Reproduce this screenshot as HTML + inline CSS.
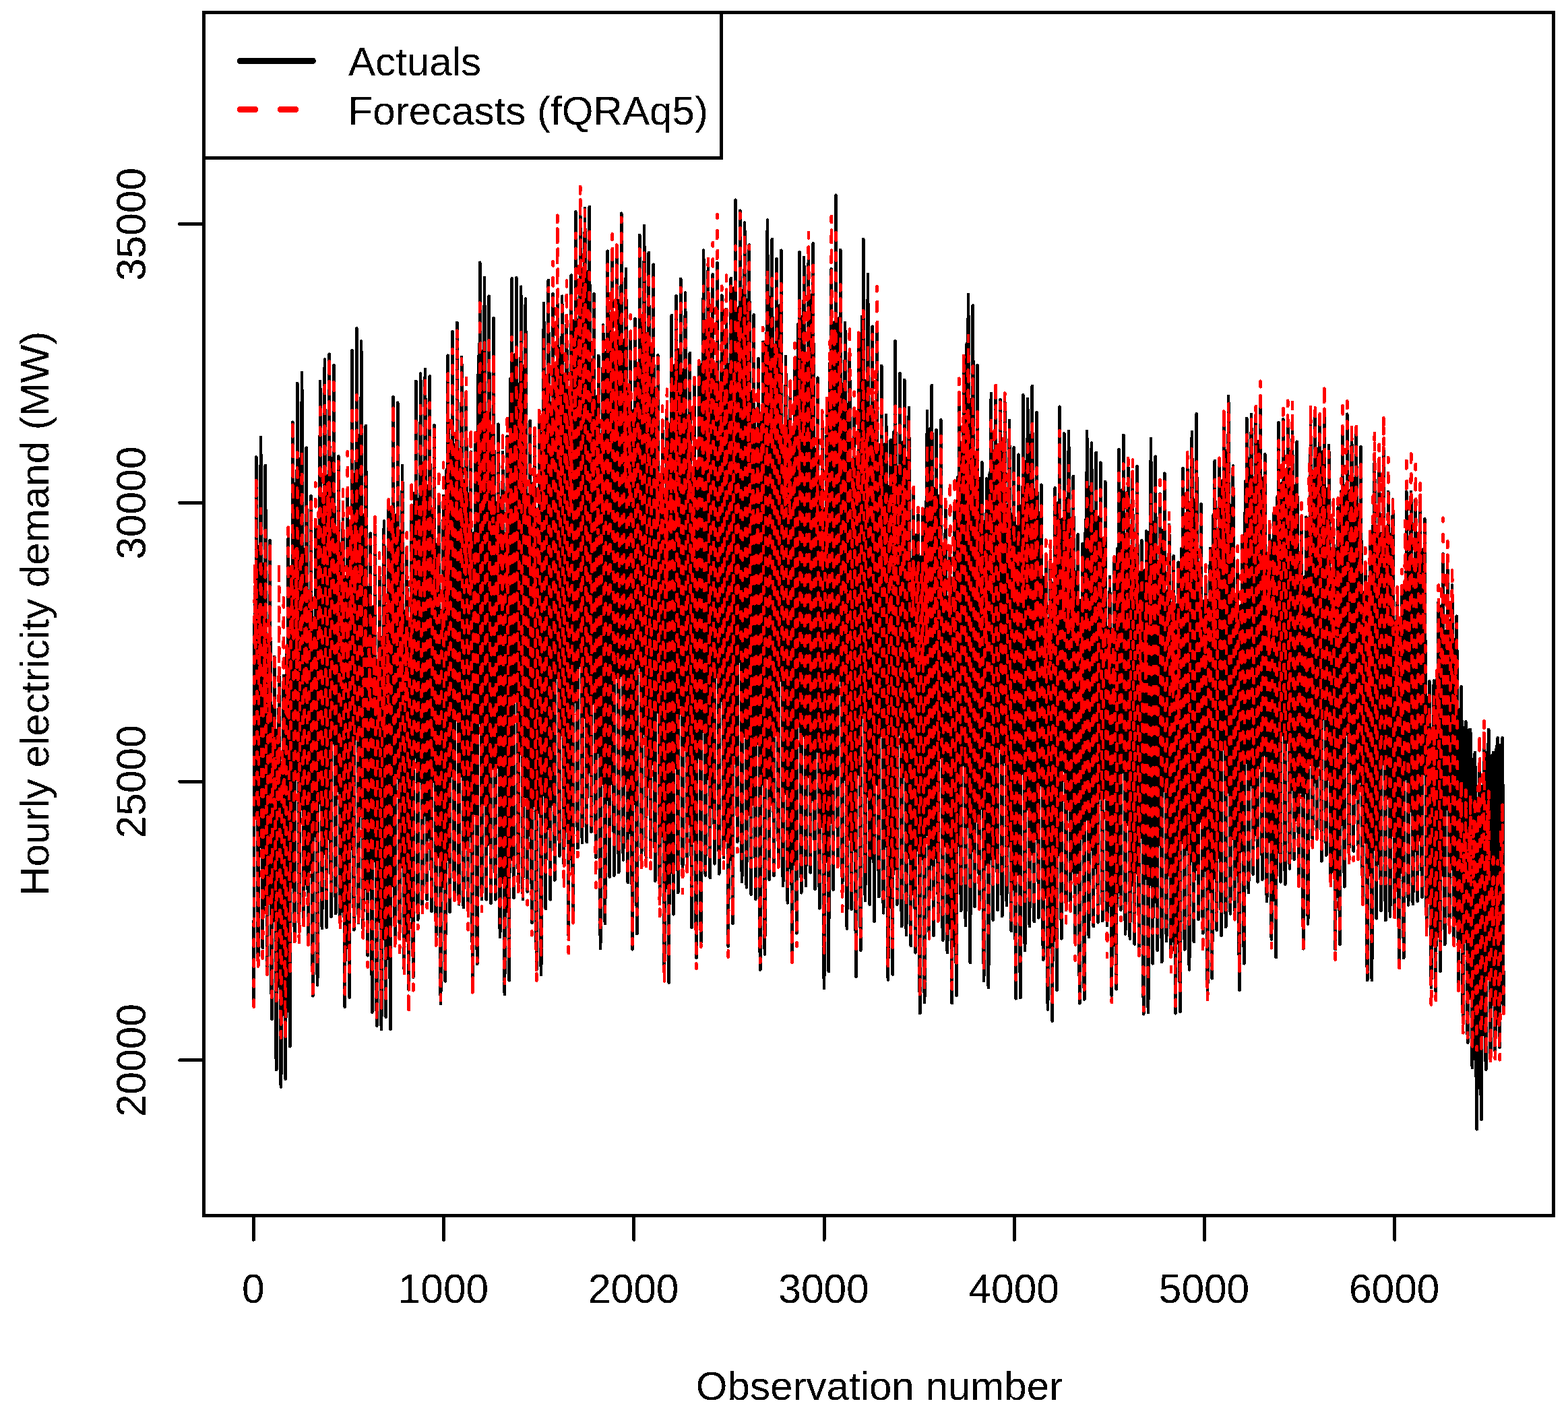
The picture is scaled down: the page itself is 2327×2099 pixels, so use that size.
<!DOCTYPE html>
<html lang="en"><head><meta charset="utf-8"><title>Hourly electricity demand: actuals vs forecasts (fQRAq5)</title>
<style>
html,body{margin:0;padding:0;background:#fff;}
body{width:2327px;height:2099px;overflow:hidden;}
svg{display:block;}
text{font-family:"Liberation Sans",sans-serif;fill:#000;}
.lab{font-size:60.1px;}
.tick{font-size:60.4px;}
</style></head><body>
<svg width="2327" height="2099" viewBox="0 0 2327 2099">
<rect x="0" y="0" width="2327" height="2099" fill="#fff"/>
<g fill="none" stroke-linejoin="round" stroke-linecap="round" shape-rendering="crispEdges">
<path stroke="#000" stroke-width="4.7" d="M376.6 1485.3L376.9 1351.2L377.1 1151.4L377.4 965.4L377.7 966.9L378.0 892.0L378.3 885.2L378.6 904.7L378.8 878.9L379.1 934.6L379.4 953.4L379.7 935.7L380.0 773.6L380.3 678.5L380.5 722.1L380.8 814.6L381.1 924.3L381.4 1035.8L381.7 1141.3L381.9 1232.5L382.2 1322.8L382.5 1386.4L382.8 1418.1L383.1 1427.7L383.4 1395.5L383.6 1291.8L383.9 1100.9L384.2 917.8L384.5 903.4L384.8 819.6L385.0 811.0L385.3 848.2L385.6 908.4L385.9 941.8L386.2 965.1L386.5 960.8L386.7 746.1L387.0 649.0L387.3 695.2L387.6 782.7L387.9 903.3L388.2 1008.7L388.4 1109.2L388.7 1209.7L389.0 1303.9L389.3 1364.3L389.6 1395.9L389.8 1406.9L390.1 1380.2L390.4 1283.1L390.7 1103.1L391.0 930.5L391.3 920.8L391.5 840.5L391.8 836.5L392.1 861.3L392.4 869.6L392.7 920.9L393.0 942.5L393.2 916.0L393.5 782.1L393.8 691.2L394.1 738.2L394.4 827.5L394.6 936.6L394.9 1041.3L395.2 1146.1L395.5 1245.1L395.8 1332.5L396.1 1391.6L396.3 1423.1L396.6 1439.2L396.9 1416.7L397.2 1333.6L397.5 1163.4L397.8 1001.6L398.0 1009.3L398.3 952.3L398.6 960.1L398.9 992.1L399.2 1028.9L399.4 1073.7L399.7 1088.9L400.0 1078.3L400.3 887.5L400.6 802.0L400.9 846.5L401.1 930.2L401.4 1033.9L401.7 1134.4L402.0 1236.0L402.3 1319.9L402.5 1410.8L402.8 1468.6L403.1 1499.4L403.4 1513.0L403.7 1493.0L404.0 1420.9L404.2 1277.5L404.5 1138.0L404.8 1122.1L405.1 1059.9L405.4 1048.3L405.7 1087.8L405.9 1112.0L406.2 1141.1L406.5 1167.2L406.8 1157.5L407.1 1045.6L407.3 975.0L407.6 1013.9L407.9 1085.6L408.2 1172.6L408.5 1258.8L408.8 1342.9L409.0 1424.9L409.3 1500.1L409.6 1549.3L409.9 1575.7L410.2 1588.0L410.5 1567.5L410.7 1488.2L411.0 1332.6L411.3 1187.2L411.6 1143.0L411.9 1101.1L412.1 1083.9L412.4 1112.0L412.7 1192.9L413.0 1217.6L413.3 1236.4L413.6 1221.4L413.8 1070.1L414.1 995.0L414.4 1029.9L414.7 1104.7L415.0 1200.5L415.3 1284.6L415.5 1369.6L415.8 1450.9L416.1 1521.3L416.4 1573.9L416.7 1599.6L416.9 1613.4L417.2 1592.0L417.5 1509.9L417.8 1356.1L418.1 1213.9L418.4 1220.9L418.6 1141.0L418.9 1134.4L419.2 1167.2L419.5 1220.1L419.8 1236.4L420.0 1273.1L420.3 1253.9L420.6 1079.3L420.9 1003.0L421.2 1036.5L421.5 1114.5L421.7 1203.2L422.0 1284.9L422.3 1366.6L422.6 1448.0L422.9 1518.0L423.2 1567.2L423.4 1588.9L423.7 1601.9L424.0 1567.3L424.3 1470.0L424.6 1273.6L424.8 1081.2L425.1 1056.0L425.4 963.3L425.7 968.7L426.0 1000.7L426.3 1080.7L426.5 1113.4L426.8 1136.5L427.1 1132.2L427.4 894.4L427.7 799.3L428.0 846.3L428.2 938.3L428.5 1049.3L428.8 1152.5L429.1 1264.5L429.4 1364.0L429.6 1452.7L429.9 1511.1L430.2 1539.0L430.5 1553.4L430.8 1514.9L431.1 1397.8L431.3 1180.4L431.6 972.6L431.9 960.9L432.2 862.0L432.5 852.0L432.8 883.1L433.0 948.3L433.3 984.2L433.6 990.0L433.9 962.9L434.2 736.2L434.4 626.6L434.7 674.1L435.0 766.3L435.3 881.7L435.6 991.2L435.9 1105.5L436.1 1209.0L436.4 1303.5L436.7 1359.2L437.0 1390.5L437.3 1397.7L437.5 1367.9L437.8 1255.1L438.1 1054.7L438.4 853.4L438.7 808.1L439.0 743.4L439.2 717.4L439.5 770.0L439.8 822.4L440.1 867.6L440.4 887.6L440.7 861.4L440.9 669.9L441.2 568.9L441.5 619.4L441.8 713.7L442.1 837.2L442.3 949.3L442.6 1055.9L442.9 1163.7L443.2 1256.5L443.5 1319.8L443.8 1351.4L444.0 1370.0L444.3 1339.8L444.6 1229.8L444.9 1028.2L445.2 833.9L445.5 774.2L445.7 697.2L446.0 680.5L446.3 717.7L446.6 764.3L446.9 819.8L447.1 844.4L447.4 828.4L447.7 654.4L448.0 552.7L448.3 599.6L448.6 701.3L448.8 823.6L449.1 930.9L449.4 1050.0L449.7 1151.1L450.0 1248.8L450.2 1319.9L450.5 1345.6L450.8 1365.3L451.1 1337.2L451.4 1242.7L451.7 1065.1L451.9 894.8L452.2 901.0L452.5 815.1L452.8 828.5L453.1 852.7L453.4 843.2L453.6 878.8L453.9 893.8L454.2 872.5L454.5 752.9L454.8 664.7L455.0 705.6L455.3 797.2L455.6 901.0L455.9 1002.3L456.2 1111.6L456.5 1200.4L456.7 1290.0L457.0 1347.3L457.3 1376.1L457.6 1393.0L457.9 1372.1L458.2 1283.8L458.4 1103.8L458.7 938.6L459.0 956.9L459.3 898.5L459.6 884.5L459.8 926.9L460.1 899.2L460.4 928.5L460.7 967.1L461.0 943.8L461.3 818.9L461.5 736.2L461.8 778.8L462.1 868.8L462.4 983.9L462.7 1082.1L463.0 1186.3L463.2 1281.6L463.5 1372.3L463.8 1428.0L464.1 1459.2L464.4 1478.4L464.6 1452.6L464.9 1361.5L465.2 1181.6L465.5 1013.6L465.8 1006.4L466.1 936.8L466.3 929.5L466.6 955.3L466.9 987.5L467.2 1027.1L467.5 1050.2L467.7 1040.1L468.0 855.3L468.3 770.8L468.6 808.6L468.9 896.2L469.2 997.5L469.4 1098.6L469.7 1193.3L470.0 1286.3L470.3 1363.8L470.6 1421.7L470.9 1451.3L471.1 1462.3L471.4 1422.3L471.7 1313.4L472.0 1099.8L472.3 891.6L472.5 891.6L472.8 798.3L473.1 796.1L473.4 844.7L473.7 787.0L474.0 840.2L474.2 852.6L474.5 842.1L474.8 671.6L475.1 565.9L475.4 611.7L475.7 714.6L475.9 837.4L476.2 953.3L476.5 1067.9L476.8 1173.8L477.1 1271.5L477.3 1331.6L477.6 1364.1L477.9 1378.0L478.2 1345.6L478.5 1232.5L478.8 1020.0L479.0 824.7L479.3 831.9L479.6 741.2L479.9 732.5L480.2 782.1L480.5 764.1L480.7 804.8L481.0 837.2L481.3 809.9L481.6 635.3L481.9 533.6L482.1 585.3L482.4 684.7L482.7 812.4L483.0 926.5L483.3 1046.9L483.6 1154.8L483.8 1255.9L484.1 1324.4L484.4 1362.7L484.7 1376.9L485.0 1343.4L485.2 1230.3L485.5 1017.4L485.8 818.9L486.1 801.4L486.4 720.1L486.7 705.9L486.9 753.3L487.2 797.2L487.5 826.7L487.8 865.9L488.1 839.6L488.4 629.4L488.6 525.7L488.9 574.9L489.2 676.4L489.5 804.7L489.8 922.0L490.0 1034.0L490.3 1145.7L490.6 1241.3L490.9 1308.1L491.2 1344.7L491.5 1360.7L491.7 1330.0L492.0 1224.7L492.3 1015.9L492.6 822.8L492.9 774.2L493.2 680.9L493.4 680.5L493.7 722.0L494.0 823.3L494.3 870.2L494.6 903.6L494.8 880.5L495.1 644.7L495.4 541.9L495.7 588.1L496.0 686.4L496.3 808.4L496.5 925.3L496.8 1040.8L497.1 1141.1L497.4 1243.9L497.7 1309.3L497.9 1338.8L498.2 1356.1L498.5 1331.1L498.8 1236.8L499.1 1073.2L499.4 907.6L499.6 887.1L499.9 810.4L500.2 819.6L500.5 855.6L500.8 899.5L501.1 949.7L501.3 979.3L501.6 954.9L501.9 764.2L502.2 677.4L502.5 718.7L502.7 805.5L503.0 909.5L503.3 1001.5L503.6 1101.6L503.9 1188.5L504.2 1269.4L504.4 1326.2L504.7 1352.7L505.0 1370.0L505.3 1344.4L505.6 1263.5L505.9 1094.2L506.1 931.1L506.4 885.4L506.7 820.2L507.0 830.5L507.3 852.4L507.5 886.8L507.8 932.6L508.1 955.4L508.4 954.4L508.7 832.9L509.0 750.8L509.2 800.2L509.5 883.4L509.8 993.0L510.1 1097.1L510.4 1197.0L510.7 1294.6L510.9 1380.1L511.2 1444.1L511.5 1477.9L511.8 1494.6L512.1 1464.1L512.3 1364.6L512.6 1177.7L512.9 994.7L513.2 947.5L513.5 866.7L513.8 856.2L514.0 889.3L514.3 923.7L514.6 944.4L514.9 989.2L515.2 961.1L515.4 828.2L515.7 729.3L516.0 776.2L516.3 868.2L516.6 974.5L516.9 1082.9L517.1 1188.9L517.4 1284.6L517.7 1376.5L518.0 1435.3L518.3 1466.4L518.6 1480.7L518.8 1440.1L519.1 1317.5L519.4 1088.6L519.7 871.1L520.0 887.0L520.2 788.1L520.5 778.6L520.8 813.0L521.1 811.0L521.4 847.1L521.7 885.6L521.9 862.0L522.2 640.4L522.5 520.4L522.8 573.0L523.1 674.5L523.4 809.4L523.6 927.2L523.9 1052.3L524.2 1161.9L524.5 1268.6L524.8 1338.5L525.0 1364.9L525.3 1380.3L525.6 1344.7L525.9 1227.6L526.2 1002.6L526.5 792.4L526.7 793.7L527.0 704.1L527.3 705.7L527.6 743.0L527.9 748.5L528.2 796.3L528.4 827.8L528.7 794.6L529.0 600.7L529.3 487.4L529.6 541.3L529.8 647.4L530.1 779.8L530.4 901.8L530.7 1027.3L531.0 1142.2L531.3 1250.6L531.5 1319.9L531.8 1355.4L532.1 1370.0L532.4 1336.5L532.7 1221.8L532.9 1004.1L533.2 799.3L533.5 757.7L533.8 663.2L534.1 645.6L534.4 705.9L534.6 731.9L534.9 775.5L535.2 800.6L535.5 786.2L535.8 616.8L536.1 506.6L536.3 558.6L536.6 663.0L536.9 796.4L537.2 913.6L537.5 1039.8L537.7 1156.9L538.0 1259.8L538.3 1327.5L538.6 1365.1L538.9 1381.5L539.2 1349.9L539.4 1256.6L539.7 1060.4L540.0 875.3L540.3 856.9L540.6 774.0L540.9 764.1L541.1 807.6L541.4 888.2L541.7 914.6L542.0 958.6L542.3 938.5L542.5 729.3L542.8 631.9L543.1 677.9L543.4 774.7L543.7 888.8L544.0 1001.0L544.2 1107.4L544.5 1214.1L544.8 1308.8L545.1 1367.7L545.4 1399.2L545.6 1418.4L545.9 1397.6L546.2 1306.8L546.5 1148.2L546.8 987.3L547.1 933.8L547.3 872.5L547.6 877.1L547.9 915.0L548.2 952.6L548.5 1000.4L548.8 1019.9L549.0 1022.5L549.3 872.1L549.6 791.6L549.9 839.0L550.2 922.1L550.4 1026.0L550.7 1121.4L551.0 1221.7L551.3 1310.0L551.6 1394.6L551.9 1456.8L552.1 1484.5L552.4 1502.7L552.7 1476.2L553.0 1382.7L553.3 1198.9L553.6 1024.0L553.8 985.5L554.1 916.1L554.4 900.3L554.7 939.5L555.0 1014.3L555.2 1064.4L555.5 1101.2L555.8 1064.2L556.1 875.0L556.4 788.9L556.7 834.9L556.9 923.7L557.2 1034.5L557.5 1134.1L557.8 1234.4L558.1 1333.5L558.4 1415.6L558.6 1479.1L558.9 1504.1L559.2 1522.7L559.5 1494.8L559.8 1404.9L560.0 1235.5L560.3 1077.1L560.6 1060.3L560.9 995.3L561.2 979.9L561.5 1026.2L561.7 1044.8L562.0 1085.3L562.3 1120.4L562.6 1102.2L562.9 926.6L563.1 845.4L563.4 888.9L563.7 971.2L564.0 1069.2L564.3 1165.2L564.6 1262.2L564.8 1353.6L565.1 1431.3L565.4 1489.8L565.7 1516.3L566.0 1528.0L566.3 1493.6L566.5 1397.2L566.8 1214.7L567.1 1030.6L567.4 1034.0L567.7 952.9L567.9 952.7L568.2 998.1L568.5 973.4L568.8 988.9L569.1 1018.5L569.4 1014.1L569.6 863.7L569.9 773.6L570.2 815.6L570.5 902.8L570.8 1013.4L571.1 1116.3L571.3 1224.5L571.6 1321.3L571.9 1409.3L572.2 1469.3L572.5 1496.8L572.7 1509.6L573.0 1483.5L573.3 1382.1L573.6 1188.2L573.9 1003.8L574.2 1004.0L574.4 919.9L574.7 907.2L575.0 952.4L575.3 969.9L575.6 1008.1L575.9 1028.4L576.1 1013.2L576.4 848.9L576.7 754.7L577.0 799.0L577.3 897.1L577.5 1009.0L577.8 1118.9L578.1 1227.3L578.4 1327.8L578.7 1420.3L579.0 1482.6L579.2 1510.0L579.5 1528.0L579.8 1491.3L580.1 1373.4L580.4 1152.6L580.6 934.1L580.9 855.5L581.2 781.2L581.5 758.7L581.8 793.7L582.1 922.8L582.3 937.6L582.6 978.2L582.9 944.6L583.2 699.2L583.5 589.0L583.8 634.1L584.0 734.2L584.3 859.1L584.6 967.0L584.9 1085.8L585.2 1188.6L585.4 1291.9L585.7 1349.4L586.0 1377.7L586.3 1393.0L586.6 1359.5L586.9 1255.1L587.1 1062.8L587.4 873.1L587.7 862.3L588.0 769.8L588.3 764.3L588.6 798.9L588.8 814.2L589.1 847.7L589.4 879.0L589.7 865.5L590.0 699.5L590.2 597.7L590.5 645.2L590.8 735.6L591.1 857.7L591.4 966.0L591.7 1080.3L591.9 1180.1L592.2 1275.2L592.5 1336.8L592.8 1366.5L593.1 1381.5L593.4 1353.3L593.6 1260.4L593.9 1083.4L594.2 913.2L594.5 851.9L594.8 787.8L595.0 788.5L595.3 814.3L595.6 871.4L595.9 906.1L596.2 929.4L596.5 909.7L596.7 776.0L597.0 690.7L597.3 735.2L597.6 827.9L597.9 937.0L598.1 1041.0L598.4 1141.8L598.7 1244.5L599.0 1329.2L599.3 1389.5L599.6 1418.8L599.8 1439.2L600.1 1418.1L600.4 1336.1L600.7 1177.4L601.0 1023.5L601.3 977.9L601.5 915.0L601.8 906.9L602.1 924.2L602.4 999.2L602.7 1033.8L602.9 1070.7L603.2 1047.7L603.5 893.7L603.8 815.4L604.1 857.1L604.4 932.2L604.6 1034.3L604.9 1123.0L605.2 1212.1L605.5 1297.2L605.8 1379.5L606.1 1428.5L606.3 1452.5L606.6 1469.2L606.9 1441.3L607.2 1353.6L607.5 1174.6L607.7 1010.1L608.0 1012.6L608.3 926.6L608.6 920.1L608.9 964.5L609.2 951.8L609.4 981.7L609.7 1012.2L610.0 999.6L610.3 852.5L610.6 768.5L610.8 805.8L611.1 887.7L611.4 996.7L611.7 1090.8L612.0 1182.9L612.3 1277.3L612.5 1352.6L612.8 1409.8L613.1 1440.5L613.4 1450.7L613.7 1416.9L614.0 1302.4L614.2 1092.3L614.5 888.5L614.8 827.7L615.1 746.6L615.4 731.6L615.6 779.4L615.9 853.3L616.2 889.7L616.5 921.7L616.8 897.5L617.1 667.0L617.3 565.9L617.6 610.0L617.9 711.1L618.2 832.9L618.5 944.2L618.8 1057.4L619.0 1161.7L619.3 1262.2L619.6 1324.7L619.9 1352.9L620.2 1365.3L620.4 1332.2L620.7 1225.3L621.0 1025.3L621.3 835.6L621.6 823.1L621.9 745.0L622.1 740.6L622.4 793.9L622.7 759.3L623.0 803.9L623.3 824.9L623.6 800.8L623.8 650.0L624.1 554.4L624.4 601.8L624.7 697.2L625.0 818.7L625.2 931.0L625.5 1037.9L625.8 1142.9L626.1 1235.6L626.4 1298.8L626.7 1331.7L626.9 1346.9L627.2 1318.5L627.5 1208.6L627.8 1013.9L628.1 826.2L628.3 783.9L628.6 700.1L628.9 687.0L629.2 726.9L629.5 780.9L629.8 819.1L630.0 844.8L630.3 826.1L630.6 644.5L630.9 548.1L631.2 597.9L631.5 688.8L631.7 807.8L632.0 920.8L632.3 1027.8L632.6 1133.3L632.9 1225.8L633.1 1287.5L633.4 1319.6L633.7 1335.3L634.0 1303.9L634.3 1199.2L634.6 1004.4L634.8 816.9L635.1 820.0L635.4 735.6L635.7 721.2L636.0 778.3L636.3 784.2L636.5 830.4L636.8 868.0L637.1 844.0L637.4 648.3L637.7 558.5L637.9 608.7L638.2 701.5L638.5 822.1L638.8 931.2L639.1 1045.9L639.4 1146.9L639.6 1237.0L639.9 1301.0L640.2 1339.9L640.5 1352.7L640.8 1322.5L641.1 1229.3L641.3 1049.0L641.6 867.9L641.9 857.8L642.2 787.7L642.5 763.9L642.7 815.0L643.0 885.0L643.3 912.9L643.6 943.7L643.9 918.4L644.2 718.3L644.4 631.2L644.7 681.0L645.0 764.6L645.3 881.1L645.6 985.4L645.8 1092.8L646.1 1186.4L646.4 1278.1L646.7 1339.1L647.0 1371.9L647.3 1388.4L647.5 1366.4L647.8 1277.0L648.1 1098.0L648.4 933.4L648.7 883.5L649.0 807.4L649.2 809.6L649.5 859.1L649.8 870.3L650.1 928.0L650.4 942.8L650.6 932.4L650.9 813.8L651.2 733.9L651.5 778.6L651.8 871.0L652.1 981.5L652.3 1089.4L652.6 1194.4L652.9 1285.8L653.2 1377.3L653.5 1441.8L653.8 1471.8L654.0 1490.0L654.3 1457.9L654.6 1362.2L654.9 1173.5L655.2 1003.7L655.4 982.2L655.7 913.9L656.0 906.2L656.3 924.7L656.6 922.7L656.9 955.6L657.1 991.2L657.4 969.8L657.7 817.8L658.0 736.2L658.3 777.1L658.5 867.2L658.8 973.6L659.1 1072.8L659.4 1174.7L659.7 1271.7L660.0 1358.7L660.2 1418.9L660.5 1443.5L660.8 1456.5L661.1 1416.8L661.4 1298.5L661.7 1080.3L661.9 864.1L662.2 794.9L662.5 707.5L662.8 697.0L663.1 732.9L663.3 824.6L663.6 853.6L663.9 900.8L664.2 866.0L664.5 628.7L664.8 527.7L665.0 572.1L665.3 674.2L665.6 803.1L665.9 920.1L666.2 1038.8L666.5 1148.1L666.7 1243.5L667.0 1310.2L667.3 1339.3L667.6 1353.8L667.9 1317.0L668.1 1204.3L668.4 994.4L668.7 790.6L669.0 770.1L669.3 687.1L669.6 666.8L669.8 708.0L670.1 763.7L670.4 813.1L670.7 835.3L671.0 798.9L671.3 582.4L671.5 492.0L671.8 540.7L672.1 644.5L672.4 767.2L672.7 886.7L672.9 1008.7L673.2 1121.0L673.5 1217.2L673.8 1286.6L674.1 1319.2L674.4 1335.3L674.6 1298.3L674.9 1187.6L675.2 976.9L675.5 770.0L675.8 744.9L676.0 660.0L676.3 667.2L676.6 695.6L676.9 720.6L677.2 762.8L677.5 792.2L677.7 766.2L678.0 569.2L678.3 478.8L678.6 529.9L678.9 637.8L679.2 764.8L679.4 882.4L679.7 1006.6L680.0 1115.6L680.3 1221.0L680.6 1288.6L680.8 1328.4L681.1 1342.3L681.4 1311.0L681.7 1206.9L682.0 1001.4L682.3 808.2L682.5 762.2L682.8 687.4L683.1 678.1L683.4 716.8L683.7 716.9L684.0 757.1L684.2 786.5L684.5 774.4L684.8 618.5L685.1 530.0L685.4 579.5L685.6 673.5L685.9 799.6L686.2 911.2L686.5 1025.8L686.8 1133.7L687.1 1232.6L687.3 1295.6L687.6 1328.6L687.9 1346.9L688.2 1315.6L688.5 1213.9L688.8 1025.1L689.0 844.0L689.3 790.1L689.6 713.8L689.9 713.3L690.2 748.6L690.4 790.6L690.7 813.1L691.0 850.3L691.3 836.4L691.6 661.6L691.9 583.1L692.1 632.3L692.4 717.7L692.7 838.2L693.0 939.8L693.3 1051.7L693.5 1151.1L693.8 1238.6L694.1 1304.2L694.4 1328.9L694.7 1346.9L695.0 1321.5L695.2 1227.1L695.5 1049.9L695.8 873.6L696.1 806.6L696.4 740.2L696.7 732.9L696.9 760.6L697.2 861.7L697.5 902.9L697.8 930.8L698.1 907.0L698.3 744.7L698.6 670.8L698.9 723.3L699.2 813.9L699.5 932.8L699.8 1040.2L700.0 1147.7L700.3 1253.2L700.6 1343.0L700.9 1408.9L701.2 1439.0L701.5 1462.3L701.7 1431.2L702.0 1322.3L702.3 1125.1L702.6 936.0L702.9 874.9L703.1 804.0L703.4 791.2L703.7 827.1L704.0 923.4L704.3 959.6L704.6 983.6L704.8 962.3L705.1 744.8L705.4 659.3L705.7 703.0L706.0 800.4L706.3 912.3L706.5 1023.4L706.8 1130.4L707.1 1229.5L707.4 1327.3L707.7 1390.0L707.9 1415.2L708.2 1431.1L708.5 1389.0L708.8 1259.6L709.1 1007.4L709.4 761.2L709.6 648.5L709.9 544.5L710.2 528.7L710.5 586.5L710.8 678.4L711.0 729.9L711.3 763.8L711.6 727.4L711.9 491.5L712.2 389.7L712.5 446.3L712.7 562.3L713.0 700.4L713.3 838.1L713.6 970.8L713.9 1093.8L714.2 1211.0L714.4 1288.0L714.7 1315.8L715.0 1335.3L715.3 1301.1L715.6 1175.8L715.8 949.2L716.1 722.7L716.4 614.4L716.7 537.3L717.0 520.6L717.3 569.8L717.5 657.8L717.8 704.2L718.1 741.7L718.4 720.7L718.7 507.6L719.0 411.9L719.2 464.8L719.5 577.6L719.8 717.0L720.1 846.5L720.4 978.6L720.6 1098.0L720.9 1203.3L721.2 1278.9L721.5 1313.7L721.8 1335.3L722.1 1297.1L722.3 1185.1L722.6 959.8L722.9 745.3L723.2 709.6L723.5 616.7L723.7 627.6L724.0 669.3L724.3 720.7L724.6 743.6L724.9 788.9L725.2 767.8L725.4 531.6L725.7 439.6L726.0 497.1L726.3 602.2L726.6 736.1L726.9 859.2L727.1 991.7L727.4 1110.2L727.7 1217.8L728.0 1288.0L728.3 1321.6L728.5 1341.1L728.8 1309.7L729.1 1197.1L729.4 974.1L729.7 769.4L730.0 720.9L730.2 632.0L730.5 631.9L730.8 678.4L731.1 665.2L731.4 707.7L731.7 741.8L731.9 714.7L732.2 558.4L732.5 471.9L732.8 521.6L733.1 629.5L733.3 753.9L733.6 879.0L733.9 998.0L734.2 1111.7L734.5 1216.0L734.8 1283.7L735.0 1322.1L735.3 1335.3L735.6 1311.8L735.9 1213.0L736.2 1030.6L736.5 856.9L736.7 819.6L737.0 757.5L737.3 745.8L737.6 775.7L737.9 844.0L738.1 881.1L738.4 914.2L738.7 892.4L739.0 697.2L739.3 629.7L739.6 675.5L739.8 766.3L740.1 877.8L740.4 988.3L740.7 1090.3L741.0 1186.9L741.2 1281.0L741.5 1344.6L741.8 1375.9L742.1 1390.7L742.4 1362.2L742.7 1264.1L742.9 1076.2L743.2 895.7L743.5 819.6L743.8 750.7L744.1 738.9L744.4 780.5L744.6 813.6L744.9 854.3L745.2 903.1L745.5 877.3L745.8 739.5L746.0 670.8L746.3 720.0L746.6 819.5L746.9 936.1L747.2 1047.2L747.5 1157.3L747.7 1259.3L748.0 1358.7L748.3 1419.4L748.6 1459.5L748.9 1476.1L749.2 1441.7L749.4 1337.1L749.7 1131.4L750.0 931.0L750.3 898.0L750.6 804.4L750.8 799.3L751.1 842.7L751.4 820.1L751.7 869.0L752.0 908.6L752.3 868.1L752.5 729.5L752.8 647.7L753.1 693.6L753.4 794.6L753.7 913.3L754.0 1028.2L754.2 1138.0L754.5 1249.2L754.8 1341.3L755.1 1407.8L755.4 1438.2L755.6 1455.3L755.9 1412.3L756.2 1282.2L756.5 1030.5L756.8 790.9L757.1 679.1L757.3 564.7L757.6 561.8L757.9 608.7L758.2 663.6L758.5 694.4L758.7 746.1L759.0 706.6L759.3 508.4L759.6 413.5L759.9 464.3L760.2 578.1L760.4 715.5L760.7 852.5L761.0 981.7L761.3 1103.6L761.6 1211.5L761.9 1288.4L762.1 1315.8L762.4 1333.0L762.7 1291.9L763.0 1173.8L763.3 946.5L763.5 732.0L763.8 622.0L764.1 532.8L764.4 526.0L764.7 562.2L765.0 662.1L765.2 707.4L765.5 748.9L765.8 710.8L766.1 501.0L766.4 412.4L766.7 469.7L766.9 576.3L767.2 709.0L767.5 834.1L767.8 959.0L768.1 1082.1L768.3 1184.7L768.6 1260.0L768.9 1294.6L769.2 1312.3L769.5 1279.8L769.8 1161.5L770.0 940.5L770.3 725.4L770.6 668.5L770.9 593.5L771.2 570.2L771.5 625.3L771.7 661.6L772.0 719.9L772.3 748.2L772.6 712.4L772.9 508.0L773.1 425.7L773.4 480.9L773.7 587.2L774.0 724.5L774.3 855.6L774.6 983.4L774.8 1099.7L775.1 1203.0L775.4 1282.7L775.7 1316.0L776.0 1335.3L776.2 1296.6L776.5 1187.2L776.8 960.4L777.1 745.6L777.4 632.8L777.7 555.5L777.9 542.5L778.2 575.7L778.5 697.7L778.8 736.8L779.1 772.8L779.4 741.0L779.6 523.8L779.9 443.5L780.2 499.4L780.5 601.6L780.8 737.6L781.0 858.0L781.3 984.3L781.6 1095.4L781.9 1200.7L782.2 1272.4L782.5 1305.1L782.7 1323.8L783.0 1299.5L783.3 1202.4L783.6 1027.5L783.9 854.6L784.2 813.7L784.4 734.3L784.7 743.0L785.0 776.3L785.3 776.1L785.6 803.2L785.8 845.2L786.1 811.9L786.4 691.3L786.7 624.7L787.0 668.8L787.3 758.1L787.5 870.4L787.8 974.7L788.1 1077.8L788.4 1173.4L788.7 1263.6L788.9 1325.3L789.2 1353.1L789.5 1370.0L789.8 1338.4L790.1 1243.4L790.4 1056.9L790.6 875.9L790.9 814.3L791.2 723.0L791.5 717.3L791.8 763.3L792.1 780.5L792.3 829.0L792.6 866.6L792.9 843.2L793.2 714.4L793.5 647.7L793.7 692.7L794.0 787.3L794.3 909.1L794.6 1020.3L794.9 1125.5L795.2 1233.1L795.4 1324.2L795.7 1388.3L796.0 1422.0L796.3 1439.2L796.6 1410.2L796.9 1298.7L797.1 1092.9L797.4 898.2L797.7 858.6L798.0 765.9L798.3 756.8L798.5 799.6L798.8 843.4L799.1 890.8L799.4 913.4L799.7 902.9L800.0 701.9L800.2 624.7L800.5 676.7L800.8 769.3L801.1 894.4L801.4 1014.2L801.7 1128.6L801.9 1229.6L802.2 1330.6L802.5 1395.8L802.8 1432.0L803.1 1446.7L803.3 1407.0L803.6 1281.9L803.9 1036.1L804.2 810.9L804.5 760.4L804.8 667.4L805.0 643.1L805.3 699.2L805.6 700.1L805.9 741.0L806.2 774.9L806.4 753.6L806.7 535.7L807.0 450.0L807.3 500.5L807.6 608.6L807.9 744.4L808.1 879.2L808.4 1001.7L808.7 1124.8L809.0 1231.6L809.3 1298.7L809.6 1337.9L809.8 1349.2L810.1 1307.9L810.4 1188.8L810.7 959.3L811.0 732.3L811.2 694.9L811.5 585.5L811.8 593.2L812.1 620.1L812.4 578.8L812.7 616.8L812.9 655.1L813.2 631.7L813.5 498.7L813.8 415.9L814.1 470.0L814.4 582.5L814.6 717.0L814.9 845.9L815.2 978.9L815.5 1095.5L815.8 1211.0L816.0 1280.4L816.3 1317.2L816.6 1335.3L816.9 1295.7L817.2 1184.0L817.5 962.5L817.7 751.8L818.0 699.2L818.3 616.4L818.6 597.6L818.9 634.1L819.2 694.0L819.4 743.6L819.7 780.2L820.0 756.1L820.3 519.5L820.6 436.2L820.8 488.4L821.1 593.0L821.4 723.8L821.7 845.9L822.0 969.8L822.3 1082.5L822.5 1189.4L822.8 1255.6L823.1 1289.8L823.4 1306.5L823.7 1271.8L823.9 1162.0L824.2 953.5L824.5 749.9L824.8 630.5L825.1 546.6L825.4 543.9L825.6 570.7L825.9 631.1L826.2 681.8L826.5 697.9L826.8 676.4L827.1 528.3L827.3 450.0L827.6 502.1L827.9 599.0L828.2 722.3L828.5 835.9L828.7 951.8L829.0 1060.6L829.3 1157.1L829.6 1225.9L829.9 1251.6L830.2 1270.7L830.4 1236.2L830.7 1125.3L831.0 918.7L831.3 719.9L831.6 621.7L831.9 540.3L832.1 516.6L832.4 556.1L832.7 596.3L833.0 659.7L833.3 685.6L833.5 648.6L833.8 516.1L834.1 439.7L834.4 494.3L834.7 592.7L835.0 716.2L835.2 840.1L835.5 956.0L835.8 1061.6L836.1 1167.5L836.4 1233.1L836.6 1267.8L836.9 1284.6L837.2 1253.4L837.5 1145.2L837.8 931.0L838.1 729.3L838.3 645.0L838.6 565.1L838.9 578.4L839.2 618.4L839.5 676.5L839.8 724.7L840.0 754.6L840.3 736.4L840.6 545.0L840.9 473.1L841.2 527.0L841.4 642.7L841.7 775.8L842.0 903.3L842.3 1022.7L842.6 1146.0L842.9 1251.8L843.1 1327.4L843.4 1368.1L843.7 1388.4L844.0 1349.2L844.3 1225.2L844.6 979.7L844.8 745.3L845.1 696.9L845.4 598.8L845.7 581.2L846.0 634.7L846.2 645.2L846.5 686.2L846.8 731.1L847.1 695.8L847.4 496.4L847.7 408.5L847.9 465.5L848.2 583.5L848.5 726.5L848.8 860.9L849.1 997.2L849.4 1116.0L849.6 1231.9L849.9 1307.1L850.2 1343.8L850.5 1365.3L850.8 1318.4L851.0 1191.7L851.3 940.5L851.6 691.4L851.9 578.1L852.2 476.2L852.5 477.9L852.7 525.9L853.0 552.2L853.3 595.9L853.6 643.7L853.9 604.7L854.1 403.9L854.4 314.4L854.7 365.3L855.0 481.2L855.3 625.1L855.6 759.9L855.8 896.0L856.1 1017.7L856.4 1131.9L856.7 1206.4L857.0 1246.9L857.3 1259.2L857.5 1221.1L857.8 1098.4L858.1 865.3L858.4 637.8L858.7 564.8L858.9 482.0L859.2 475.2L859.5 508.5L859.8 523.3L860.1 587.1L860.4 604.7L860.6 593.1L860.9 408.2L861.2 320.8L861.5 373.7L861.8 490.9L862.1 625.1L862.3 754.6L862.6 887.0L862.9 1008.5L863.2 1122.1L863.5 1195.3L863.7 1235.1L864.0 1251.1L864.3 1211.0L864.6 1092.9L864.9 852.4L865.2 633.1L865.4 527.2L865.7 418.8L866.0 410.9L866.3 457.1L866.6 566.8L866.9 609.7L867.1 642.1L867.4 619.1L867.7 391.2L868.0 308.8L868.3 364.1L868.5 477.8L868.8 622.4L869.1 752.5L869.4 883.9L869.7 1008.2L870.0 1117.4L870.2 1193.0L870.5 1229.1L870.8 1250.0L871.1 1215.3L871.4 1090.7L871.6 852.6L871.9 627.4L872.2 513.1L872.5 421.2L872.8 402.7L873.1 458.1L873.3 493.0L873.6 534.9L873.9 562.4L874.2 535.8L874.5 390.5L874.8 307.0L875.0 361.6L875.3 473.7L875.6 609.5L875.9 740.6L876.2 871.1L876.4 995.1L876.7 1109.0L877.0 1181.8L877.3 1214.1L877.6 1235.0L877.9 1200.8L878.1 1095.2L878.4 895.8L878.7 697.3L879.0 625.9L879.3 534.0L879.6 543.8L879.8 573.4L880.1 602.8L880.4 648.4L880.7 690.9L881.0 668.6L881.2 511.3L881.5 436.2L881.8 488.5L882.1 583.7L882.4 709.4L882.7 828.7L882.9 948.8L883.2 1055.0L883.5 1150.9L883.8 1219.5L884.1 1258.7L884.4 1273.0L884.6 1248.6L884.9 1146.5L885.2 945.0L885.5 753.2L885.8 670.7L886.0 588.6L886.3 605.9L886.6 630.7L886.9 647.3L887.2 702.3L887.5 749.3L887.7 712.1L888.0 594.5L888.3 528.0L888.6 585.9L888.9 686.2L889.1 816.0L889.4 936.6L889.7 1055.0L890.0 1174.9L890.3 1277.4L890.6 1343.4L890.8 1382.7L891.1 1408.0L891.4 1373.5L891.7 1248.4L892.0 1021.5L892.3 803.6L892.5 746.4L892.8 663.8L893.1 644.6L893.4 697.0L893.7 713.2L893.9 754.3L894.2 799.4L894.5 763.8L894.8 565.1L895.1 482.4L895.4 535.2L895.6 640.9L895.9 775.6L896.2 897.7L896.5 1023.8L896.8 1144.3L897.1 1246.2L897.3 1317.6L897.6 1351.9L897.9 1371.1L898.2 1328.8L898.5 1203.4L898.7 961.5L899.0 730.2L899.3 631.8L899.6 546.5L899.9 523.3L900.2 571.8L900.4 661.1L900.7 712.4L901.0 743.9L901.3 719.8L901.6 458.0L901.8 372.7L902.1 425.9L902.4 539.2L902.7 676.5L903.0 807.9L903.3 941.6L903.5 1064.8L903.8 1173.5L904.1 1246.7L904.4 1284.2L904.7 1301.9L905.0 1269.0L905.2 1146.2L905.5 918.4L905.8 695.1L906.1 579.7L906.4 486.1L906.6 468.6L906.9 514.2L907.2 589.2L907.5 639.9L907.8 656.5L908.1 632.6L908.3 462.3L908.6 380.8L908.9 434.4L909.2 548.8L909.5 682.1L909.8 811.1L910.0 941.3L910.3 1064.4L910.6 1169.5L910.9 1245.7L911.2 1277.7L911.4 1299.6L911.7 1260.3L912.0 1141.5L912.3 913.5L912.6 691.7L912.9 607.0L913.1 515.5L913.4 507.8L913.7 545.1L914.0 538.2L914.3 585.1L914.6 624.7L914.8 598.0L915.1 462.2L915.4 376.2L915.7 430.4L916.0 541.1L916.2 682.1L916.5 811.9L916.8 934.8L917.1 1058.2L917.4 1164.6L917.7 1242.0L917.9 1273.0L918.2 1295.0L918.5 1257.1L918.8 1132.3L919.1 888.6L919.3 653.8L919.6 555.0L919.9 445.9L920.2 448.4L920.5 496.2L920.8 540.7L921.0 574.5L921.3 622.6L921.6 579.9L921.9 406.3L922.2 316.7L922.5 376.5L922.7 488.8L923.0 635.1L923.3 769.6L923.6 901.4L923.9 1024.7L924.1 1145.4L924.4 1218.8L924.7 1255.2L925.0 1276.5L925.3 1245.6L925.6 1127.3L925.8 907.6L926.1 687.3L926.4 606.5L926.7 506.7L927.0 504.5L927.3 566.2L927.5 551.8L927.8 612.3L928.1 646.1L928.4 632.1L928.7 482.1L928.9 398.8L929.2 451.0L929.5 561.2L929.8 703.0L930.1 824.7L930.4 950.5L930.6 1074.4L930.9 1181.1L931.2 1251.8L931.5 1291.1L931.8 1310.0L932.1 1279.6L932.3 1167.4L932.6 957.2L932.9 754.9L933.2 676.7L933.5 598.4L933.7 581.7L934.0 626.3L934.3 668.6L934.6 739.7L934.9 758.0L935.2 742.2L935.4 571.7L935.7 496.2L936.0 554.5L936.3 662.3L936.6 795.8L936.8 924.9L937.1 1048.1L937.4 1168.7L937.7 1271.2L938.0 1350.4L938.3 1384.4L938.5 1409.2L938.8 1368.8L939.1 1250.0L939.4 1021.6L939.7 792.7L940.0 706.2L940.2 631.8L940.5 609.0L940.8 652.7L941.1 706.3L941.4 748.2L941.6 769.7L941.9 751.2L942.2 554.6L942.5 473.1L942.8 529.7L943.1 637.7L943.3 777.1L943.6 899.4L943.9 1034.5L944.2 1147.9L944.5 1262.6L944.8 1332.2L945.0 1371.7L945.3 1386.1L945.6 1342.3L945.9 1215.0L946.2 963.8L946.4 726.3L946.7 655.1L947.0 562.3L947.3 545.1L947.6 600.0L947.9 653.7L948.1 691.2L948.4 717.5L948.7 683.5L949.0 444.9L949.3 349.0L949.5 403.4L949.8 512.2L950.1 657.8L950.4 784.3L950.7 917.5L951.0 1042.4L951.2 1148.0L951.5 1221.0L951.8 1254.7L952.1 1273.0L952.4 1234.1L952.7 1111.8L952.9 875.2L953.2 653.9L953.5 591.6L953.8 504.9L954.1 485.0L954.3 538.6L954.6 560.5L954.9 617.9L955.2 641.6L955.5 621.0L955.8 419.1L956.0 335.1L956.3 391.1L956.6 504.2L956.9 644.9L957.2 774.5L957.5 909.8L957.7 1032.8L958.0 1142.2L958.3 1217.8L958.6 1256.1L958.9 1273.0L959.1 1236.8L959.4 1120.3L959.7 895.0L960.0 680.7L960.3 600.0L960.6 510.7L960.8 500.8L961.1 555.1L961.4 565.5L961.7 623.3L962.0 662.2L962.3 631.7L962.5 454.5L962.8 375.0L963.1 432.5L963.4 535.4L963.7 670.3L963.9 797.9L964.2 924.1L964.5 1038.8L964.8 1149.6L965.1 1222.0L965.4 1253.4L965.6 1273.0L965.9 1240.1L966.2 1124.2L966.5 896.6L966.8 683.6L967.0 630.4L967.3 543.2L967.6 527.1L967.9 577.8L968.2 611.9L968.5 643.6L968.7 677.3L969.0 664.8L969.3 471.5L969.6 392.8L969.9 450.0L970.2 556.1L970.4 693.7L970.7 824.2L971.0 946.0L971.3 1067.0L971.6 1174.5L971.8 1251.0L972.1 1290.1L972.4 1307.7L972.7 1274.0L973.0 1174.1L973.3 977.5L973.5 788.7L973.8 675.4L974.1 603.5L974.4 595.8L974.7 618.8L975.0 672.8L975.2 732.9L975.5 746.2L975.8 742.7L976.1 594.8L976.4 527.4L976.6 576.6L976.9 669.2L977.2 789.2L977.5 902.9L977.8 1018.7L978.1 1122.1L978.3 1215.3L978.6 1278.3L978.9 1312.8L979.2 1330.7L979.5 1304.7L979.8 1209.2L980.0 1024.8L980.3 838.0L980.6 794.9L980.9 723.5L981.2 710.4L981.4 759.0L981.7 796.4L982.0 857.9L982.3 880.4L982.6 855.3L982.9 691.7L983.1 627.4L983.4 678.6L983.7 778.8L984.0 897.9L984.3 1006.5L984.5 1124.8L984.8 1222.5L985.1 1325.4L985.4 1386.6L985.7 1428.4L986.0 1446.1L986.2 1415.1L986.5 1304.6L986.8 1086.9L987.1 885.4L987.4 818.5L987.7 748.7L987.9 747.3L988.2 779.1L988.5 768.4L988.8 811.9L989.1 833.9L989.3 814.4L989.6 676.9L989.9 602.0L990.2 655.6L990.5 755.6L990.8 883.5L991.0 1004.7L991.3 1121.7L991.6 1231.8L991.9 1335.9L992.2 1402.8L992.5 1442.6L992.7 1458.8L993.0 1417.9L993.3 1288.4L993.6 1057.4L993.9 829.6L994.1 721.9L994.4 634.7L994.7 629.6L995.0 663.1L995.3 699.0L995.6 737.4L995.8 769.6L996.1 743.3L996.4 558.3L996.7 468.0L997.0 520.4L997.2 623.6L997.5 762.4L997.8 890.5L998.1 1015.3L998.4 1132.7L998.7 1238.3L998.9 1312.6L999.2 1340.8L999.5 1357.3L999.8 1317.1L1000.1 1197.8L1000.4 972.5L1000.6 756.5L1000.9 653.7L1001.2 551.8L1001.5 542.4L1001.8 603.5L1002.0 670.9L1002.3 701.4L1002.6 736.9L1002.9 711.8L1003.2 518.0L1003.5 439.0L1003.7 491.9L1004.0 599.6L1004.3 735.3L1004.6 857.5L1004.9 981.3L1005.2 1095.8L1005.4 1206.4L1005.7 1273.9L1006.0 1308.1L1006.3 1325.0L1006.6 1284.5L1006.8 1171.3L1007.1 948.9L1007.4 729.2L1007.7 609.0L1008.0 518.7L1008.3 527.7L1008.5 552.2L1008.8 636.2L1009.1 666.1L1009.4 710.9L1009.7 692.4L1010.0 493.8L1010.2 414.3L1010.5 465.2L1010.8 573.7L1011.1 706.2L1011.4 830.1L1011.6 952.7L1011.9 1064.8L1012.2 1175.3L1012.5 1243.1L1012.8 1280.4L1013.1 1296.1L1013.3 1265.2L1013.6 1148.6L1013.9 940.7L1014.2 732.2L1014.5 652.7L1014.7 560.5L1015.0 548.8L1015.3 603.0L1015.6 656.8L1015.9 701.3L1016.2 724.6L1016.4 706.1L1016.7 512.9L1017.0 434.4L1017.3 486.4L1017.6 586.5L1017.9 710.7L1018.1 830.7L1018.4 947.8L1018.7 1056.1L1019.0 1158.2L1019.3 1222.5L1019.5 1253.5L1019.8 1273.0L1020.1 1248.1L1020.4 1146.7L1020.7 944.0L1021.0 758.6L1021.2 714.7L1021.5 632.1L1021.8 622.7L1022.1 662.8L1022.4 654.5L1022.7 699.3L1022.9 732.5L1023.2 702.8L1023.5 594.3L1023.8 523.9L1024.1 580.1L1024.3 678.6L1024.6 801.1L1024.9 925.6L1025.2 1039.8L1025.5 1151.2L1025.8 1251.5L1026.0 1316.2L1026.3 1356.1L1026.6 1376.9L1026.9 1348.9L1027.2 1239.8L1027.5 1031.2L1027.7 828.4L1028.0 794.9L1028.3 711.1L1028.6 705.4L1028.9 750.4L1029.1 782.5L1029.4 814.8L1029.7 854.1L1030.0 828.9L1030.3 639.7L1030.6 565.4L1030.8 619.0L1031.1 717.5L1031.4 843.9L1031.7 963.6L1032.0 1082.1L1032.2 1197.0L1032.5 1297.4L1032.8 1370.1L1033.1 1400.5L1033.4 1421.9L1033.7 1383.0L1033.9 1271.5L1034.2 1056.6L1034.5 846.7L1034.8 783.3L1035.1 692.6L1035.4 693.6L1035.6 728.1L1035.9 716.8L1036.2 745.0L1036.5 794.8L1036.8 746.0L1037.0 622.2L1037.3 542.4L1037.6 591.7L1037.9 696.3L1038.2 825.1L1038.5 948.5L1038.7 1064.0L1039.0 1180.4L1039.3 1277.6L1039.6 1350.9L1039.9 1386.1L1040.2 1400.0L1040.4 1355.8L1040.7 1225.6L1041.0 983.4L1041.3 747.1L1041.6 655.8L1041.8 541.2L1042.1 544.4L1042.4 574.9L1042.7 583.8L1043.0 615.0L1043.3 647.1L1043.5 614.8L1043.8 464.6L1044.1 371.6L1044.4 429.4L1044.7 538.0L1045.0 675.9L1045.2 812.1L1045.5 945.4L1045.8 1066.4L1046.1 1172.4L1046.4 1248.2L1046.6 1286.6L1046.9 1299.6L1047.2 1266.5L1047.5 1147.7L1047.8 919.6L1048.1 699.1L1048.3 579.8L1048.6 506.6L1048.9 490.2L1049.2 545.6L1049.5 537.8L1049.7 600.8L1050.0 632.2L1050.3 610.9L1050.6 475.6L1050.9 392.4L1051.2 446.5L1051.4 556.4L1051.7 689.6L1052.0 818.2L1052.3 948.3L1052.6 1063.5L1052.9 1174.2L1053.1 1249.3L1053.4 1285.5L1053.7 1303.0L1054.0 1267.3L1054.3 1150.5L1054.5 931.4L1054.8 717.4L1055.1 603.1L1055.4 494.6L1055.7 484.5L1056.0 531.8L1056.2 624.8L1056.5 668.6L1056.8 692.6L1057.1 666.9L1057.4 488.5L1057.7 407.4L1057.9 457.6L1058.2 567.3L1058.5 693.2L1058.8 821.4L1059.1 939.2L1059.3 1057.7L1059.6 1163.4L1059.9 1234.5L1060.2 1268.7L1060.5 1282.3L1060.8 1250.1L1061.0 1132.5L1061.3 905.4L1061.6 692.1L1061.9 638.3L1062.2 561.3L1062.4 543.4L1062.7 602.6L1063.0 565.4L1063.3 624.4L1063.6 650.2L1063.9 639.1L1064.1 474.3L1064.4 390.0L1064.7 444.7L1065.0 556.2L1065.3 687.1L1065.6 812.2L1065.8 945.2L1066.1 1059.8L1066.4 1165.9L1066.7 1243.3L1067.0 1281.8L1067.2 1297.3L1067.5 1261.3L1067.8 1148.0L1068.1 936.1L1068.4 732.1L1068.7 680.8L1068.9 595.4L1069.2 591.4L1069.5 634.6L1069.8 635.0L1070.1 676.4L1070.4 692.7L1070.6 677.3L1070.9 518.5L1071.2 438.5L1071.5 486.2L1071.8 589.3L1072.0 718.1L1072.3 832.5L1072.6 950.3L1072.9 1056.0L1073.2 1161.8L1073.5 1227.0L1073.7 1255.7L1074.0 1273.0L1074.3 1242.7L1074.6 1135.6L1074.9 917.8L1075.2 704.4L1075.4 635.1L1075.7 549.6L1076.0 548.6L1076.3 597.2L1076.6 681.6L1076.8 740.9L1077.1 790.6L1077.4 768.0L1077.7 534.9L1078.0 459.3L1078.3 516.7L1078.5 633.8L1078.8 767.3L1079.1 896.0L1079.4 1027.6L1079.7 1153.4L1079.9 1265.1L1080.2 1338.7L1080.5 1379.0L1080.8 1404.6L1081.1 1366.7L1081.4 1236.1L1081.6 988.8L1081.9 754.1L1082.2 639.1L1082.5 547.6L1082.8 541.0L1083.1 584.4L1083.3 630.5L1083.6 700.4L1083.9 726.0L1084.2 697.4L1084.5 499.5L1084.7 413.1L1085.0 468.0L1085.3 583.0L1085.6 730.5L1085.9 867.6L1086.2 997.1L1086.4 1122.8L1086.7 1237.5L1087.0 1311.8L1087.3 1349.2L1087.6 1371.1L1087.9 1322.2L1088.1 1187.0L1088.4 934.0L1088.7 686.9L1089.0 548.8L1089.3 458.3L1089.5 426.9L1089.8 472.1L1090.1 505.0L1090.4 543.3L1090.7 579.9L1091.0 544.3L1091.2 388.2L1091.5 296.6L1091.8 355.6L1092.1 463.3L1092.4 610.4L1092.7 747.8L1092.9 886.2L1093.2 1012.5L1093.5 1120.3L1093.8 1196.6L1094.1 1230.7L1094.3 1249.6L1094.6 1209.9L1094.9 1089.7L1095.2 846.5L1095.5 614.3L1095.8 553.5L1096.0 458.4L1096.3 457.9L1096.6 516.9L1096.9 476.3L1097.2 527.4L1097.4 562.7L1097.7 533.6L1098.0 397.5L1098.3 312.7L1098.6 372.7L1098.9 495.8L1099.1 638.5L1099.4 775.5L1099.7 914.3L1100.0 1045.2L1100.3 1163.5L1100.6 1245.1L1100.8 1290.3L1101.1 1309.2L1101.4 1272.8L1101.7 1145.7L1102.0 893.7L1102.2 663.0L1102.5 532.2L1102.8 440.9L1103.1 430.9L1103.4 477.6L1103.7 533.0L1103.9 586.2L1104.2 638.1L1104.5 615.0L1104.8 422.0L1105.1 330.5L1105.4 386.0L1105.6 508.7L1105.9 653.6L1106.2 794.2L1106.5 932.3L1106.8 1057.5L1107.0 1175.3L1107.3 1257.4L1107.6 1293.7L1107.9 1317.3L1108.2 1275.4L1108.5 1157.4L1108.7 918.1L1109.0 681.8L1109.3 559.3L1109.6 461.1L1109.9 444.7L1110.2 508.6L1110.4 538.9L1110.7 593.3L1111.0 635.0L1111.3 607.5L1111.6 450.8L1111.8 363.5L1112.1 424.5L1112.4 533.6L1112.7 680.2L1113.0 816.1L1113.3 951.3L1113.5 1075.3L1113.8 1194.5L1114.1 1269.9L1114.4 1310.8L1114.7 1327.7L1114.9 1292.2L1115.2 1185.2L1115.5 966.0L1115.8 757.4L1116.1 680.0L1116.4 581.5L1116.6 587.1L1116.9 628.5L1117.2 626.2L1117.5 652.2L1117.8 695.3L1118.1 673.7L1118.3 541.3L1118.6 467.4L1118.9 521.6L1119.2 626.7L1119.5 754.5L1119.7 876.9L1120.0 999.6L1120.3 1108.3L1120.6 1212.8L1120.9 1285.2L1121.2 1318.4L1121.4 1334.6L1121.7 1306.5L1122.0 1199.2L1122.3 981.9L1122.6 779.3L1122.9 723.7L1123.1 642.4L1123.4 638.4L1123.7 680.2L1124.0 696.7L1124.3 758.1L1124.5 780.1L1124.8 759.3L1125.1 601.5L1125.4 532.0L1125.7 584.8L1126.0 697.2L1126.2 831.5L1126.5 953.2L1126.8 1082.7L1127.1 1194.8L1127.4 1304.5L1127.6 1380.1L1127.9 1420.1L1128.2 1439.6L1128.5 1401.7L1128.8 1282.8L1129.1 1053.6L1129.3 830.1L1129.6 742.6L1129.9 658.7L1130.2 627.0L1130.5 671.6L1130.8 678.7L1131.0 730.2L1131.3 771.4L1131.6 744.8L1131.9 592.8L1132.2 507.7L1132.4 558.0L1132.7 674.1L1133.0 805.8L1133.3 939.3L1133.6 1061.9L1133.9 1184.3L1134.1 1292.5L1134.4 1359.5L1134.7 1399.2L1135.0 1416.5L1135.3 1368.7L1135.6 1232.1L1135.8 969.4L1136.1 717.4L1136.4 626.0L1136.7 520.8L1137.0 495.0L1137.2 557.8L1137.5 518.1L1137.8 581.9L1138.1 612.0L1138.4 583.8L1138.7 423.0L1138.9 326.6L1139.2 386.2L1139.5 502.7L1139.8 652.8L1140.1 789.3L1140.4 929.0L1140.6 1055.8L1140.9 1174.7L1141.2 1256.8L1141.5 1286.5L1141.8 1305.7L1142.0 1264.9L1142.3 1143.6L1142.6 909.8L1142.9 679.6L1143.2 553.2L1143.5 458.1L1143.7 440.5L1144.0 507.2L1144.3 551.6L1144.6 587.6L1144.9 626.8L1145.1 606.8L1145.4 443.4L1145.7 355.0L1146.0 412.0L1146.3 523.3L1146.6 665.8L1146.8 799.6L1147.1 934.8L1147.4 1056.2L1147.7 1165.8L1148.0 1239.8L1148.3 1282.5L1148.5 1300.0L1148.8 1260.3L1149.1 1148.6L1149.4 920.0L1149.7 697.7L1149.9 618.2L1150.2 546.2L1150.5 519.4L1150.8 564.8L1151.1 552.6L1151.4 592.0L1151.6 625.5L1151.9 608.5L1152.2 467.7L1152.5 384.3L1152.8 440.1L1153.1 542.1L1153.3 677.0L1153.6 806.3L1153.9 934.4L1154.2 1047.0L1154.5 1157.9L1154.7 1225.6L1155.0 1267.4L1155.3 1281.5L1155.6 1244.8L1155.9 1122.9L1156.2 897.9L1156.4 673.2L1156.7 543.8L1157.0 454.1L1157.3 453.0L1157.6 501.3L1157.9 528.2L1158.1 572.0L1158.4 607.8L1158.7 578.9L1159.0 457.5L1159.3 371.6L1159.5 432.5L1159.8 538.2L1160.1 683.2L1160.4 817.8L1160.7 946.1L1161.0 1071.5L1161.2 1177.8L1161.5 1258.2L1161.8 1297.7L1162.1 1315.0L1162.4 1287.6L1162.6 1178.8L1162.9 982.8L1163.2 794.1L1163.5 747.7L1163.8 670.2L1164.1 651.9L1164.3 706.2L1164.6 727.8L1164.9 775.1L1165.2 810.4L1165.5 792.5L1165.8 596.5L1166.0 529.2L1166.3 574.9L1166.6 674.4L1166.9 793.8L1167.2 913.0L1167.4 1022.4L1167.7 1128.7L1168.0 1224.5L1168.3 1293.1L1168.6 1326.7L1168.9 1340.3L1169.1 1312.7L1169.4 1213.4L1169.7 1017.9L1170.0 826.4L1170.3 716.7L1170.6 633.0L1170.8 624.5L1171.1 668.3L1171.4 790.2L1171.7 844.3L1172.0 872.1L1172.2 854.9L1172.5 655.2L1172.8 588.5L1173.1 643.8L1173.4 742.8L1173.7 861.1L1173.9 977.6L1174.2 1090.8L1174.5 1200.7L1174.8 1298.9L1175.1 1370.3L1175.3 1402.5L1175.6 1423.4L1175.9 1388.7L1176.2 1273.4L1176.5 1051.4L1176.8 844.8L1177.0 746.5L1177.3 658.9L1177.6 643.6L1177.9 679.4L1178.2 790.4L1178.5 836.6L1178.7 859.1L1179.0 845.1L1179.3 613.0L1179.6 530.8L1179.9 583.0L1180.1 686.4L1180.4 809.7L1180.7 936.1L1181.0 1053.4L1181.3 1166.9L1181.6 1269.5L1181.8 1335.7L1182.1 1371.4L1182.4 1385.3L1182.7 1339.9L1183.0 1217.7L1183.3 969.9L1183.5 731.6L1183.8 602.1L1184.1 492.0L1184.4 481.1L1184.7 518.7L1184.9 563.3L1185.2 606.7L1185.5 636.3L1185.8 606.8L1186.1 466.9L1186.4 373.9L1186.6 427.3L1186.9 545.2L1187.2 690.4L1187.5 823.5L1187.8 960.8L1188.1 1079.5L1188.3 1197.6L1188.6 1274.0L1188.9 1307.4L1189.2 1325.3L1189.5 1284.6L1189.7 1162.5L1190.0 929.5L1190.3 708.9L1190.6 579.5L1190.9 485.0L1191.2 469.5L1191.4 512.1L1191.7 613.0L1192.0 658.6L1192.3 704.0L1192.6 662.0L1192.8 465.9L1193.1 382.0L1193.4 439.6L1193.7 552.2L1194.0 691.9L1194.3 818.1L1194.5 952.6L1194.8 1071.1L1195.1 1183.2L1195.4 1257.6L1195.7 1292.7L1196.0 1315.0L1196.2 1279.6L1196.5 1153.3L1196.8 928.5L1197.1 702.4L1197.4 651.5L1197.6 540.6L1197.9 531.5L1198.2 594.5L1198.5 568.4L1198.8 612.3L1199.1 663.3L1199.3 620.1L1199.6 464.0L1199.9 380.8L1200.2 437.9L1200.5 542.2L1200.8 685.6L1201.0 814.5L1201.3 943.4L1201.6 1059.6L1201.9 1171.2L1202.2 1238.9L1202.4 1278.3L1202.7 1295.3L1203.0 1255.8L1203.3 1138.8L1203.6 899.3L1203.9 673.6L1204.1 551.2L1204.4 454.3L1204.7 437.6L1205.0 498.8L1205.3 543.0L1205.6 588.5L1205.8 609.2L1206.1 580.9L1206.4 446.1L1206.7 361.2L1207.0 415.9L1207.2 530.6L1207.5 680.1L1207.8 807.3L1208.1 942.9L1208.4 1067.4L1208.7 1187.2L1208.9 1264.2L1209.2 1301.9L1209.5 1319.6L1209.8 1293.5L1210.1 1187.9L1210.3 998.6L1210.6 814.7L1210.9 739.6L1211.2 672.2L1211.5 667.0L1211.8 693.2L1212.0 773.8L1212.3 799.1L1212.6 839.4L1212.9 823.1L1213.2 627.6L1213.5 560.8L1213.7 607.5L1214.0 704.9L1214.3 818.1L1214.6 933.5L1214.9 1037.1L1215.1 1139.7L1215.4 1237.1L1215.7 1297.3L1216.0 1334.4L1216.3 1348.4L1216.6 1323.3L1216.8 1224.2L1217.1 1034.2L1217.4 846.5L1217.7 776.4L1218.0 708.5L1218.3 710.9L1218.5 747.6L1218.8 816.1L1219.1 875.4L1219.4 897.5L1219.7 881.4L1219.9 700.7L1220.2 632.0L1220.5 688.1L1220.8 785.5L1221.1 903.3L1221.4 1023.2L1221.6 1132.8L1221.9 1245.6L1222.2 1340.6L1222.5 1408.0L1222.8 1446.0L1223.0 1467.3L1223.3 1435.2L1223.6 1323.7L1223.9 1113.6L1224.2 905.9L1224.5 848.1L1224.7 776.6L1225.0 754.9L1225.3 805.9L1225.6 795.6L1225.9 826.6L1226.2 860.8L1226.4 851.4L1226.7 692.2L1227.0 612.4L1227.3 662.5L1227.6 757.6L1227.8 882.5L1228.1 1006.5L1228.4 1121.9L1228.7 1229.3L1229.0 1325.5L1229.3 1396.9L1229.5 1422.7L1229.8 1441.9L1230.1 1396.9L1230.4 1269.1L1230.7 1016.0L1231.0 783.9L1231.2 670.1L1231.5 553.6L1231.8 538.6L1232.1 593.3L1232.4 622.3L1232.6 671.8L1232.9 708.1L1233.2 680.0L1233.5 493.8L1233.8 399.3L1234.1 450.7L1234.3 563.0L1234.6 701.5L1234.9 838.3L1235.2 969.7L1235.5 1086.0L1235.8 1199.6L1236.0 1271.3L1236.3 1304.6L1236.6 1320.7L1236.9 1282.4L1237.2 1143.4L1237.4 894.4L1237.7 651.0L1238.0 594.6L1238.3 499.7L1238.6 477.8L1238.9 531.3L1239.1 507.9L1239.4 558.7L1239.7 607.8L1240.0 582.1L1240.3 381.8L1240.5 289.7L1240.8 352.0L1241.1 467.8L1241.4 616.7L1241.7 759.2L1242.0 899.8L1242.2 1029.1L1242.5 1146.5L1242.8 1222.0L1243.1 1261.4L1243.4 1281.5L1243.7 1244.1L1243.9 1128.5L1244.2 893.0L1244.5 674.3L1244.8 571.4L1245.1 475.7L1245.3 472.6L1245.6 520.3L1245.9 624.4L1246.2 673.2L1246.5 726.4L1246.8 691.7L1247.0 453.4L1247.3 371.1L1247.6 426.5L1247.9 539.8L1248.2 684.9L1248.5 812.9L1248.7 943.2L1249.0 1067.5L1249.3 1182.9L1249.6 1260.9L1249.9 1298.7L1250.1 1316.1L1250.4 1286.9L1250.7 1169.1L1251.0 957.7L1251.3 753.7L1251.6 661.2L1251.8 581.4L1252.1 570.1L1252.4 619.0L1252.7 692.2L1253.0 750.7L1253.3 790.2L1253.5 752.9L1253.8 551.0L1254.1 478.9L1254.4 531.8L1254.7 640.2L1254.9 774.4L1255.2 901.6L1255.5 1024.9L1255.8 1137.2L1256.1 1244.5L1256.4 1320.4L1256.6 1355.7L1256.9 1378.4L1257.2 1346.0L1257.5 1233.8L1257.8 1018.7L1258.0 820.0L1258.3 701.2L1258.6 612.8L1258.9 600.2L1259.2 649.5L1259.5 705.1L1259.7 739.5L1260.0 771.4L1260.3 738.2L1260.6 595.8L1260.9 519.3L1261.2 571.9L1261.4 672.5L1261.7 792.3L1262.0 911.1L1262.3 1027.0L1262.6 1133.0L1262.8 1235.3L1263.1 1298.2L1263.4 1336.3L1263.7 1349.6L1264.0 1323.9L1264.3 1219.6L1264.5 1029.1L1264.8 841.2L1265.1 768.6L1265.4 682.7L1265.7 692.5L1266.0 737.7L1266.2 748.4L1266.5 806.1L1266.8 830.5L1267.1 810.1L1267.4 671.2L1267.6 606.6L1267.9 659.8L1268.2 761.3L1268.5 885.2L1268.8 998.5L1269.1 1114.8L1269.3 1221.3L1269.6 1322.6L1269.9 1391.5L1270.2 1427.4L1270.5 1450.0L1270.8 1407.4L1271.0 1289.6L1271.3 1053.0L1271.6 832.7L1271.9 772.2L1272.2 679.7L1272.4 681.7L1272.7 711.3L1273.0 741.7L1273.3 783.9L1273.6 818.2L1273.9 786.2L1274.1 589.7L1274.4 503.1L1274.7 554.7L1275.0 665.4L1275.3 799.3L1275.5 926.9L1275.8 1057.9L1276.1 1178.0L1276.4 1290.0L1276.7 1361.3L1277.0 1390.3L1277.2 1410.7L1277.5 1366.5L1277.8 1229.7L1278.1 972.9L1278.4 729.7L1278.7 584.5L1278.9 487.5L1279.2 469.8L1279.5 506.0L1279.8 618.2L1280.1 671.2L1280.3 694.9L1280.6 662.5L1280.9 447.2L1281.2 355.0L1281.5 416.4L1281.8 528.3L1282.0 681.0L1282.3 817.5L1282.6 959.1L1282.9 1085.9L1283.2 1202.1L1283.5 1285.2L1283.7 1320.0L1284.0 1336.9L1284.3 1297.1L1284.6 1177.2L1284.9 942.8L1285.1 722.8L1285.4 675.8L1285.7 577.4L1286.0 565.2L1286.3 621.1L1286.6 648.7L1286.8 705.1L1287.1 744.9L1287.4 713.7L1287.7 494.0L1288.0 406.7L1288.2 461.3L1288.5 578.0L1288.8 714.7L1289.1 849.3L1289.4 978.3L1289.7 1097.2L1289.9 1209.5L1290.2 1289.0L1290.5 1323.6L1290.8 1342.7L1291.1 1305.9L1291.4 1192.9L1291.6 977.3L1291.9 773.0L1292.2 707.9L1292.5 637.4L1292.8 610.0L1293.0 661.8L1293.3 659.8L1293.6 720.9L1293.9 755.2L1294.2 734.1L1294.5 564.7L1294.7 484.7L1295.0 541.3L1295.3 643.3L1295.6 774.8L1295.9 900.0L1296.2 1022.2L1296.4 1134.4L1296.7 1242.1L1297.0 1312.7L1297.3 1352.6L1297.6 1368.0L1297.8 1333.6L1298.1 1221.4L1298.4 1001.0L1298.7 793.2L1299.0 730.8L1299.3 660.8L1299.5 630.9L1299.8 685.9L1300.1 656.0L1300.4 700.4L1300.7 744.5L1301.0 709.7L1301.2 563.2L1301.5 482.4L1301.8 530.4L1302.1 631.6L1302.4 761.7L1302.6 882.4L1302.9 1004.3L1303.2 1115.5L1303.5 1213.8L1303.8 1285.9L1304.1 1315.9L1304.3 1331.1L1304.6 1301.5L1304.9 1198.9L1305.2 994.2L1305.5 809.5L1305.7 753.2L1306.0 660.7L1306.3 660.4L1306.6 714.7L1306.9 711.5L1307.2 758.8L1307.4 800.7L1307.7 764.4L1308.0 616.0L1308.3 543.0L1308.6 592.9L1308.9 687.6L1309.1 813.3L1309.4 920.7L1309.7 1035.0L1310.0 1144.8L1310.3 1240.8L1310.5 1302.9L1310.8 1337.4L1311.1 1355.3L1311.4 1324.1L1311.7 1228.1L1312.0 1030.6L1312.2 847.3L1312.5 736.4L1312.8 659.5L1313.1 665.8L1313.4 718.1L1313.7 811.3L1313.9 865.3L1314.2 901.9L1314.5 876.4L1314.8 684.4L1315.1 616.2L1315.3 667.1L1315.6 764.6L1315.9 891.8L1316.2 1004.8L1316.5 1123.6L1316.8 1230.3L1317.0 1331.0L1317.3 1399.1L1317.6 1435.0L1317.9 1454.6L1318.2 1419.3L1318.5 1321.5L1318.7 1120.9L1319.0 926.3L1319.3 812.0L1319.6 734.8L1319.9 722.4L1320.1 768.6L1320.4 844.9L1320.7 861.7L1321.0 914.0L1321.3 891.5L1321.6 728.1L1321.8 653.1L1322.1 700.3L1322.4 797.2L1322.7 914.8L1323.0 1025.2L1323.2 1134.7L1323.5 1238.3L1323.8 1335.8L1324.1 1397.6L1324.4 1428.6L1324.7 1446.5L1324.9 1409.6L1325.2 1284.9L1325.5 1061.7L1325.8 847.8L1326.1 739.6L1326.4 662.2L1326.6 640.8L1326.9 670.1L1327.2 745.8L1327.5 797.3L1327.8 818.8L1328.0 787.9L1328.3 587.1L1328.6 505.9L1328.9 550.5L1329.2 657.7L1329.5 781.9L1329.7 900.1L1330.0 1017.9L1330.3 1131.2L1330.6 1234.3L1330.9 1302.1L1331.2 1332.8L1331.4 1342.7L1331.7 1311.6L1332.0 1208.4L1332.3 1006.9L1332.6 818.4L1332.8 776.8L1333.1 693.6L1333.4 699.6L1333.7 730.6L1334.0 721.5L1334.3 778.1L1334.5 819.8L1334.8 789.5L1335.1 622.8L1335.4 553.9L1335.7 606.4L1336.0 698.2L1336.2 827.2L1336.5 935.9L1336.8 1056.0L1337.1 1157.0L1337.4 1255.0L1337.6 1321.8L1337.9 1357.5L1338.2 1375.0L1338.5 1339.3L1338.8 1240.5L1339.1 1035.7L1339.3 836.1L1339.6 729.0L1339.9 656.7L1340.2 662.3L1340.5 703.5L1340.7 740.6L1341.0 782.7L1341.3 834.7L1341.6 795.4L1341.9 638.9L1342.2 564.3L1342.4 617.3L1342.7 715.2L1343.0 838.3L1343.3 951.8L1343.6 1068.4L1343.9 1170.7L1344.1 1274.8L1344.4 1335.2L1344.7 1367.7L1345.0 1387.7L1345.3 1358.7L1345.5 1255.4L1345.8 1053.8L1346.1 867.9L1346.4 760.1L1346.7 690.2L1347.0 679.8L1347.2 713.6L1347.5 738.3L1347.8 784.5L1348.1 815.0L1348.4 778.1L1348.7 679.2L1348.9 605.1L1349.2 656.8L1349.5 747.9L1349.8 872.3L1350.1 977.6L1350.3 1090.8L1350.6 1197.9L1350.9 1287.6L1351.2 1354.1L1351.5 1383.4L1351.8 1403.8L1352.0 1379.8L1352.3 1290.6L1352.6 1117.6L1352.9 961.3L1353.2 917.4L1353.4 839.3L1353.7 829.7L1354.0 877.5L1354.3 908.8L1354.6 925.8L1354.9 956.0L1355.1 936.2L1355.4 797.3L1355.7 733.1L1356.0 770.6L1356.3 851.9L1356.6 955.2L1356.8 1052.6L1357.1 1151.8L1357.4 1232.8L1357.7 1320.5L1358.0 1372.9L1358.2 1403.3L1358.5 1414.2L1358.8 1387.8L1359.1 1305.5L1359.4 1126.4L1359.7 969.2L1359.9 864.1L1360.2 794.2L1360.5 805.6L1360.8 835.3L1361.1 885.7L1361.4 922.6L1361.6 957.2L1361.9 935.8L1362.2 823.5L1362.5 763.9L1362.8 809.3L1363.0 896.0L1363.3 1003.1L1363.6 1106.4L1363.9 1213.6L1364.2 1308.1L1364.5 1397.9L1364.7 1451.7L1365.0 1489.8L1365.3 1504.2L1365.6 1477.9L1365.9 1382.5L1366.2 1198.0L1366.4 1019.6L1366.7 926.0L1367.0 835.0L1367.3 826.5L1367.6 862.5L1367.8 953.2L1368.1 995.4L1368.4 1005.6L1368.7 981.6L1369.0 833.4L1369.3 763.9L1369.5 810.1L1369.8 891.1L1370.1 999.3L1370.4 1102.9L1370.7 1204.5L1370.9 1296.8L1371.2 1384.9L1371.5 1448.2L1371.8 1470.6L1372.1 1488.0L1372.4 1452.7L1372.6 1338.9L1372.9 1128.7L1373.2 930.4L1373.5 845.1L1373.8 761.1L1374.1 744.9L1374.3 786.0L1374.6 809.7L1374.9 823.2L1375.2 856.9L1375.5 843.0L1375.7 687.9L1376.0 610.0L1376.3 657.1L1376.6 745.4L1376.9 871.1L1377.2 973.4L1377.4 1090.0L1377.7 1187.7L1378.0 1285.3L1378.3 1347.3L1378.6 1375.1L1378.9 1385.3L1379.1 1355.7L1379.4 1248.0L1379.7 1040.8L1380.0 845.5L1380.3 719.5L1380.5 657.5L1380.8 635.8L1381.1 677.1L1381.4 776.9L1381.7 834.1L1382.0 861.0L1382.2 828.2L1382.5 647.6L1382.8 572.0L1383.1 621.3L1383.4 721.4L1383.7 843.1L1383.9 955.2L1384.2 1068.9L1384.5 1179.4L1384.8 1271.7L1385.1 1336.4L1385.3 1375.2L1385.6 1388.8L1385.9 1359.2L1386.2 1265.6L1386.5 1076.2L1386.8 895.7L1387.0 814.8L1387.3 730.2L1387.6 725.1L1387.9 760.2L1388.2 771.1L1388.4 811.3L1388.7 841.6L1389.0 805.7L1389.3 708.6L1389.6 638.2L1389.9 680.0L1390.1 770.2L1390.4 876.2L1390.7 976.2L1391.0 1079.7L1391.3 1173.4L1391.6 1261.1L1391.8 1321.7L1392.1 1350.1L1392.4 1362.3L1392.7 1334.3L1393.0 1233.4L1393.2 1048.6L1393.5 863.8L1393.8 820.1L1394.1 736.2L1394.4 737.8L1394.7 785.5L1394.9 777.1L1395.2 812.9L1395.5 844.9L1395.8 815.8L1396.1 690.0L1396.4 623.4L1396.6 666.8L1396.9 762.7L1397.2 881.6L1397.5 985.5L1397.8 1095.0L1398.0 1196.2L1398.3 1285.9L1398.6 1344.5L1398.9 1383.1L1399.2 1395.7L1399.5 1366.7L1399.7 1287.2L1400.0 1124.5L1400.3 964.8L1400.6 891.4L1400.9 838.8L1401.1 820.6L1401.4 858.1L1401.7 895.4L1402.0 936.0L1402.3 966.0L1402.6 944.9L1402.8 804.3L1403.1 748.5L1403.4 786.6L1403.7 866.2L1404.0 968.0L1404.3 1064.5L1404.5 1155.0L1404.8 1242.9L1405.1 1316.5L1405.4 1369.4L1405.7 1400.6L1405.9 1414.2L1406.2 1393.6L1406.5 1308.4L1406.8 1157.7L1407.1 1003.5L1407.4 962.8L1407.6 888.7L1407.9 885.9L1408.2 935.7L1408.5 951.1L1408.8 1000.6L1409.1 1021.6L1409.3 1005.2L1409.6 875.9L1409.9 817.7L1410.2 862.2L1410.5 937.7L1410.7 1037.5L1411.0 1129.5L1411.3 1220.8L1411.6 1313.9L1411.9 1391.4L1412.2 1446.2L1412.4 1472.7L1412.7 1489.2L1413.0 1457.3L1413.3 1366.8L1413.6 1183.0L1413.9 1006.6L1414.1 943.5L1414.4 871.6L1414.7 877.4L1415.0 904.1L1415.3 909.6L1415.5 949.5L1415.8 966.3L1416.1 949.9L1416.4 811.7L1416.7 748.5L1417.0 788.3L1417.2 883.4L1417.5 991.0L1417.8 1092.5L1418.1 1191.5L1418.4 1287.1L1418.6 1379.7L1418.9 1438.5L1419.2 1464.6L1419.5 1477.7L1419.8 1443.0L1420.1 1332.4L1420.3 1122.2L1420.6 929.8L1420.9 795.1L1421.2 715.6L1421.5 707.8L1421.8 753.4L1422.0 818.4L1422.3 847.5L1422.6 889.1L1422.9 858.5L1423.2 675.3L1423.4 600.8L1423.7 645.3L1424.0 734.1L1424.3 849.6L1424.6 961.0L1424.9 1067.4L1425.1 1167.8L1425.4 1256.7L1425.7 1313.2L1426.0 1340.0L1426.3 1351.9L1426.6 1319.8L1426.8 1210.1L1427.1 1007.3L1427.4 806.4L1427.7 756.6L1428.0 684.1L1428.2 666.4L1428.5 719.7L1428.8 760.4L1429.1 798.7L1429.4 846.5L1429.7 816.0L1429.9 611.2L1430.2 536.2L1430.5 587.4L1430.8 686.6L1431.1 811.2L1431.4 927.0L1431.6 1050.1L1431.9 1152.4L1432.2 1254.8L1432.5 1325.4L1432.8 1358.9L1433.0 1373.8L1433.3 1335.6L1433.6 1216.6L1433.9 970.2L1434.2 746.9L1434.5 600.8L1434.7 511.8L1435.0 509.5L1435.3 551.2L1435.6 641.7L1435.9 692.9L1436.1 726.0L1436.4 708.9L1436.7 519.9L1437.0 437.0L1437.3 494.7L1437.6 617.7L1437.8 766.3L1438.1 901.0L1438.4 1035.9L1438.7 1167.4L1439.0 1284.4L1439.3 1363.0L1439.5 1404.8L1439.8 1429.2L1440.1 1391.0L1440.4 1262.4L1440.7 1030.2L1440.9 801.6L1441.2 692.6L1441.5 593.2L1441.8 594.7L1442.1 626.5L1442.4 701.6L1442.6 745.0L1442.9 775.4L1443.2 746.7L1443.5 541.9L1443.8 453.6L1444.1 502.5L1444.3 615.7L1444.6 749.3L1444.9 878.0L1445.2 998.7L1445.5 1115.4L1445.7 1227.9L1446.0 1295.9L1446.3 1334.9L1446.6 1346.1L1446.9 1312.5L1447.2 1210.0L1447.4 1007.2L1447.7 821.1L1448.0 747.2L1448.3 682.4L1448.6 675.6L1448.8 699.6L1449.1 739.9L1449.4 781.4L1449.7 792.3L1450.0 790.4L1450.3 613.3L1450.5 542.0L1450.8 588.2L1451.1 687.4L1451.4 801.7L1451.7 912.1L1452.0 1031.0L1452.2 1126.9L1452.5 1227.3L1452.8 1290.3L1453.1 1320.7L1453.4 1336.9L1453.6 1309.2L1453.9 1225.3L1454.2 1052.2L1454.5 880.6L1454.8 781.9L1455.1 725.7L1455.3 710.0L1455.6 759.8L1455.9 799.7L1456.2 833.8L1456.5 876.5L1456.8 865.6L1457.0 745.8L1457.3 686.2L1457.6 734.7L1457.9 823.2L1458.2 934.7L1458.4 1044.2L1458.7 1148.2L1459.0 1249.8L1459.3 1336.9L1459.6 1402.2L1459.9 1436.5L1460.1 1455.7L1460.4 1429.2L1460.7 1326.1L1461.0 1144.8L1461.3 964.1L1461.6 874.9L1461.8 801.1L1462.1 773.7L1462.4 818.4L1462.7 923.7L1463.0 955.4L1463.2 993.8L1463.5 976.7L1463.8 775.2L1464.1 710.4L1464.4 754.5L1464.7 849.5L1464.9 958.3L1465.2 1062.0L1465.5 1172.9L1465.8 1267.4L1466.1 1360.3L1466.3 1416.7L1466.6 1451.2L1466.9 1466.1L1467.2 1427.9L1467.5 1319.9L1467.8 1107.9L1468.0 905.6L1468.3 785.6L1468.6 711.2L1468.9 702.4L1469.2 719.5L1469.5 795.2L1469.7 840.4L1470.0 857.1L1470.3 845.3L1470.6 659.3L1470.9 584.0L1471.1 627.2L1471.4 723.5L1471.7 840.3L1472.0 957.6L1472.3 1065.5L1472.6 1167.4L1472.8 1263.9L1473.1 1326.7L1473.4 1353.8L1473.7 1365.7L1474.0 1333.7L1474.3 1231.4L1474.5 1036.5L1474.8 854.8L1475.1 761.4L1475.4 697.4L1475.7 672.7L1475.9 722.9L1476.2 747.2L1476.5 778.3L1476.8 814.2L1477.1 796.1L1477.4 656.2L1477.6 584.7L1477.9 629.2L1478.2 720.2L1478.5 834.9L1478.8 945.9L1479.1 1054.1L1479.3 1155.6L1479.6 1244.4L1479.9 1304.3L1480.2 1338.3L1480.5 1350.7L1480.7 1317.1L1481.0 1224.4L1481.3 1030.6L1481.6 850.1L1481.9 752.3L1482.2 674.6L1482.4 668.1L1482.7 707.7L1483.0 736.2L1483.3 793.3L1483.6 816.7L1483.8 782.5L1484.1 665.5L1484.4 593.2L1484.7 638.8L1485.0 732.7L1485.3 847.4L1485.5 952.1L1485.8 1063.1L1486.1 1163.8L1486.4 1251.3L1486.7 1312.2L1487.0 1343.7L1487.2 1360.0L1487.5 1326.0L1487.8 1226.7L1488.1 1042.9L1488.4 857.4L1488.6 765.6L1488.9 685.6L1489.2 668.1L1489.5 701.6L1489.8 777.8L1490.1 802.6L1490.3 851.7L1490.6 817.3L1490.9 664.4L1491.2 597.4L1491.5 644.3L1491.8 732.5L1492.0 845.2L1492.3 951.0L1492.6 1053.0L1492.9 1147.0L1493.2 1237.7L1493.4 1303.9L1493.7 1330.4L1494.0 1343.8L1494.3 1312.6L1494.6 1218.9L1494.9 1038.1L1495.1 863.8L1495.4 824.8L1495.7 750.4L1496.0 754.7L1496.3 774.4L1496.6 827.6L1496.8 860.1L1497.1 881.6L1497.4 873.7L1497.7 686.5L1498.0 623.9L1498.2 670.7L1498.5 760.3L1498.8 870.4L1499.1 982.5L1499.4 1082.1L1499.7 1181.5L1499.9 1274.3L1500.2 1332.3L1500.5 1362.2L1500.8 1381.9L1501.1 1357.5L1501.3 1258.7L1501.6 1071.8L1501.9 883.5L1502.2 836.3L1502.5 766.6L1502.8 763.0L1503.0 789.6L1503.3 823.8L1503.6 882.7L1503.9 910.1L1504.2 895.8L1504.5 726.7L1504.7 664.3L1505.0 718.7L1505.3 811.5L1505.6 936.7L1505.9 1041.9L1506.1 1157.0L1506.4 1263.5L1506.7 1360.0L1507.0 1425.0L1507.3 1466.4L1507.6 1482.3L1507.8 1450.1L1508.1 1347.3L1508.4 1144.3L1508.7 946.6L1509.0 869.6L1509.3 790.1L1509.5 781.2L1509.8 816.1L1510.1 807.4L1510.4 866.4L1510.7 902.0L1510.9 856.1L1511.2 743.7L1511.5 674.7L1511.8 722.5L1512.1 821.7L1512.4 940.4L1512.6 1056.3L1512.9 1169.7L1513.2 1272.3L1513.5 1369.2L1513.8 1433.9L1514.0 1464.0L1514.3 1481.1L1514.6 1442.1L1514.9 1332.7L1515.2 1113.9L1515.5 907.8L1515.7 849.8L1516.0 763.8L1516.3 751.2L1516.6 778.7L1516.9 763.3L1517.2 803.9L1517.4 829.6L1517.7 790.5L1518.0 669.9L1518.3 586.3L1518.6 637.0L1518.8 733.2L1519.1 857.6L1519.4 978.3L1519.7 1093.7L1520.0 1199.5L1520.3 1303.3L1520.5 1369.3L1520.8 1398.0L1521.1 1410.7L1521.4 1375.8L1521.7 1274.5L1522.0 1072.9L1522.2 881.4L1522.5 767.0L1522.8 699.9L1523.1 684.6L1523.4 724.4L1523.6 782.1L1523.9 811.2L1524.2 850.9L1524.5 826.7L1524.8 669.3L1525.1 592.3L1525.3 639.4L1525.6 729.4L1525.9 848.9L1526.2 958.8L1526.5 1068.5L1526.8 1172.6L1527.0 1268.5L1527.3 1334.0L1527.6 1357.2L1527.9 1375.0L1528.2 1345.2L1528.4 1241.4L1528.7 1037.8L1529.0 848.9L1529.3 736.6L1529.6 646.5L1529.9 652.6L1530.1 691.1L1530.4 741.8L1530.7 801.7L1531.0 822.1L1531.3 811.5L1531.5 641.7L1531.8 573.1L1532.1 623.4L1532.4 716.2L1532.7 833.7L1533.0 946.9L1533.2 1061.0L1533.5 1161.2L1533.8 1256.9L1534.1 1323.8L1534.4 1355.1L1534.7 1368.0L1534.9 1336.9L1535.2 1237.1L1535.5 1048.8L1535.8 867.1L1536.1 807.8L1536.3 738.4L1536.6 726.6L1536.9 775.3L1537.2 775.4L1537.5 816.3L1537.8 863.5L1538.0 831.3L1538.3 677.4L1538.6 611.9L1538.9 659.4L1539.2 743.0L1539.5 858.0L1539.7 961.8L1540.0 1069.2L1540.3 1167.2L1540.6 1260.9L1540.9 1317.5L1541.1 1350.6L1541.4 1362.3L1541.7 1334.6L1542.0 1254.5L1542.3 1083.2L1542.6 924.2L1542.8 831.9L1543.1 761.1L1543.4 767.5L1543.7 783.8L1544.0 894.2L1544.3 926.0L1544.5 960.5L1544.8 960.1L1545.1 774.4L1545.4 719.7L1545.7 763.3L1545.9 844.8L1546.2 953.4L1546.5 1046.5L1546.8 1148.8L1547.1 1237.8L1547.4 1325.4L1547.6 1375.3L1547.9 1408.6L1548.2 1424.6L1548.5 1401.4L1548.8 1325.1L1549.0 1167.2L1549.3 1016.0L1549.6 924.2L1549.9 861.3L1550.2 856.8L1550.5 908.6L1550.7 946.9L1551.0 983.4L1551.3 1024.1L1551.6 1013.9L1551.9 885.0L1552.2 826.6L1552.4 869.0L1552.7 951.0L1553.0 1046.3L1553.3 1140.3L1553.6 1235.2L1553.8 1316.8L1554.1 1401.1L1554.4 1453.2L1554.7 1478.9L1555.0 1498.4L1555.3 1474.2L1555.5 1385.2L1555.8 1215.5L1556.1 1049.4L1556.4 988.2L1556.7 922.7L1557.0 917.5L1557.2 949.7L1557.5 968.4L1557.8 998.9L1558.1 1013.7L1558.4 993.5L1558.6 886.0L1558.9 825.4L1559.2 868.2L1559.5 951.4L1559.8 1052.4L1560.1 1150.0L1560.3 1246.6L1560.6 1333.6L1560.9 1420.4L1561.2 1472.1L1561.5 1498.4L1561.8 1515.7L1562.0 1483.0L1562.3 1384.7L1562.6 1191.9L1562.9 1001.3L1563.2 958.9L1563.4 878.2L1563.7 865.8L1564.0 912.5L1564.3 888.2L1564.6 930.5L1564.9 958.9L1565.1 930.7L1565.4 795.9L1565.7 724.3L1566.0 771.1L1566.3 857.9L1566.5 967.4L1566.8 1074.0L1567.1 1182.8L1567.4 1278.2L1567.7 1364.7L1568.0 1425.6L1568.2 1456.4L1568.5 1469.6L1568.8 1432.6L1569.1 1320.5L1569.4 1118.2L1569.7 913.4L1569.9 843.4L1570.2 759.3L1570.5 746.2L1570.8 795.4L1571.1 829.3L1571.3 875.3L1571.6 896.9L1571.9 866.8L1572.2 682.5L1572.5 603.8L1572.8 648.6L1573.0 747.2L1573.3 865.2L1573.6 973.4L1573.9 1085.6L1574.2 1188.8L1574.5 1288.6L1574.7 1349.7L1575.0 1378.5L1575.3 1393.4L1575.6 1365.6L1575.9 1269.7L1576.1 1086.2L1576.4 909.8L1576.7 838.9L1577.0 770.6L1577.3 772.4L1577.6 792.0L1577.8 830.5L1578.1 850.2L1578.4 894.3L1578.7 857.4L1579.0 708.6L1579.2 643.5L1579.5 688.9L1579.8 767.3L1580.1 880.6L1580.4 975.5L1580.7 1075.1L1580.9 1166.5L1581.2 1251.0L1581.5 1309.8L1581.8 1337.6L1582.1 1350.7L1582.4 1325.2L1582.6 1232.8L1582.9 1054.7L1583.2 881.3L1583.5 818.1L1583.8 755.2L1584.0 740.2L1584.3 777.6L1584.6 839.3L1584.9 887.2L1585.2 912.4L1585.5 879.8L1585.7 707.5L1586.0 640.0L1586.3 682.6L1586.6 768.1L1586.9 872.3L1587.2 968.7L1587.4 1066.8L1587.7 1157.5L1588.0 1238.6L1588.3 1301.5L1588.6 1324.3L1588.8 1339.2L1589.1 1314.0L1589.4 1232.6L1589.7 1067.0L1590.0 908.5L1590.3 885.0L1590.5 800.7L1590.8 801.2L1591.1 851.5L1591.4 879.1L1591.7 914.6L1592.0 934.2L1592.2 929.0L1592.5 766.3L1592.8 707.0L1593.1 751.9L1593.4 828.1L1593.6 933.8L1593.9 1031.1L1594.2 1127.0L1594.5 1209.3L1594.8 1291.8L1595.1 1353.3L1595.3 1378.0L1595.6 1394.6L1595.9 1370.0L1596.2 1288.1L1596.5 1131.3L1596.7 978.2L1597.0 931.0L1597.3 849.3L1597.6 859.7L1597.9 884.0L1598.2 908.4L1598.4 946.6L1598.7 971.3L1599.0 955.0L1599.3 847.9L1599.6 793.5L1599.9 839.4L1600.1 922.3L1600.4 1021.5L1600.7 1119.7L1601.0 1213.0L1601.3 1302.3L1601.5 1386.5L1601.8 1442.8L1602.1 1471.8L1602.4 1489.2L1602.7 1460.5L1603.0 1374.4L1603.2 1200.6L1603.5 1044.3L1603.8 962.9L1604.1 912.5L1604.4 890.7L1604.7 936.2L1604.9 923.3L1605.2 964.7L1605.5 984.7L1605.8 973.3L1606.1 869.6L1606.3 807.4L1606.6 844.0L1606.9 929.4L1607.2 1029.7L1607.5 1128.3L1607.8 1219.2L1608.0 1304.2L1608.3 1387.1L1608.6 1446.2L1608.9 1470.0L1609.2 1483.4L1609.5 1446.3L1609.7 1338.6L1610.0 1140.8L1610.3 944.1L1610.6 864.2L1610.9 781.5L1611.1 771.9L1611.4 823.3L1611.7 851.3L1612.0 882.9L1612.3 932.7L1612.6 894.1L1612.8 718.7L1613.1 640.0L1613.4 685.9L1613.7 774.2L1614.0 888.5L1614.2 991.7L1614.5 1101.8L1614.8 1199.1L1615.1 1291.1L1615.4 1354.3L1615.7 1380.1L1615.9 1391.1L1616.2 1364.3L1616.5 1263.5L1616.8 1085.0L1617.1 912.9L1617.4 811.9L1617.6 739.8L1617.9 722.5L1618.2 750.8L1618.5 804.5L1618.8 841.1L1619.0 874.1L1619.3 842.2L1619.6 726.4L1619.9 657.4L1620.2 703.2L1620.5 788.4L1620.7 896.3L1621.0 999.0L1621.3 1092.6L1621.6 1188.1L1621.9 1275.1L1622.2 1332.2L1622.4 1362.6L1622.7 1375.0L1623.0 1343.0L1623.3 1251.9L1623.6 1080.3L1623.8 910.8L1624.1 839.8L1624.4 764.5L1624.7 758.6L1625.0 795.8L1625.3 843.8L1625.5 872.7L1625.8 905.9L1626.1 891.4L1626.4 731.7L1626.7 671.9L1626.9 714.7L1627.2 799.4L1627.5 905.3L1627.8 1003.7L1628.1 1095.0L1628.4 1184.6L1628.6 1273.1L1628.9 1328.0L1629.2 1358.7L1629.5 1369.2L1629.8 1337.9L1630.1 1253.0L1630.3 1080.4L1630.6 916.7L1630.9 834.2L1631.2 787.0L1631.5 766.8L1631.7 810.5L1632.0 824.0L1632.3 858.8L1632.6 873.8L1632.9 864.5L1633.2 747.7L1633.4 686.7L1633.7 730.9L1634.0 810.5L1634.3 914.3L1634.6 1010.1L1634.9 1100.6L1635.1 1189.0L1635.4 1267.8L1635.7 1328.9L1636.0 1354.3L1636.3 1366.9L1636.5 1344.5L1636.8 1259.4L1637.1 1096.2L1637.4 933.9L1637.7 885.9L1638.0 814.6L1638.2 811.7L1638.5 847.6L1638.8 857.9L1639.1 876.1L1639.4 924.7L1639.7 898.6L1639.9 776.6L1640.2 715.0L1640.5 753.0L1640.8 833.9L1641.1 935.7L1641.3 1021.3L1641.6 1113.2L1641.9 1199.3L1642.2 1278.7L1642.5 1331.3L1642.8 1356.6L1643.0 1373.8L1643.3 1353.6L1643.6 1283.7L1643.9 1143.8L1644.2 1010.9L1644.4 977.5L1644.7 933.3L1645.0 931.3L1645.3 963.4L1645.6 971.9L1645.9 998.5L1646.1 1031.0L1646.4 1018.9L1646.7 903.7L1647.0 855.8L1647.3 898.4L1647.6 970.0L1647.8 1063.2L1648.1 1142.3L1648.4 1231.5L1648.7 1308.0L1649.0 1379.8L1649.2 1430.3L1649.5 1460.7L1649.8 1477.7L1650.1 1448.0L1650.4 1364.2L1650.7 1205.4L1650.9 1055.1L1651.2 1008.6L1651.5 949.9L1651.8 947.8L1652.1 969.4L1652.4 996.2L1652.6 1018.6L1652.9 1047.5L1653.2 1037.4L1653.5 891.9L1653.8 831.6L1654.0 866.8L1654.3 943.7L1654.6 1041.5L1654.9 1130.8L1655.2 1221.4L1655.5 1306.3L1655.7 1377.9L1656.0 1427.5L1656.3 1452.7L1656.6 1468.4L1656.9 1431.2L1657.2 1336.7L1657.4 1144.9L1657.7 963.4L1658.0 895.8L1658.3 832.0L1658.6 813.7L1658.8 849.7L1659.1 862.7L1659.4 895.5L1659.7 925.6L1660.0 900.1L1660.3 735.2L1660.5 667.3L1660.8 703.9L1661.1 786.0L1661.4 890.9L1661.7 989.2L1661.9 1087.5L1662.2 1178.3L1662.5 1263.7L1662.8 1320.6L1663.1 1341.6L1663.4 1350.7L1663.6 1320.1L1663.9 1231.6L1664.2 1050.0L1664.5 878.9L1664.8 805.6L1665.1 730.1L1665.3 727.3L1665.6 760.6L1665.9 809.6L1666.2 863.8L1666.5 876.2L1666.7 865.6L1667.0 713.0L1667.3 645.8L1667.6 690.1L1667.9 778.0L1668.2 886.7L1668.4 990.0L1668.7 1099.4L1669.0 1191.6L1669.3 1279.0L1669.6 1336.3L1669.9 1372.2L1670.1 1386.5L1670.4 1360.5L1670.7 1269.2L1671.0 1093.1L1671.3 918.8L1671.5 867.9L1671.8 796.6L1672.1 794.6L1672.4 830.8L1672.7 837.2L1673.0 871.0L1673.2 906.7L1673.5 885.9L1673.8 743.6L1674.1 683.1L1674.4 728.4L1674.6 807.7L1674.9 916.5L1675.2 1015.8L1675.5 1115.2L1675.8 1209.3L1676.1 1293.6L1676.3 1351.2L1676.6 1380.8L1676.9 1393.4L1677.2 1366.1L1677.5 1277.6L1677.8 1099.2L1678.0 934.3L1678.3 900.0L1678.6 819.7L1678.9 818.9L1679.2 861.6L1679.4 821.2L1679.7 856.3L1680.0 888.8L1680.3 873.5L1680.6 761.3L1680.9 700.8L1681.1 746.8L1681.4 828.9L1681.7 931.1L1682.0 1027.3L1682.3 1125.9L1682.6 1218.1L1682.8 1304.5L1683.1 1358.2L1683.4 1383.6L1683.7 1401.5L1684.0 1369.8L1684.2 1284.0L1684.5 1106.3L1684.8 933.1L1685.1 894.8L1685.4 828.5L1685.7 821.1L1685.9 854.0L1686.2 823.4L1686.5 863.3L1686.8 875.6L1687.1 858.5L1687.4 758.0L1687.6 692.0L1687.9 736.4L1688.2 819.8L1688.5 931.6L1688.8 1023.9L1689.0 1124.9L1689.3 1217.4L1689.6 1304.5L1689.9 1366.5L1690.2 1395.6L1690.5 1406.1L1690.7 1387.2L1691.0 1300.6L1691.3 1140.9L1691.6 987.7L1691.9 902.4L1692.1 849.0L1692.4 851.5L1692.7 875.1L1693.0 946.7L1693.3 967.1L1693.6 1017.8L1693.8 991.5L1694.1 856.6L1694.4 802.4L1694.7 849.9L1695.0 926.5L1695.3 1033.2L1695.5 1133.5L1695.8 1225.6L1696.1 1314.9L1696.4 1400.0L1696.7 1458.7L1696.9 1486.1L1697.2 1505.3L1697.5 1478.9L1697.8 1383.7L1698.1 1203.9L1698.4 1030.6L1698.6 925.8L1698.9 856.9L1699.2 846.4L1699.5 886.6L1699.8 906.1L1700.1 960.9L1700.3 988.3L1700.6 967.4L1700.9 849.8L1701.2 788.5L1701.5 829.5L1701.7 914.9L1702.0 1024.8L1702.3 1128.1L1702.6 1223.3L1702.9 1320.1L1703.2 1399.5L1703.4 1461.7L1703.7 1487.9L1704.0 1503.0L1704.3 1470.4L1704.6 1362.8L1704.9 1153.3L1705.1 956.8L1705.4 883.6L1705.7 789.9L1706.0 790.9L1706.3 832.8L1706.5 846.9L1706.8 867.3L1707.1 905.0L1707.4 883.4L1707.7 724.7L1708.0 651.2L1708.2 695.0L1708.5 790.2L1708.8 910.7L1709.1 1022.3L1709.4 1128.1L1709.6 1232.8L1709.9 1329.8L1710.2 1391.4L1710.5 1419.8L1710.8 1430.3L1711.1 1399.7L1711.3 1302.8L1711.6 1115.5L1711.9 941.8L1712.2 875.4L1712.5 795.5L1712.8 775.0L1713.0 818.3L1713.3 843.1L1713.6 860.9L1713.9 908.8L1714.2 875.1L1714.4 741.9L1714.7 677.7L1715.0 721.2L1715.3 811.9L1715.6 916.3L1715.9 1022.8L1716.1 1127.3L1716.4 1220.8L1716.7 1307.8L1717.0 1368.8L1717.3 1397.1L1717.6 1410.7L1717.8 1386.8L1718.1 1295.5L1718.4 1127.4L1718.7 960.7L1719.0 906.7L1719.2 860.4L1719.5 847.7L1719.8 870.4L1720.1 843.8L1720.4 896.4L1720.7 915.8L1720.9 889.9L1721.2 795.7L1721.5 733.1L1721.8 775.5L1722.1 861.0L1722.4 963.0L1722.6 1058.8L1722.9 1154.8L1723.2 1250.3L1723.5 1333.2L1723.8 1381.8L1724.0 1417.5L1724.3 1428.0L1724.6 1400.7L1724.9 1306.4L1725.2 1128.1L1725.5 959.1L1725.7 860.9L1726.0 801.2L1726.3 786.9L1726.6 816.4L1726.9 904.2L1727.1 916.7L1727.4 956.0L1727.7 939.6L1728.0 764.1L1728.3 702.7L1728.6 746.7L1728.8 827.6L1729.1 932.6L1729.4 1028.3L1729.7 1129.7L1730.0 1215.4L1730.3 1301.6L1730.5 1356.0L1730.8 1384.4L1731.1 1396.9L1731.4 1368.7L1731.7 1292.5L1731.9 1135.4L1732.2 981.4L1732.5 936.2L1732.8 877.1L1733.1 881.1L1733.4 917.4L1733.6 918.6L1733.9 955.8L1734.2 972.0L1734.5 966.9L1734.8 838.7L1735.1 779.3L1735.3 822.0L1735.6 895.7L1735.9 987.1L1736.2 1077.4L1736.5 1166.8L1736.7 1252.9L1737.0 1327.5L1737.3 1379.6L1737.6 1408.5L1737.9 1420.0L1738.2 1395.6L1738.4 1318.7L1738.7 1158.1L1739.0 1012.6L1739.3 975.0L1739.6 914.6L1739.8 910.8L1740.1 935.7L1740.4 995.6L1740.7 1030.1L1741.0 1062.3L1741.3 1037.4L1741.5 883.0L1741.8 825.4L1742.1 866.9L1742.4 950.5L1742.7 1044.4L1743.0 1142.6L1743.2 1239.1L1743.5 1320.2L1743.8 1399.6L1744.1 1454.7L1744.4 1486.7L1744.6 1504.2L1744.9 1478.6L1745.2 1392.8L1745.5 1221.2L1745.8 1065.9L1746.1 976.4L1746.3 905.3L1746.6 897.7L1746.9 926.0L1747.2 1019.4L1747.5 1052.3L1747.8 1064.3L1748.0 1040.6L1748.3 892.1L1748.6 834.7L1748.9 873.8L1749.2 953.6L1749.4 1058.4L1749.7 1150.4L1750.0 1239.1L1750.3 1331.7L1750.6 1412.3L1750.9 1465.7L1751.1 1488.6L1751.4 1501.9L1751.7 1465.4L1752.0 1370.2L1752.3 1172.4L1752.6 988.3L1752.8 893.3L1753.1 825.2L1753.4 814.5L1753.7 836.2L1754.0 843.9L1754.2 896.4L1754.5 918.1L1754.8 878.8L1755.1 769.2L1755.4 695.0L1755.7 738.0L1755.9 822.3L1756.2 935.5L1756.5 1035.5L1756.8 1133.4L1757.1 1232.5L1757.3 1314.6L1757.6 1374.4L1757.9 1398.3L1758.2 1409.6L1758.5 1381.3L1758.8 1286.5L1759.0 1101.0L1759.3 924.0L1759.6 860.9L1759.9 785.3L1760.2 782.1L1760.5 825.6L1760.7 887.7L1761.0 916.0L1761.3 948.9L1761.6 915.8L1761.9 749.9L1762.1 687.0L1762.4 731.7L1762.7 823.0L1763.0 932.6L1763.3 1040.0L1763.6 1146.6L1763.8 1243.9L1764.1 1335.0L1764.4 1393.5L1764.7 1425.5L1765.0 1439.6L1765.3 1408.0L1765.5 1305.9L1765.8 1107.4L1766.1 923.8L1766.4 828.2L1766.7 760.8L1766.9 751.8L1767.2 777.9L1767.5 871.4L1767.8 895.2L1768.1 923.1L1768.4 914.1L1768.6 708.9L1768.9 640.8L1769.2 687.0L1769.5 778.7L1769.8 891.2L1770.1 996.0L1770.3 1100.9L1770.6 1202.7L1770.9 1294.0L1771.2 1354.7L1771.5 1381.9L1771.7 1398.0L1772.0 1363.2L1772.3 1264.0L1772.6 1075.9L1772.9 891.0L1773.2 827.6L1773.4 753.1L1773.7 742.4L1774.0 778.6L1774.3 820.4L1774.6 862.6L1774.8 884.5L1775.1 858.8L1775.4 682.3L1775.7 614.3L1776.0 657.9L1776.3 751.0L1776.5 858.6L1776.8 970.1L1777.1 1075.9L1777.4 1172.9L1777.7 1263.0L1778.0 1318.6L1778.2 1349.5L1778.5 1364.6L1778.8 1339.9L1779.1 1258.6L1779.4 1107.0L1779.6 952.5L1779.9 922.4L1780.2 847.2L1780.5 839.1L1780.8 875.7L1781.1 885.9L1781.3 920.9L1781.6 936.8L1781.9 931.9L1782.2 807.6L1782.5 748.1L1782.8 783.6L1783.0 865.5L1783.3 957.2L1783.6 1043.9L1783.9 1138.0L1784.2 1222.2L1784.4 1296.6L1784.7 1348.3L1785.0 1374.7L1785.3 1385.3L1785.6 1365.9L1785.9 1291.7L1786.1 1157.2L1786.4 1024.3L1786.7 959.8L1787.0 905.8L1787.3 892.0L1787.5 931.4L1787.8 975.4L1788.1 1018.9L1788.4 1029.6L1788.7 1012.9L1789.0 907.6L1789.2 862.0L1789.5 898.2L1789.8 969.9L1790.1 1062.1L1790.4 1148.0L1790.7 1230.3L1790.9 1311.6L1791.2 1378.0L1791.5 1426.3L1791.8 1455.3L1792.1 1471.9L1792.3 1441.4L1792.6 1358.7L1792.9 1201.1L1793.2 1040.2L1793.5 956.0L1793.8 893.6L1794.0 891.3L1794.3 929.7L1794.6 995.2L1794.9 1031.5L1795.2 1046.5L1795.5 1020.6L1795.7 870.5L1796.0 813.9L1796.3 848.3L1796.6 929.5L1796.9 1023.4L1797.1 1113.4L1797.4 1203.3L1797.7 1283.8L1798.0 1363.4L1798.3 1412.4L1798.6 1437.4L1798.8 1452.3L1799.1 1421.8L1799.4 1322.5L1799.7 1137.0L1800.0 964.7L1800.3 857.0L1800.5 791.1L1800.8 764.0L1801.1 805.1L1801.4 887.8L1801.7 934.5L1801.9 942.9L1802.2 922.4L1802.5 756.1L1802.8 684.2L1803.1 725.1L1803.4 808.7L1803.6 913.6L1803.9 1017.5L1804.2 1116.1L1804.5 1203.7L1804.8 1287.9L1805.0 1340.2L1805.3 1368.6L1805.6 1380.7L1805.9 1352.1L1806.2 1265.7L1806.5 1089.8L1806.7 923.5L1807.0 878.2L1807.3 797.8L1807.6 796.9L1807.9 828.7L1808.2 839.5L1808.4 866.0L1808.7 913.0L1809.0 895.0L1809.3 753.0L1809.6 687.0L1809.8 726.5L1810.1 809.8L1810.4 918.3L1810.7 1019.4L1811.0 1115.6L1811.3 1207.0L1811.5 1286.4L1811.8 1342.5L1812.1 1378.0L1812.4 1388.8L1812.7 1357.5L1813.0 1257.4L1813.2 1065.7L1813.5 879.5L1813.8 802.3L1814.1 724.1L1814.4 713.0L1814.6 758.4L1814.9 803.8L1815.2 847.2L1815.5 873.6L1815.8 851.2L1816.1 685.4L1816.3 617.7L1816.6 664.1L1816.9 751.2L1817.2 866.7L1817.5 973.0L1817.8 1081.6L1818.0 1183.6L1818.3 1267.1L1818.6 1328.9L1818.9 1361.1L1819.2 1376.1L1819.4 1342.0L1819.7 1238.5L1820.0 1051.0L1820.3 857.3L1820.6 762.8L1820.9 680.1L1821.1 668.9L1821.4 720.3L1821.7 739.3L1822.0 774.1L1822.3 803.6L1822.5 793.0L1822.8 661.8L1823.1 588.2L1823.4 630.4L1823.7 729.1L1824.0 839.3L1824.2 947.7L1824.5 1057.6L1824.8 1158.9L1825.1 1250.6L1825.4 1308.4L1825.7 1345.6L1825.9 1356.5L1826.2 1333.6L1826.5 1247.5L1826.8 1078.4L1827.1 917.9L1827.3 838.0L1827.6 774.0L1827.9 750.2L1828.2 799.3L1828.5 835.3L1828.8 871.2L1829.0 886.3L1829.3 864.2L1829.6 751.7L1829.9 691.6L1830.2 729.6L1830.5 813.1L1830.7 913.7L1831.0 1003.1L1831.3 1098.6L1831.6 1179.3L1831.9 1259.5L1832.1 1312.2L1832.4 1338.8L1832.7 1353.0L1833.0 1334.4L1833.3 1267.0L1833.6 1120.6L1833.8 984.0L1834.1 970.7L1834.4 912.0L1834.7 894.4L1835.0 933.2L1835.3 946.0L1835.5 991.6L1835.8 1008.4L1836.1 1010.8L1836.4 884.9L1836.7 835.4L1836.9 878.4L1837.2 953.3L1837.5 1044.6L1837.8 1130.3L1838.1 1220.2L1838.4 1295.5L1838.6 1373.6L1838.9 1424.9L1839.2 1451.3L1839.5 1469.6L1839.8 1443.4L1840.0 1353.9L1840.3 1195.8L1840.6 1038.8L1840.9 979.2L1841.2 905.3L1841.5 899.0L1841.7 927.1L1842.0 986.6L1842.3 1014.5L1842.6 1045.8L1842.9 1022.9L1843.2 864.1L1843.4 802.4L1843.7 835.8L1844.0 911.7L1844.3 1012.4L1844.6 1101.9L1844.8 1184.7L1845.1 1272.1L1845.4 1341.1L1845.7 1394.4L1846.0 1417.1L1846.3 1430.3L1846.5 1395.0L1846.8 1297.2L1847.1 1103.9L1847.4 922.1L1847.7 810.3L1848.0 720.9L1848.2 714.4L1848.5 754.9L1848.8 849.1L1849.1 894.8L1849.4 909.9L1849.6 880.0L1849.9 693.7L1850.2 621.2L1850.5 660.7L1850.8 745.8L1851.1 853.2L1851.3 954.4L1851.6 1059.2L1851.9 1147.3L1852.2 1236.5L1852.5 1288.5L1852.7 1314.2L1853.0 1325.3L1853.3 1295.1L1853.6 1202.1L1853.9 1033.6L1854.2 861.0L1854.4 769.2L1854.7 701.3L1855.0 680.9L1855.3 714.2L1855.6 754.4L1855.9 804.1L1856.1 815.8L1856.4 806.2L1856.7 674.9L1857.0 615.0L1857.3 652.6L1857.5 739.5L1857.8 838.7L1858.1 933.0L1858.4 1029.7L1858.7 1119.7L1859.0 1207.8L1859.2 1256.0L1859.5 1282.2L1859.8 1297.7L1860.1 1269.2L1860.4 1182.6L1860.7 1010.4L1860.9 847.0L1861.2 804.5L1861.5 733.7L1861.8 713.1L1862.1 750.5L1862.3 787.6L1862.6 818.9L1862.9 839.6L1863.2 836.0L1863.5 679.9L1863.8 617.7L1864.0 659.6L1864.3 742.4L1864.6 849.1L1864.9 944.1L1865.2 1040.9L1865.5 1130.3L1865.7 1212.1L1866.0 1266.8L1866.3 1295.6L1866.6 1309.2L1866.9 1277.2L1867.1 1185.4L1867.4 1009.8L1867.7 833.2L1868.0 727.4L1868.3 654.9L1868.6 661.3L1868.8 697.1L1869.1 759.5L1869.4 789.0L1869.7 822.2L1870.0 786.3L1870.2 655.9L1870.5 590.0L1870.8 632.8L1871.1 720.4L1871.4 829.5L1871.7 923.7L1871.9 1030.5L1872.2 1120.9L1872.5 1202.7L1872.8 1262.5L1873.1 1292.9L1873.4 1305.7L1873.6 1282.2L1873.9 1200.0L1874.2 1034.6L1874.5 885.1L1874.8 780.7L1875.0 727.5L1875.3 709.3L1875.6 762.2L1875.9 783.3L1876.2 835.1L1876.5 859.2L1876.7 836.8L1877.0 729.9L1877.3 674.3L1877.6 716.0L1877.9 794.4L1878.2 894.0L1878.4 983.8L1878.7 1074.9L1879.0 1163.6L1879.3 1244.6L1879.6 1293.7L1879.8 1325.9L1880.1 1338.0L1880.4 1313.8L1880.7 1244.8L1881.0 1105.6L1881.3 962.2L1881.5 912.4L1881.8 851.7L1882.1 845.5L1882.4 875.0L1882.7 950.2L1883.0 991.3L1883.2 993.8L1883.5 986.9L1883.8 839.1L1884.1 792.7L1884.4 826.3L1884.6 899.0L1884.9 991.2L1885.2 1074.6L1885.5 1154.8L1885.8 1236.2L1886.1 1310.1L1886.3 1355.1L1886.6 1379.4L1886.9 1394.6L1887.2 1369.5L1887.5 1282.5L1887.7 1126.2L1888.0 967.8L1888.3 872.0L1888.6 825.4L1888.9 800.4L1889.2 839.1L1889.4 878.5L1889.7 905.5L1890.0 931.6L1890.3 912.3L1890.6 814.5L1890.9 756.2L1891.1 797.2L1891.4 875.6L1891.7 977.3L1892.0 1067.4L1892.3 1162.9L1892.5 1246.9L1892.8 1327.0L1893.1 1378.1L1893.4 1405.1L1893.7 1421.1L1894.0 1391.2L1894.2 1284.2L1894.5 1104.0L1894.8 923.1L1895.1 819.0L1895.4 752.3L1895.7 737.4L1895.9 767.0L1896.2 794.5L1896.5 825.0L1896.8 856.5L1897.1 820.9L1897.3 696.7L1897.6 627.0L1897.9 664.0L1898.2 749.2L1898.5 850.1L1898.8 952.3L1899.0 1046.3L1899.3 1139.8L1899.6 1223.3L1899.9 1273.5L1900.2 1302.6L1900.5 1309.2L1900.7 1285.6L1901.0 1191.0L1901.3 1019.6L1901.6 851.8L1901.9 796.5L1902.1 737.2L1902.4 717.5L1902.7 751.1L1903.0 812.2L1903.3 851.6L1903.6 875.6L1903.8 858.5L1904.1 681.3L1904.4 622.4L1904.7 666.6L1905.0 750.6L1905.2 846.2L1905.5 947.8L1905.8 1039.7L1906.1 1132.5L1906.4 1214.5L1906.7 1273.6L1906.9 1297.3L1907.2 1312.7L1907.5 1288.4L1907.8 1197.9L1908.1 1027.4L1908.4 861.3L1908.6 767.6L1908.9 703.7L1909.2 705.2L1909.5 736.4L1909.8 763.2L1910.0 793.2L1910.3 831.4L1910.6 812.5L1910.9 687.2L1911.2 624.7L1911.5 660.7L1911.7 745.1L1912.0 844.9L1912.3 938.2L1912.6 1029.3L1912.9 1118.0L1913.2 1197.6L1913.4 1251.4L1913.7 1273.9L1914.0 1289.6L1914.3 1265.1L1914.6 1178.5L1914.8 1016.5L1915.1 861.2L1915.4 768.4L1915.7 695.7L1916.0 704.3L1916.3 741.2L1916.5 798.6L1916.8 836.3L1917.1 856.3L1917.4 829.7L1917.7 699.9L1917.9 640.8L1918.2 680.1L1918.5 754.1L1918.8 850.0L1919.1 939.6L1919.4 1028.3L1919.6 1111.3L1919.9 1185.8L1920.2 1240.3L1920.5 1265.8L1920.8 1275.7L1921.1 1248.4L1921.3 1169.0L1921.6 1009.1L1921.9 858.9L1922.2 801.9L1922.5 721.2L1922.7 722.0L1923.0 756.1L1923.3 833.6L1923.6 872.7L1923.9 894.7L1924.2 874.3L1924.4 713.0L1924.7 655.8L1925.0 694.2L1925.3 770.5L1925.6 870.2L1925.9 958.0L1926.1 1045.1L1926.4 1134.1L1926.7 1210.3L1927.0 1258.5L1927.3 1287.7L1927.5 1302.3L1927.8 1286.2L1928.1 1213.9L1928.4 1066.0L1928.7 927.6L1929.0 894.5L1929.2 830.4L1929.5 835.0L1929.8 881.0L1930.1 865.5L1930.4 898.0L1930.7 934.7L1930.9 906.9L1931.2 817.3L1931.5 770.8L1931.8 809.8L1932.1 884.7L1932.3 983.3L1932.6 1071.0L1932.9 1155.3L1933.2 1235.8L1933.5 1309.2L1933.8 1367.8L1934.0 1390.5L1934.3 1408.4L1934.6 1378.4L1934.9 1300.3L1935.2 1142.1L1935.4 993.5L1935.7 931.4L1936.0 863.2L1936.3 856.4L1936.6 885.2L1936.9 908.7L1937.1 945.8L1937.4 964.0L1937.7 951.6L1938.0 827.3L1938.3 767.7L1938.6 802.7L1938.8 874.5L1939.1 970.5L1939.4 1051.4L1939.7 1136.5L1940.0 1214.6L1940.2 1293.0L1940.5 1340.1L1940.8 1357.4L1941.1 1371.5L1941.4 1340.3L1941.7 1251.3L1941.9 1074.5L1942.2 907.9L1942.5 860.9L1942.8 781.3L1943.1 776.4L1943.4 805.3L1943.6 834.0L1943.9 850.3L1944.2 871.1L1944.5 859.6L1944.8 690.8L1945.0 629.3L1945.3 667.1L1945.6 740.0L1945.9 835.1L1946.2 921.7L1946.5 1014.1L1946.7 1096.6L1947.0 1171.7L1947.3 1218.1L1947.6 1236.4L1947.9 1246.9L1948.2 1222.1L1948.4 1142.0L1948.7 982.4L1949.0 837.3L1949.3 774.7L1949.6 719.1L1949.8 706.7L1950.1 746.0L1950.4 796.5L1950.7 822.0L1951.0 837.0L1951.3 813.8L1951.5 677.8L1951.8 618.5L1952.1 654.1L1952.4 731.2L1952.7 823.9L1952.9 907.6L1953.2 999.0L1953.5 1074.7L1953.8 1154.4L1954.1 1197.7L1954.4 1224.7L1954.6 1237.9L1954.9 1212.4L1955.2 1128.7L1955.5 973.5L1955.8 825.7L1956.1 741.9L1956.3 665.7L1956.6 670.3L1956.9 710.0L1957.2 755.0L1957.5 784.3L1957.7 817.1L1958.0 789.5L1958.3 674.1L1958.6 620.8L1958.9 662.3L1959.2 739.8L1959.4 839.1L1959.7 931.3L1960.0 1022.2L1960.3 1104.5L1960.6 1181.6L1960.9 1240.4L1961.1 1262.8L1961.4 1278.4L1961.7 1253.4L1962.0 1164.7L1962.3 1002.3L1962.5 843.8L1962.8 752.1L1963.1 670.4L1963.4 676.1L1963.7 717.1L1964.0 780.4L1964.2 809.7L1964.5 828.7L1964.8 806.4L1965.1 670.7L1965.4 615.0L1965.6 651.6L1965.9 729.6L1966.2 830.1L1966.5 923.0L1966.8 1013.9L1967.1 1099.4L1967.3 1179.3L1967.6 1230.9L1967.9 1254.9L1968.2 1269.5L1968.5 1247.2L1968.8 1169.3L1969.0 1010.0L1969.3 855.1L1969.6 808.7L1969.9 728.5L1970.2 725.5L1970.4 760.4L1970.7 830.3L1971.0 865.0L1971.3 871.6L1971.6 867.6L1971.9 712.1L1972.1 660.8L1972.4 702.2L1972.7 774.5L1973.0 878.5L1973.3 965.1L1973.6 1053.6L1973.8 1139.2L1974.1 1215.1L1974.4 1269.1L1974.7 1298.4L1975.0 1311.9L1975.2 1293.2L1975.5 1218.0L1975.8 1074.6L1976.1 938.9L1976.4 897.1L1976.7 850.0L1976.9 847.3L1977.2 890.9L1977.5 860.0L1977.8 896.9L1978.1 933.9L1978.4 909.1L1978.6 823.5L1978.9 776.2L1979.2 813.7L1979.5 893.8L1979.8 982.7L1980.0 1071.0L1980.3 1158.4L1980.6 1236.4L1980.9 1310.3L1981.2 1362.2L1981.5 1392.5L1981.7 1409.1L1982.0 1382.8L1982.3 1295.5L1982.6 1130.9L1982.9 975.1L1983.1 895.8L1983.4 827.2L1983.7 814.8L1984.0 849.7L1984.3 874.6L1984.6 918.4L1984.8 947.7L1985.1 925.2L1985.4 812.4L1985.7 753.1L1986.0 790.3L1986.3 867.7L1986.5 967.7L1986.8 1056.9L1987.1 1149.7L1987.4 1235.6L1987.7 1310.9L1987.9 1363.8L1988.2 1390.0L1988.5 1401.9L1988.8 1370.1L1989.1 1269.6L1989.4 1091.1L1989.6 913.9L1989.9 802.4L1990.2 735.6L1990.5 729.5L1990.8 768.9L1991.1 795.9L1991.3 829.4L1991.6 859.3L1991.9 826.9L1992.2 707.0L1992.5 637.7L1992.7 674.6L1993.0 761.2L1993.3 863.9L1993.6 960.2L1993.9 1056.4L1994.2 1147.8L1994.4 1223.0L1994.7 1283.0L1995.0 1306.9L1995.3 1316.2L1995.6 1287.3L1995.9 1195.9L1996.1 1027.7L1996.4 865.6L1996.7 803.2L1997.0 731.3L1997.3 720.8L1997.5 752.9L1997.8 744.2L1998.1 776.0L1998.4 808.1L1998.7 794.9L1999.0 677.0L1999.2 614.7L1999.5 652.9L1999.8 728.4L2000.1 835.0L2000.4 921.1L2000.6 1014.6L2000.9 1105.0L2001.2 1179.0L2001.5 1236.1L2001.8 1259.4L2002.1 1269.1L2002.3 1241.0L2002.6 1165.0L2002.9 1005.3L2003.2 855.1L2003.5 815.3L2003.8 740.3L2004.0 727.4L2004.3 772.5L2004.6 766.4L2004.9 797.5L2005.2 831.8L2005.4 798.5L2005.7 691.9L2006.0 637.7L2006.3 675.9L2006.6 751.3L2006.9 844.0L2007.1 928.8L2007.4 1018.8L2007.7 1104.0L2008.0 1178.2L2008.3 1223.7L2008.6 1252.5L2008.8 1263.4L2009.1 1236.9L2009.4 1157.1L2009.7 1000.0L2010.0 851.8L2010.2 784.0L2010.5 712.6L2010.8 709.6L2011.1 745.9L2011.4 740.0L2011.7 768.4L2011.9 812.2L2012.2 788.9L2012.5 687.4L2012.8 633.1L2013.1 669.0L2013.3 742.4L2013.6 842.4L2013.9 923.9L2014.2 1009.7L2014.5 1096.3L2014.8 1169.5L2015.0 1214.1L2015.3 1240.9L2015.6 1254.8L2015.9 1233.4L2016.2 1153.4L2016.5 994.2L2016.7 849.0L2017.0 802.7L2017.3 752.4L2017.6 753.3L2017.9 786.4L2018.1 790.0L2018.4 814.7L2018.7 854.8L2019.0 827.7L2019.3 720.8L2019.6 663.1L2019.8 707.6L2020.1 780.8L2020.4 883.1L2020.7 977.9L2021.0 1064.9L2021.3 1148.6L2021.5 1233.1L2021.8 1287.8L2022.1 1317.7L2022.4 1330.5L2022.7 1312.3L2022.9 1243.4L2023.2 1105.9L2023.5 981.4L2023.8 940.8L2024.1 878.7L2024.4 885.5L2024.6 917.1L2024.9 929.7L2025.2 971.5L2025.5 991.6L2025.8 981.4L2026.1 887.3L2026.3 838.1L2026.6 880.1L2026.9 952.7L2027.2 1042.0L2027.5 1122.7L2027.7 1207.5L2028.0 1288.8L2028.3 1361.5L2028.6 1413.3L2028.9 1440.3L2029.2 1454.8L2029.4 1431.5L2029.7 1344.3L2030.0 1181.3L2030.3 1028.3L2030.6 970.6L2030.8 899.2L2031.1 883.3L2031.4 925.9L2031.7 952.9L2032.0 981.9L2032.3 1010.8L2032.5 973.8L2032.8 868.4L2033.1 808.1L2033.4 850.5L2033.7 927.4L2034.0 1023.2L2034.2 1108.5L2034.5 1203.9L2034.8 1283.1L2035.1 1368.2L2035.4 1412.3L2035.6 1440.7L2035.9 1454.8L2036.2 1419.5L2036.5 1321.9L2036.8 1142.5L2037.1 964.1L2037.3 850.5L2037.6 788.1L2037.9 777.1L2038.2 809.7L2038.5 902.1L2038.8 929.7L2039.0 950.3L2039.3 928.1L2039.6 748.4L2039.9 679.3L2040.2 716.7L2040.4 805.4L2040.7 904.1L2041.0 1000.3L2041.3 1099.4L2041.6 1188.2L2041.9 1276.9L2042.1 1327.8L2042.4 1351.8L2042.7 1363.4L2043.0 1334.7L2043.3 1247.5L2043.6 1079.1L2043.8 919.2L2044.1 851.4L2044.4 781.2L2044.7 789.4L2045.0 813.6L2045.2 809.1L2045.5 829.3L2045.8 858.7L2046.1 839.1L2046.4 747.5L2046.7 683.9L2046.9 724.7L2047.2 803.8L2047.5 902.3L2047.8 994.7L2048.1 1092.8L2048.3 1176.2L2048.6 1258.8L2048.9 1313.2L2049.2 1342.1L2049.5 1351.9L2049.8 1325.7L2050.0 1231.6L2050.3 1063.5L2050.6 894.9L2050.9 870.9L2051.2 799.6L2051.5 790.8L2051.7 829.3L2052.0 856.2L2052.3 885.9L2052.6 921.1L2052.9 899.2L2053.1 728.2L2053.4 665.4L2053.7 705.3L2054.0 795.5L2054.3 900.5L2054.6 996.0L2054.8 1093.4L2055.1 1183.9L2055.4 1265.6L2055.7 1321.7L2056.0 1351.8L2056.3 1366.2L2056.5 1344.0L2056.8 1258.7L2057.1 1101.0L2057.4 949.1L2057.7 907.2L2057.9 840.5L2058.2 842.5L2058.5 877.9L2058.8 892.2L2059.1 931.8L2059.4 959.6L2059.6 939.6L2059.9 786.9L2060.2 730.0L2060.5 769.7L2060.8 844.8L2061.1 940.6L2061.3 1027.1L2061.6 1112.4L2061.9 1200.8L2062.2 1274.3L2062.5 1325.9L2062.7 1346.6L2063.0 1360.5L2063.3 1332.5L2063.6 1251.8L2063.9 1102.0L2064.2 952.7L2064.4 874.1L2064.7 793.4L2065.0 805.9L2065.3 816.1L2065.6 908.6L2065.8 941.5L2066.1 974.9L2066.4 947.5L2066.7 794.2L2067.0 741.6L2067.3 778.3L2067.5 848.3L2067.8 943.9L2068.1 1032.2L2068.4 1110.9L2068.7 1193.2L2069.0 1267.1L2069.2 1312.5L2069.5 1338.9L2069.8 1351.9L2070.1 1335.6L2070.4 1272.8L2070.6 1151.5L2070.9 1035.5L2071.2 963.5L2071.5 922.5L2071.8 924.6L2072.1 948.6L2072.3 1012.5L2072.6 1034.6L2072.9 1071.7L2073.2 1045.6L2073.5 932.1L2073.8 893.5L2074.0 925.0L2074.3 986.4L2074.6 1068.4L2074.9 1141.9L2075.2 1217.2L2075.4 1282.0L2075.7 1350.9L2076.0 1389.6L2076.3 1411.1L2076.6 1427.7L2076.9 1406.5L2077.1 1330.4L2077.4 1191.6L2077.7 1058.8L2078.0 985.8L2078.3 926.1L2078.5 932.8L2078.8 945.4L2079.1 998.4L2079.4 1034.9L2079.7 1042.2L2080.0 1035.8L2080.2 924.0L2080.5 870.4L2080.8 905.6L2081.1 971.7L2081.4 1050.3L2081.7 1130.9L2081.9 1203.6L2082.2 1276.7L2082.5 1346.5L2082.8 1388.6L2083.1 1407.1L2083.3 1421.9L2083.6 1393.6L2083.9 1308.0L2084.2 1140.3L2084.5 984.3L2084.8 955.0L2085.0 868.3L2085.3 863.8L2085.6 904.6L2085.9 886.8L2086.2 911.2L2086.5 940.2L2086.7 921.0L2087.0 791.9L2087.3 730.0L2087.6 763.8L2087.9 839.8L2088.1 931.7L2088.4 1018.9L2088.7 1108.0L2089.0 1185.0L2089.3 1259.2L2089.6 1310.1L2089.8 1330.6L2090.1 1343.4L2090.4 1320.5L2090.7 1235.6L2091.0 1089.8L2091.3 937.6L2091.5 873.7L2091.8 822.4L2092.1 821.3L2092.4 840.2L2092.7 894.0L2092.9 908.0L2093.2 940.6L2093.5 923.6L2093.8 787.8L2094.1 730.0L2094.4 766.0L2094.6 839.6L2094.9 931.6L2095.2 1017.8L2095.5 1100.0L2095.8 1183.0L2096.0 1255.4L2096.3 1302.9L2096.6 1330.7L2096.9 1341.9L2097.2 1321.7L2097.5 1238.8L2097.7 1092.7L2098.0 950.4L2098.3 922.9L2098.6 861.4L2098.9 838.5L2099.2 886.4L2099.4 899.4L2099.7 947.2L2100.0 947.5L2100.3 945.1L2100.6 795.0L2100.8 741.6L2101.1 775.4L2101.4 847.6L2101.7 940.1L2102.0 1018.5L2102.3 1107.3L2102.5 1181.1L2102.8 1253.9L2103.1 1305.7L2103.4 1329.9L2103.7 1337.7L2104.0 1312.5L2104.2 1236.6L2104.5 1088.2L2104.8 940.3L2105.1 867.9L2105.4 795.1L2105.6 800.7L2105.9 837.3L2106.2 862.6L2106.5 889.7L2106.8 897.6L2107.1 889.9L2107.3 788.8L2107.6 737.0L2107.9 771.9L2108.2 845.9L2108.5 930.5L2108.8 1018.2L2109.0 1099.9L2109.3 1180.2L2109.6 1249.8L2109.9 1299.4L2110.2 1323.8L2110.4 1331.9L2110.7 1307.0L2111.0 1233.4L2111.3 1088.1L2111.6 953.8L2111.9 872.1L2112.1 817.8L2112.4 815.2L2112.7 840.7L2113.0 877.0L2113.3 907.4L2113.5 946.8L2113.8 915.1L2114.1 818.3L2114.4 770.4L2114.7 810.6L2115.0 875.6L2115.2 971.0L2115.5 1049.5L2115.8 1134.7L2116.1 1212.0L2116.4 1286.0L2116.7 1331.2L2116.9 1352.6L2117.2 1369.1L2117.5 1356.8L2117.8 1307.0L2118.1 1211.0L2118.3 1111.9L2118.6 1072.0L2118.9 1040.1L2119.2 1035.4L2119.5 1056.0L2119.8 1084.8L2120.0 1123.1L2120.3 1131.5L2120.6 1124.8L2120.9 1043.0L2121.2 1011.4L2121.5 1039.6L2121.7 1097.3L2122.0 1158.4L2122.3 1223.3L2122.6 1285.4L2122.9 1345.2L2123.1 1397.2L2123.4 1436.7L2123.7 1453.4L2124.0 1466.2L2124.3 1444.1L2124.6 1392.2L2124.8 1272.5L2125.1 1164.1L2125.4 1142.2L2125.7 1083.8L2126.0 1085.5L2126.2 1108.7L2126.5 1122.3L2126.8 1126.3L2127.1 1160.9L2127.4 1143.8L2127.7 1053.3L2127.9 1010.4L2128.2 1040.6L2128.5 1093.4L2128.8 1166.3L2129.1 1227.5L2129.4 1290.5L2129.6 1348.0L2129.9 1403.9L2130.2 1443.9L2130.5 1464.0L2130.8 1471.9L2131.0 1450.1L2131.3 1370.7L2131.6 1228.7L2131.9 1097.5L2132.2 1073.7L2132.5 1007.6L2132.7 1009.1L2133.0 1018.3L2133.3 1063.5L2133.6 1086.4L2133.9 1104.0L2134.2 1090.2L2134.4 946.8L2134.7 893.5L2135.0 923.2L2135.3 993.4L2135.6 1077.6L2135.8 1148.6L2136.1 1225.7L2136.4 1304.5L2136.7 1368.5L2137.0 1410.4L2137.3 1428.2L2137.5 1441.9L2137.8 1415.5L2138.1 1338.4L2138.4 1188.6L2138.7 1038.0L2139.0 968.8L2139.2 899.4L2139.5 902.0L2139.8 922.2L2140.1 937.5L2140.4 976.6L2140.6 989.4L2140.9 979.6L2141.2 877.5L2141.5 822.4L2141.8 858.5L2142.1 924.4L2142.3 1017.1L2142.6 1096.4L2142.9 1180.2L2143.2 1255.0L2143.5 1320.5L2143.7 1367.3L2144.0 1390.4L2144.3 1401.9L2144.6 1381.2L2144.9 1309.6L2145.2 1168.2L2145.4 1045.2L2145.7 995.5L2146.0 936.5L2146.3 936.3L2146.6 941.9L2146.9 986.8L2147.1 1017.2L2147.4 1040.7L2147.7 1008.8L2148.0 898.8L2148.3 845.4L2148.5 877.3L2148.8 943.3L2149.1 1019.1L2149.4 1095.7L2149.7 1167.0L2150.0 1234.9L2150.2 1300.8L2150.5 1341.1L2150.8 1360.1L2151.1 1369.1L2151.4 1348.3L2151.7 1282.8L2151.9 1156.8L2152.2 1029.3L2152.5 989.7L2152.8 938.8L2153.1 920.4L2153.3 959.3L2153.6 985.7L2153.9 1012.4L2154.2 1021.6L2154.5 1029.7L2154.8 911.6L2155.0 868.5L2155.3 903.7L2155.6 967.9L2155.9 1045.1L2156.2 1115.4L2156.5 1186.4L2156.7 1254.8L2157.0 1323.8L2157.3 1367.2L2157.6 1389.2L2157.9 1397.7L2158.1 1382.5L2158.4 1315.1L2158.7 1188.5L2159.0 1061.4L2159.3 1010.5L2159.6 949.0L2159.8 949.4L2160.1 984.5L2160.4 1032.8L2160.7 1068.5L2161.0 1096.7L2161.2 1084.7L2161.5 955.1L2161.8 914.7L2162.1 950.7L2162.4 1017.8L2162.7 1097.8L2162.9 1172.0L2163.2 1243.8L2163.5 1313.5L2163.8 1382.9L2164.1 1428.6L2164.4 1451.1L2164.6 1463.4L2164.9 1453.4L2165.2 1391.6L2165.5 1257.6L2165.8 1120.6L2166.0 1077.6L2166.3 1060.4L2166.6 1053.1L2166.9 1052.4L2167.2 1052.2L2167.5 1069.3L2167.7 1070.1L2168.0 1071.3L2168.3 1034.3L2168.6 1019.4L2168.9 1037.5L2169.2 1074.4L2169.4 1147.9L2169.7 1240.0L2170.0 1333.7L2170.3 1403.0L2170.6 1462.7L2170.8 1492.8L2171.1 1508.8L2171.4 1516.2L2171.7 1501.2L2172.0 1446.8L2172.3 1310.0L2172.5 1184.2L2172.8 1111.1L2173.1 1080.5L2173.4 1080.6L2173.7 1092.8L2174.0 1126.9L2174.2 1145.6L2174.5 1150.4L2174.8 1126.6L2175.1 1086.0L2175.4 1071.3L2175.6 1090.7L2175.9 1128.9L2176.2 1194.3L2176.5 1285.2L2176.8 1371.7L2177.1 1443.3L2177.3 1496.8L2177.6 1521.6L2177.9 1537.8L2178.2 1547.7L2178.5 1536.3L2178.7 1475.3L2179.0 1332.5L2179.3 1194.4L2179.6 1136.0L2179.9 1098.8L2180.2 1101.2L2180.4 1109.6L2180.7 1083.0L2181.0 1111.5L2181.3 1100.7L2181.6 1098.2L2181.9 1097.3L2182.1 1083.3L2182.4 1100.9L2182.7 1144.8L2183.0 1216.6L2183.3 1308.7L2183.5 1400.5L2183.8 1471.9L2184.1 1526.9L2184.4 1559.7L2184.7 1580.3L2185.0 1584.8L2185.2 1570.6L2185.5 1515.6L2185.8 1361.0L2186.1 1216.4L2186.4 1161.2L2186.7 1131.8L2186.9 1136.1L2187.2 1144.4L2187.5 1126.0L2187.8 1163.9L2188.1 1169.6L2188.3 1141.5L2188.6 1126.7L2188.9 1117.3L2189.2 1139.8L2189.5 1187.0L2189.8 1262.7L2190.0 1365.1L2190.3 1466.5L2190.6 1545.3L2190.9 1608.7L2191.2 1645.1L2191.4 1667.1L2191.7 1676.2L2192.0 1659.3L2192.3 1585.1L2192.6 1446.6L2192.9 1304.9L2193.1 1263.9L2193.4 1201.7L2193.7 1213.1L2194.0 1230.4L2194.3 1230.5L2194.6 1263.3L2194.8 1265.7L2195.1 1266.4L2195.4 1167.5L2195.7 1132.3L2196.0 1161.2L2196.2 1211.0L2196.5 1296.6L2196.8 1375.4L2197.1 1462.3L2197.4 1529.5L2197.7 1596.4L2197.9 1634.2L2198.2 1653.3L2198.5 1661.9L2198.8 1641.2L2199.1 1570.4L2199.4 1427.6L2199.6 1298.7L2199.9 1237.0L2200.2 1167.0L2200.5 1168.2L2200.8 1188.3L2201.0 1218.2L2201.3 1246.8L2201.6 1247.0L2201.9 1231.2L2202.2 1137.2L2202.5 1102.3L2202.7 1126.6L2203.0 1180.6L2203.3 1250.3L2203.6 1328.5L2203.9 1405.1L2204.2 1470.8L2204.4 1529.4L2204.7 1567.5L2205.0 1583.0L2205.3 1587.7L2205.6 1574.2L2205.8 1507.9L2206.1 1369.2L2206.4 1223.7L2206.7 1159.3L2207.0 1136.5L2207.3 1124.8L2207.5 1115.7L2207.8 1131.4L2208.1 1137.5L2208.4 1149.6L2208.7 1120.8L2208.9 1099.4L2209.2 1083.3L2209.5 1095.8L2209.8 1138.7L2210.1 1207.3L2210.4 1303.0L2210.6 1393.0L2210.9 1465.4L2211.2 1516.1L2211.5 1545.5L2211.8 1564.7L2212.1 1566.2L2212.3 1555.1L2212.6 1500.9L2212.9 1365.2L2213.2 1240.0L2213.5 1143.3L2213.7 1131.3L2214.0 1121.7L2214.3 1133.7L2214.6 1165.2L2214.9 1173.5L2215.2 1172.5L2215.4 1150.2L2215.7 1128.5L2216.0 1117.3L2216.3 1136.1L2216.6 1168.1L2216.9 1233.1L2217.1 1314.3L2217.4 1399.7L2217.7 1467.3L2218.0 1511.8L2218.3 1542.1L2218.5 1555.7L2218.8 1560.5L2219.1 1548.3L2219.4 1493.1L2219.7 1355.7L2220.0 1221.1L2220.2 1146.4L2220.5 1112.0L2220.8 1116.2L2221.1 1107.5L2221.4 1120.9L2221.7 1141.8L2221.9 1150.0L2222.2 1122.4L2222.5 1108.1L2222.8 1095.3L2223.1 1107.7L2223.3 1144.3L2223.6 1219.1L2223.9 1300.2L2224.2 1389.7L2224.5 1457.5L2224.8 1504.6L2225.0 1534.3L2225.3 1546.8L2225.6 1554.8L2225.9 1536.9L2226.2 1484.7L2226.4 1347.5L2226.7 1212.9L2227.0 1148.0L2227.3 1105.8L2227.6 1121.1L2227.9 1116.9L2228.1 1147.2L2228.4 1155.8L2228.7 1157.1L2229.0 1151.5L2229.3 1106.3L2229.6 1095.3L2229.8 1112.9L2230.1 1149.7L2230.4 1215.8L2230.7 1305.4L2231.0 1389.4L2231.2 1456.2L2231.5 1504.2"/>
<path stroke="#f00" stroke-width="4.7" stroke-dasharray="10.3 19.7" d="M376.6 1494.6L376.9 1358.5L377.1 1168.1L377.4 991.1L377.7 934.8L378.0 855.6L378.3 837.2L378.6 879.7L378.8 909.0L379.1 943.8L379.4 961.5L379.7 943.2L380.0 805.2L380.3 709.7L380.5 754.4L380.8 844.7L381.1 955.1L381.4 1055.0L381.7 1157.4L381.9 1251.7L382.2 1338.0L382.5 1395.9L382.8 1427.3L383.1 1440.3L383.4 1415.9L383.6 1324.1L383.9 1153.8L384.2 987.4L384.5 969.7L384.8 908.5L385.0 896.9L385.3 939.5L385.6 982.4L385.9 1008.3L386.2 1023.4L386.5 1019.7L386.7 842.5L387.0 754.7L387.3 797.1L387.6 879.8L387.9 980.5L388.2 1075.7L388.4 1167.2L388.7 1260.4L389.0 1341.6L389.3 1389.4L389.6 1421.0L389.8 1432.3L390.1 1407.0L390.4 1322.2L390.7 1162.6L391.0 1002.6L391.3 977.5L391.5 901.2L391.8 908.1L392.1 942.0L392.4 982.1L392.7 1018.1L393.0 1053.5L393.2 1029.9L393.5 868.1L393.8 787.0L394.1 824.8L394.4 905.0L394.6 1007.0L394.9 1095.2L395.2 1193.6L395.5 1274.4L395.8 1358.9L396.1 1407.3L396.3 1439.4L396.6 1449.6L396.9 1424.5L397.2 1340.8L397.5 1176.0L397.8 1016.1L398.0 978.4L398.3 920.8L398.6 925.6L398.9 952.5L399.2 987.1L399.4 1039.4L399.7 1064.9L400.0 1050.7L400.3 884.5L400.6 805.4L400.9 848.4L401.1 923.7L401.4 1029.1L401.7 1120.1L402.0 1213.7L402.3 1306.3L402.5 1381.0L402.8 1438.6L403.1 1469.0L403.4 1480.7L403.7 1463.4L404.0 1392.8L404.2 1266.3L404.5 1137.1L404.8 1135.5L405.1 1079.5L405.4 1086.7L405.7 1098.6L405.9 1150.5L406.2 1154.3L406.5 1192.1L406.8 1159.9L407.1 1030.4L407.3 968.0L407.6 1001.8L407.9 1058.9L408.2 1136.9L408.5 1213.6L408.8 1283.8L409.0 1348.5L409.3 1418.4L409.6 1453.3L409.9 1473.3L410.2 1487.7L410.5 1470.7L410.7 1399.1L411.0 1271.0L411.3 1143.9L411.6 1141.0L411.9 1097.9L412.1 1094.2L412.4 1126.8L412.7 1136.4L413.0 1167.6L413.3 1187.1L413.6 1167.9L413.8 1051.7L414.1 836.4L414.4 1025.2L414.7 1088.1L415.0 1167.9L415.3 1246.9L415.5 1326.5L415.8 1391.5L416.1 1460.8L416.4 1503.7L416.7 1528.1L416.9 1540.7L417.2 1517.2L417.5 1449.6L417.8 1312.7L418.1 1179.5L418.4 1187.9L418.6 1123.7L418.9 1116.4L419.2 1143.1L419.5 1124.1L419.8 1149.7L420.0 1184.5L420.3 1165.2L420.6 1071.5L420.9 879.4L421.2 1036.1L421.5 1101.7L421.7 1177.0L422.0 1254.7L422.3 1329.2L422.6 1402.4L422.9 1467.9L423.2 1512.7L423.4 1533.8L423.7 1543.0L424.0 1510.7L424.3 1410.0L424.6 1228.3L424.8 1056.6L425.1 1039.8L425.4 979.3L425.7 956.5L426.0 984.5L426.3 1007.1L426.5 1039.7L426.8 1063.7L427.1 1045.5L427.4 867.0L427.7 774.3L428.0 811.3L428.2 895.1L428.5 994.2L428.8 1095.1L429.1 1190.9L429.4 1277.3L429.6 1356.2L429.9 1409.5L430.2 1434.4L430.5 1443.8L430.8 1410.5L431.1 1302.5L431.3 1100.8L431.6 913.4L431.9 918.1L432.2 840.4L432.5 840.6L432.8 871.5L433.0 874.2L433.3 929.2L433.6 944.9L433.9 910.9L434.2 727.0L434.4 624.3L434.7 667.4L435.0 763.3L435.3 885.7L435.6 994.6L435.9 1099.5L436.1 1205.2L436.4 1299.1L436.7 1362.0L437.0 1390.1L437.3 1406.9L437.5 1375.6L437.8 1281.0L438.1 1102.2L438.4 919.5L438.7 900.3L439.0 813.3L439.2 814.9L439.5 846.9L439.8 928.9L440.1 972.2L440.4 992.7L440.7 963.9L440.9 760.3L441.2 671.6L441.5 711.9L441.8 805.7L442.1 913.5L442.3 1018.3L442.6 1118.4L442.9 1208.0L443.2 1300.6L443.5 1359.9L443.8 1388.5L444.0 1401.1L444.3 1371.0L444.6 1278.8L444.9 1093.1L445.2 920.8L445.5 897.6L445.7 835.9L446.0 824.2L446.3 862.4L446.6 907.5L446.9 929.8L447.1 956.2L447.4 939.8L447.7 755.1L448.0 665.8L448.3 707.7L448.6 795.5L448.8 904.8L449.1 1002.4L449.4 1104.5L449.7 1191.8L450.0 1279.6L450.2 1341.6L450.5 1362.8L450.8 1379.2L451.1 1351.2L451.4 1274.5L451.7 1114.1L451.9 956.8L452.2 933.9L452.5 874.3L452.8 867.5L453.1 911.9L453.4 974.2L453.6 1002.2L453.9 1031.5L454.2 1003.5L454.5 828.0L454.8 747.7L455.0 791.6L455.3 869.3L455.6 962.8L455.9 1058.4L456.2 1152.2L456.5 1234.3L456.7 1318.7L457.0 1368.5L457.3 1397.7L457.6 1410.3L457.9 1387.2L458.2 1296.4L458.4 1118.5L458.7 953.6L459.0 931.4L459.3 877.0L459.6 879.8L459.8 901.5L460.1 898.9L460.4 936.8L460.7 966.3L461.0 955.4L461.3 832.3L461.5 743.1L461.8 790.4L462.1 876.7L462.4 990.1L462.7 1087.4L463.0 1193.1L463.2 1287.7L463.5 1376.7L463.8 1437.2L464.1 1463.6L464.4 1483.0L464.6 1452.7L464.9 1357.4L465.2 1168.6L465.5 984.9L465.8 954.7L466.1 884.9L466.3 879.4L466.6 908.4L466.9 964.5L467.2 979.8L467.5 1029.3L467.7 999.9L468.0 811.6L468.3 716.6L468.6 761.7L468.9 847.6L469.2 949.5L469.4 1055.9L469.7 1156.3L470.0 1245.2L470.3 1335.6L470.6 1390.9L470.9 1415.0L471.1 1430.0L471.4 1395.7L471.7 1289.1L472.0 1088.8L472.3 900.4L472.5 848.0L472.8 759.8L473.1 766.4L473.4 780.0L473.7 870.9L474.0 917.5L474.2 953.2L474.5 921.5L474.8 698.8L475.1 595.4L475.4 638.1L475.7 729.2L475.9 839.5L476.2 944.1L476.5 1051.1L476.8 1144.7L477.1 1234.7L477.3 1298.5L477.6 1321.1L477.9 1335.3L478.2 1303.7L478.5 1205.5L478.8 1013.3L479.0 828.6L479.3 774.4L479.6 697.9L479.9 695.4L480.2 736.0L480.5 763.5L480.7 795.3L481.0 839.3L481.3 826.0L481.6 658.6L481.9 563.1L482.1 609.8L482.4 701.2L482.7 817.5L483.0 929.0L483.3 1032.6L483.6 1135.8L483.8 1227.1L484.1 1289.3L484.4 1323.2L484.7 1335.3L485.0 1301.4L485.2 1199.9L485.5 1001.2L485.8 808.1L486.1 813.7L486.4 744.1L486.7 717.7L486.9 770.1L487.2 738.9L487.5 781.6L487.8 820.8L488.1 795.1L488.4 632.0L488.6 530.8L488.9 576.7L489.2 671.3L489.5 792.3L489.8 901.7L490.0 1013.3L490.3 1122.0L490.6 1210.5L490.9 1279.4L491.2 1307.4L491.5 1323.8L491.7 1289.8L492.0 1193.4L492.3 999.7L492.6 818.2L492.9 801.1L493.2 739.0L493.4 732.0L493.7 758.8L494.0 808.1L494.3 853.3L494.6 869.5L494.8 841.1L495.1 652.1L495.4 558.5L495.7 601.9L496.0 697.7L496.3 810.0L496.5 917.0L496.8 1027.7L497.1 1122.7L497.4 1219.1L497.7 1278.9L497.9 1307.7L498.2 1323.8L498.5 1302.3L498.8 1217.3L499.1 1047.5L499.4 889.4L499.6 859.0L499.9 789.0L500.2 784.9L500.5 824.0L500.8 896.6L501.1 928.5L501.3 963.4L501.6 929.2L501.9 766.1L502.2 683.1L502.5 727.5L502.7 808.7L503.0 912.8L503.3 1008.1L503.6 1111.4L503.9 1197.0L504.2 1281.5L504.4 1341.4L504.7 1365.3L505.0 1383.8L505.3 1355.4L505.6 1269.3L505.9 1095.2L506.1 932.7L506.4 888.3L506.7 818.0L507.0 806.9L507.3 848.9L507.5 945.7L507.8 999.4L508.1 1021.1L508.4 1001.1L508.7 812.0L509.0 725.8L509.2 769.6L509.5 860.2L509.8 975.7L510.1 1072.5L510.4 1176.4L510.7 1273.3L510.9 1362.9L511.2 1425.1L511.5 1456.0L511.8 1476.1L512.1 1441.2L512.3 1340.5L512.6 1140.3L512.9 950.4L513.2 945.3L513.5 848.3L513.8 841.1L514.0 896.0L514.3 935.5L514.6 981.8L514.9 996.5L515.2 980.9L515.4 772.9L515.7 670.4L516.0 715.0L516.3 811.5L516.6 926.9L516.9 1034.0L517.1 1147.6L517.4 1243.8L517.7 1337.5L518.0 1400.2L518.3 1427.9L518.6 1443.8L518.8 1409.6L519.1 1302.1L519.4 1102.3L519.7 907.0L520.0 857.3L520.2 765.0L520.5 753.1L520.8 793.2L521.1 836.7L521.4 875.6L521.7 926.2L521.9 878.5L522.2 708.9L522.5 602.4L522.8 649.1L523.1 744.5L523.4 855.4L523.6 966.8L523.9 1080.3L524.2 1175.5L524.5 1269.8L524.8 1333.1L525.0 1361.0L525.3 1376.9L525.6 1341.9L525.9 1246.3L526.2 1046.3L526.5 851.9L526.7 869.2L527.0 774.4L527.3 772.2L527.6 813.4L527.9 798.7L528.2 846.8L528.4 867.7L528.7 847.3L529.0 688.3L529.3 586.2L529.6 636.0L529.8 728.3L530.1 847.8L530.4 959.8L530.7 1064.3L531.0 1169.7L531.3 1261.4L531.5 1324.3L531.8 1355.7L532.1 1374.6L532.4 1342.6L532.7 1245.5L532.9 1057.5L533.2 876.9L533.5 883.7L533.8 803.8L534.1 792.0L534.4 840.8L534.6 880.7L534.9 918.4L535.2 966.9L535.5 940.3L535.8 715.4L536.1 623.1L536.3 668.8L536.6 760.7L536.9 877.1L537.2 984.9L537.5 1092.4L537.7 1195.7L538.0 1288.3L538.3 1348.3L538.6 1379.0L538.9 1395.3L539.2 1372.5L539.4 1275.6L539.7 1103.2L540.0 934.0L540.3 931.9L540.6 847.4L540.9 854.5L541.1 883.3L541.4 882.4L541.7 928.9L542.0 960.6L542.3 940.5L542.5 796.6L542.8 707.4L543.1 753.3L543.4 838.6L543.7 943.6L544.0 1050.7L544.2 1152.4L544.5 1246.7L544.8 1331.8L545.1 1386.0L545.4 1417.4L545.6 1435.7L545.9 1410.9L546.2 1325.1L546.5 1171.2L546.8 1017.7L547.1 1029.9L547.3 955.8L547.6 945.7L547.9 976.4L548.2 988.2L548.5 1017.9L548.8 1033.9L549.0 1030.2L549.3 881.1L549.6 800.8L549.9 839.2L550.2 916.8L550.4 1016.1L550.7 1104.5L551.0 1196.5L551.3 1276.3L551.6 1358.5L551.9 1407.0L552.1 1438.3L552.4 1448.4L552.7 1422.6L553.0 1330.1L553.3 1153.1L553.6 985.4L553.8 976.6L554.1 920.7L554.4 914.4L554.7 955.6L555.0 980.2L555.2 1019.4L555.5 1048.5L555.8 1032.6L556.1 849.6L556.4 763.9L556.7 807.6L556.9 899.5L557.2 1008.6L557.5 1114.9L557.8 1219.8L558.1 1314.5L558.4 1403.0L558.6 1467.2L558.9 1501.0L559.2 1515.3L559.5 1488.5L559.8 1400.5L560.0 1226.9L560.3 1058.7L560.6 1051.0L560.9 996.9L561.2 976.5L561.5 1003.2L561.7 1028.8L562.0 1046.3L562.3 1075.8L562.6 1054.7L562.9 904.8L563.1 820.4L563.4 862.7L563.7 941.2L564.0 1044.1L564.3 1139.3L564.6 1237.9L564.8 1319.8L565.1 1405.9L565.4 1456.5L565.7 1483.4L566.0 1499.2L566.3 1467.3L566.5 1380.1L566.8 1207.4L567.1 1036.9L567.4 1006.7L567.7 943.7L567.9 939.1L568.2 955.3L568.5 1011.4L568.8 1062.0L569.1 1088.7L569.4 1049.9L569.6 883.4L569.9 793.9L570.2 838.5L570.5 919.8L570.8 1025.3L571.1 1121.5L571.3 1216.8L571.6 1307.2L571.9 1389.6L572.2 1450.1L572.5 1473.5L572.7 1490.0L573.0 1458.1L573.3 1366.2L573.6 1179.0L573.9 1004.4L574.2 968.7L574.4 890.2L574.7 880.6L575.0 921.4L575.3 979.8L575.6 995.7L575.9 1042.5L576.1 1011.8L576.4 822.9L576.7 733.9L577.0 776.1L577.3 857.5L577.5 963.7L577.8 1058.6L578.1 1160.0L578.4 1251.1L578.7 1336.9L579.0 1390.3L579.2 1417.5L579.5 1427.7L579.8 1390.5L580.1 1287.0L580.4 1078.9L580.6 881.8L580.9 836.0L581.2 758.7L581.5 751.8L581.8 792.8L582.1 886.9L582.3 907.0L582.6 950.1L582.9 913.6L583.2 704.4L583.5 600.0L583.8 648.0L584.0 743.3L584.3 866.9L584.6 983.7L584.9 1096.2L585.2 1205.8L585.4 1298.7L585.7 1363.5L586.0 1400.3L586.3 1412.7L586.6 1384.7L586.9 1283.2L587.1 1099.0L587.4 915.2L587.7 889.1L588.0 815.8L588.3 799.0L588.6 847.8L588.8 906.7L589.1 952.0L589.4 994.2L589.7 951.7L590.0 752.6L590.2 657.7L590.5 707.1L590.8 795.6L591.1 910.1L591.4 1009.7L591.7 1119.2L591.9 1218.0L592.2 1307.4L592.5 1367.7L592.8 1401.0L593.1 1413.8L593.4 1387.3L593.6 1298.2L593.9 1118.8L594.2 946.5L594.5 941.0L594.8 885.2L595.0 858.7L595.3 901.1L595.6 966.6L595.9 1006.6L596.2 1025.0L596.5 1017.1L596.7 799.1L597.0 715.4L597.3 760.8L597.6 844.4L597.9 955.1L598.1 1057.0L598.4 1157.7L598.7 1255.9L599.0 1344.4L599.3 1401.7L599.6 1434.9L599.8 1449.6L600.1 1424.4L600.4 1335.9L600.7 1169.5L601.0 999.7L601.3 1008.6L601.5 942.5L601.8 935.8L602.1 987.0L602.4 981.8L602.7 1017.3L602.9 1045.3L603.2 1026.8L603.5 875.7L603.8 790.4L604.1 836.5L604.4 920.5L604.6 1022.5L604.9 1124.9L605.2 1220.1L605.5 1314.0L605.8 1396.5L606.1 1459.5L606.3 1491.6L606.6 1503.8L606.9 1469.7L607.2 1369.9L607.5 1176.4L607.7 990.2L608.0 943.0L608.3 863.5L608.6 867.2L608.9 909.1L609.2 947.2L609.4 979.4L609.7 994.5L610.0 976.6L610.3 812.1L610.6 715.4L610.8 763.9L611.1 851.4L611.4 965.5L611.7 1072.7L612.0 1175.4L612.3 1277.7L612.5 1365.8L612.8 1429.8L613.1 1456.1L613.4 1470.3L613.7 1434.9L614.0 1326.7L614.2 1127.1L614.5 930.1L614.8 876.0L615.1 794.4L615.4 792.0L615.6 824.5L615.9 866.1L616.2 909.5L616.5 917.5L616.8 901.3L617.1 718.5L617.3 618.5L617.6 662.3L617.9 758.4L618.2 874.4L618.5 977.8L618.8 1087.6L619.0 1188.9L619.3 1280.3L619.6 1337.8L619.9 1369.4L620.2 1379.2L620.4 1348.6L620.7 1247.1L621.0 1051.2L621.3 865.7L621.6 854.1L621.9 771.6L622.1 753.2L622.4 802.9L622.7 853.3L623.0 887.0L623.3 922.6L623.6 901.7L623.8 688.4L624.1 593.1L624.4 639.8L624.7 731.4L625.0 844.0L625.2 948.2L625.5 1058.6L625.8 1155.2L626.1 1253.5L626.4 1309.6L626.7 1341.4L626.9 1355.0L627.2 1325.7L627.5 1218.5L627.8 1018.4L628.1 832.4L628.3 773.8L628.6 706.8L628.9 687.2L629.2 718.1L629.5 804.5L629.8 844.1L630.0 886.5L630.3 867.8L630.6 648.8L630.9 559.7L631.2 605.5L631.5 701.3L631.7 823.1L632.0 934.2L632.3 1043.9L632.6 1144.6L632.9 1238.7L633.1 1298.9L633.4 1333.4L633.7 1348.0L634.0 1320.4L634.3 1221.2L634.6 1036.2L634.8 855.3L635.1 838.4L635.4 769.0L635.7 762.7L636.0 791.4L636.3 835.2L636.5 875.1L636.8 885.1L637.1 863.7L637.4 686.7L637.7 597.7L637.9 643.6L638.2 728.2L638.5 842.0L638.8 942.7L639.1 1051.2L639.4 1145.0L639.6 1233.0L639.9 1289.1L640.2 1320.3L640.5 1335.3L640.8 1306.1L641.1 1212.6L641.3 1033.7L641.6 859.9L641.9 831.9L642.2 755.1L642.5 755.0L642.7 779.6L643.0 832.1L643.3 884.3L643.6 900.4L643.9 883.1L644.2 719.0L644.4 634.7L644.7 680.0L645.0 772.4L645.3 888.9L645.6 999.7L645.8 1100.5L646.1 1207.3L646.4 1295.2L646.7 1360.0L647.0 1392.1L647.3 1410.3L647.5 1380.5L647.8 1290.1L648.1 1104.3L648.4 922.0L648.7 924.8L649.0 830.6L649.2 828.1L649.5 877.2L649.8 838.1L650.1 896.7L650.4 923.4L650.6 910.3L650.9 776.9L651.2 695.8L651.5 740.7L651.8 841.7L652.1 953.1L652.3 1064.0L652.6 1171.0L652.9 1276.4L653.2 1369.5L653.5 1431.2L653.8 1463.4L654.0 1485.3L654.3 1449.9L654.6 1348.0L654.9 1155.8L655.2 968.3L655.4 942.3L655.7 859.3L656.0 854.7L656.3 875.0L656.6 891.5L656.9 907.1L657.1 938.5L657.4 913.1L657.7 777.4L658.0 686.6L658.3 731.4L658.5 825.9L658.8 940.8L659.1 1047.3L659.4 1151.3L659.7 1248.2L660.0 1344.2L660.2 1402.7L660.5 1427.6L660.8 1443.8L661.1 1402.4L661.4 1295.2L661.7 1084.2L661.9 882.0L662.2 828.3L662.5 726.2L662.8 727.9L663.1 770.8L663.3 852.6L663.6 884.9L663.9 909.2L664.2 874.3L664.5 650.5L664.8 553.1L665.0 602.1L665.3 690.4L665.6 815.9L665.9 928.1L666.2 1035.4L666.5 1142.6L666.7 1232.1L667.0 1295.2L667.3 1326.0L667.6 1337.7L667.9 1301.7L668.1 1201.7L668.4 993.2L668.7 797.5L669.0 708.1L669.3 628.6L669.6 614.8L669.8 658.7L670.1 733.9L670.4 774.8L670.7 814.0L671.0 793.9L671.3 607.3L671.5 518.5L671.8 571.7L672.1 668.7L672.4 790.1L672.7 904.5L672.9 1026.4L673.2 1131.4L673.5 1225.7L673.8 1297.1L674.1 1327.9L674.4 1345.7L674.6 1309.3L674.9 1198.1L675.2 985.5L675.5 782.2L675.8 722.1L676.0 654.3L676.3 643.1L676.6 673.3L676.9 693.9L677.2 736.1L677.5 772.8L677.7 743.1L678.0 580.3L678.3 488.5L678.6 540.3L678.9 641.6L679.2 772.5L679.4 892.7L679.7 1010.9L680.0 1123.9L680.3 1228.1L680.6 1297.5L680.8 1333.5L681.1 1350.3L681.4 1317.8L681.7 1210.2L682.0 1006.4L682.3 810.9L682.5 751.6L682.8 669.4L683.1 658.2L683.4 682.2L683.7 764.9L684.0 803.7L684.2 840.1L684.5 818.2L684.8 616.0L685.1 532.4L685.4 579.7L685.6 678.3L685.9 800.2L686.2 907.7L686.5 1018.9L686.8 1129.8L687.1 1223.0L687.3 1286.5L687.6 1317.0L687.9 1335.3L688.2 1303.3L688.5 1200.9L688.8 1004.9L689.0 817.1L689.3 776.5L689.6 700.9L689.9 696.4L690.2 746.9L690.4 790.9L690.7 838.1L691.0 852.5L691.3 845.5L691.6 642.8L691.9 561.2L692.1 611.7L692.4 709.2L692.7 831.6L693.0 943.5L693.3 1055.4L693.5 1160.8L693.8 1266.1L694.1 1331.7L694.4 1362.1L694.7 1380.3L695.0 1352.4L695.2 1252.3L695.5 1057.8L695.8 866.1L696.1 843.2L696.4 781.6L696.7 775.7L696.9 825.7L697.2 791.3L697.5 848.2L697.8 882.2L698.1 853.1L698.3 720.5L698.6 637.4L698.9 686.7L699.2 785.9L699.5 915.8L699.8 1026.4L700.0 1145.4L700.3 1255.1L700.6 1354.7L700.9 1419.0L701.2 1459.5L701.5 1477.3L701.7 1445.8L702.0 1335.0L702.3 1127.4L702.6 935.4L702.9 913.5L703.1 831.5L703.4 823.8L703.7 863.4L704.0 850.1L704.3 894.7L704.6 917.5L704.8 885.1L705.1 718.9L705.4 633.9L705.7 678.8L706.0 772.6L706.3 897.4L706.5 1007.6L706.8 1123.6L707.1 1220.6L707.4 1322.1L707.7 1380.5L707.9 1412.0L708.2 1427.7L708.5 1388.0L708.8 1260.9L709.1 1019.8L709.4 789.3L709.6 736.1L709.9 653.3L710.2 628.0L710.5 677.6L710.8 655.2L711.0 679.3L711.3 720.4L711.6 691.3L711.9 539.1L712.2 441.2L712.5 493.7L712.7 606.1L713.0 740.0L713.3 873.3L713.6 999.0L713.9 1121.3L714.2 1227.4L714.4 1304.7L714.7 1336.3L715.0 1352.7L715.3 1318.9L715.6 1205.5L715.8 999.9L716.1 804.6L716.4 712.1L716.7 630.6L717.0 614.4L717.3 665.7L717.5 686.2L717.8 719.4L718.1 750.8L718.4 713.0L718.7 588.5L719.0 507.0L719.2 553.1L719.5 655.5L719.8 779.7L720.1 893.9L720.4 1009.7L720.6 1109.4L720.9 1207.6L721.2 1274.5L721.5 1304.6L721.8 1323.8L722.1 1294.0L722.3 1180.2L722.6 978.2L722.9 780.0L723.2 710.0L723.5 621.5L723.7 609.0L724.0 665.9L724.3 672.2L724.6 709.0L724.9 737.9L725.2 700.8L725.4 579.0L725.7 497.7L726.0 545.2L726.3 644.4L726.6 768.1L726.9 887.3L727.1 1003.1L727.4 1106.4L727.7 1211.4L728.0 1270.2L728.3 1310.9L728.5 1323.8L728.8 1290.1L729.1 1189.6L729.4 991.5L729.7 794.5L730.0 716.5L730.2 652.4L730.5 631.5L730.8 667.9L731.1 709.8L731.4 742.4L731.7 775.0L731.9 752.8L732.2 601.4L732.5 525.4L732.8 575.9L733.1 669.7L733.3 790.1L733.6 899.0L733.9 1014.6L734.2 1119.9L734.5 1216.0L734.8 1272.2L735.0 1306.3L735.3 1323.8L735.6 1299.2L735.9 1210.6L736.2 1037.0L736.5 877.3L736.7 848.9L737.0 790.4L737.3 771.7L737.6 813.6L737.9 810.7L738.1 857.8L738.4 890.1L738.7 861.3L739.0 724.1L739.3 657.0L739.6 697.6L739.8 785.4L740.1 892.5L740.4 990.6L740.7 1087.0L741.0 1179.4L741.2 1266.1L741.5 1325.7L741.8 1353.6L742.1 1370.0L742.4 1340.9L742.7 1241.7L742.9 1053.6L743.2 868.8L743.5 824.8L743.8 742.6L744.1 760.4L744.4 782.4L744.6 818.7L744.9 865.9L745.2 912.8L745.5 896.6L745.8 715.0L746.0 640.8L746.3 689.1L746.6 791.7L746.9 906.3L747.2 1020.1L747.5 1133.3L747.7 1242.2L748.0 1340.0L748.3 1406.6L748.6 1444.2L748.9 1460.0L749.2 1422.9L749.4 1320.3L749.7 1113.0L750.0 913.3L750.3 805.6L750.6 736.9L750.8 722.5L751.1 762.5L751.4 792.4L751.7 844.1L752.0 876.3L752.3 849.2L752.5 694.3L752.8 615.4L753.1 665.2L753.4 757.2L753.7 883.8L754.0 992.3L754.2 1105.8L754.5 1212.0L754.8 1313.7L755.1 1380.6L755.4 1407.9L755.6 1423.0L755.9 1387.0L756.2 1271.5L756.5 1049.8L756.8 834.2L757.1 730.2L757.3 659.3L757.6 631.7L757.9 682.4L758.2 727.6L758.5 750.0L758.7 781.1L759.0 756.5L759.3 588.8L759.6 500.0L759.9 550.6L760.2 651.4L760.4 771.3L760.7 891.1L761.0 1010.1L761.3 1114.4L761.6 1215.8L761.9 1278.0L762.1 1313.5L762.4 1323.8L762.7 1292.5L763.0 1183.6L763.3 983.3L763.5 784.4L763.8 711.8L764.1 637.3L764.4 627.8L764.7 669.9L765.0 711.5L765.2 751.0L765.5 774.2L765.8 755.5L766.1 587.3L766.4 508.1L766.7 553.8L766.9 656.9L767.2 778.6L767.5 892.2L767.8 1004.6L768.1 1112.4L768.3 1214.4L768.6 1281.0L768.9 1314.7L769.2 1327.3L769.5 1296.6L769.8 1182.5L770.0 977.3L770.3 777.7L770.6 679.7L770.9 584.7L771.2 586.7L771.5 621.4L771.7 647.7L772.0 697.0L772.3 729.5L772.6 691.6L772.9 570.3L773.1 492.0L773.4 539.0L773.7 641.1L774.0 772.0L774.3 890.4L774.6 1002.8L774.8 1116.1L775.1 1212.4L775.4 1282.2L775.7 1314.8L776.0 1333.0L776.2 1300.0L776.5 1192.5L776.8 974.9L777.1 773.2L777.4 715.9L777.7 636.4L777.9 629.7L778.2 685.9L778.5 703.1L778.8 728.5L779.1 769.3L779.4 745.3L779.6 567.6L779.9 490.8L780.2 545.8L780.5 648.0L780.8 768.4L781.0 890.5L781.3 1010.7L781.6 1122.3L781.9 1223.6L782.2 1294.2L782.5 1322.8L782.7 1343.4L783.0 1313.3L783.3 1219.9L783.6 1041.9L783.9 864.0L784.2 799.3L784.4 717.7L784.7 713.8L785.0 755.8L785.3 773.2L785.6 807.7L785.8 838.8L786.1 819.1L786.4 699.5L786.7 636.2L787.0 685.9L787.3 772.7L787.5 884.9L787.8 985.0L788.1 1091.0L788.4 1190.9L788.7 1283.8L788.9 1342.3L789.2 1368.3L789.5 1388.4L789.8 1360.2L790.1 1256.4L790.4 1059.2L790.6 876.7L790.9 773.0L791.2 699.1L791.5 696.4L791.8 736.5L792.1 826.9L792.3 867.3L792.6 907.0L792.9 879.2L793.2 699.6L793.5 632.7L793.7 685.9L794.0 780.5L794.3 905.9L794.6 1019.9L794.9 1132.5L795.2 1241.4L795.4 1336.2L795.7 1400.1L796.0 1441.6L796.3 1457.7L796.6 1426.2L796.9 1312.1L797.1 1102.3L797.4 902.1L797.7 804.5L798.0 705.4L798.3 707.0L798.5 752.0L798.8 772.3L799.1 806.8L799.4 842.1L799.7 827.2L800.0 677.0L800.2 602.7L800.5 654.9L800.8 746.6L801.1 876.7L801.4 987.6L801.7 1107.4L801.9 1209.7L802.2 1306.5L802.5 1376.2L802.8 1405.1L803.1 1421.9L803.3 1381.0L803.6 1267.5L803.9 1050.9L804.2 844.1L804.5 709.1L804.8 626.5L805.0 611.9L805.3 650.9L805.6 691.9L805.9 726.3L806.2 754.1L806.4 723.8L806.7 588.5L807.0 503.1L807.3 549.1L807.6 642.5L807.9 767.0L808.1 883.7L808.4 996.7L808.7 1097.1L809.0 1196.4L809.3 1259.6L809.6 1291.6L809.8 1300.7L810.1 1268.2L810.4 1148.4L810.7 934.0L811.0 724.8L811.2 660.6L811.5 579.5L811.8 554.2L812.1 612.8L812.4 572.7L812.7 636.1L812.9 657.1L813.2 625.2L813.5 508.1L813.8 427.0L814.1 483.0L814.4 585.1L814.6 716.8L814.9 835.8L815.2 956.6L815.5 1073.3L815.8 1179.0L816.0 1244.4L816.3 1280.1L816.6 1298.4L816.9 1264.8L817.2 1139.8L817.5 913.1L817.7 696.7L818.0 635.9L818.3 539.8L818.6 535.0L818.9 578.5L819.2 633.0L819.4 670.7L819.7 693.1L820.0 667.6L820.3 469.3L820.6 388.2L820.8 439.2L821.1 549.2L821.4 684.6L821.7 816.8L822.0 943.2L822.3 1058.4L822.5 1164.9L822.8 1237.0L823.1 1270.2L823.4 1291.5L823.7 1252.1L823.9 1129.5L824.2 887.5L824.5 660.8L824.8 574.7L825.1 480.6L825.4 457.7L825.6 498.8L825.9 596.2L826.2 632.4L826.5 663.2L826.8 642.9L827.1 409.6L827.3 319.7L827.6 378.7L827.9 485.8L828.2 625.3L828.5 756.1L828.7 887.4L829.0 1008.2L829.3 1125.8L829.6 1197.6L829.9 1229.1L830.2 1250.0L830.4 1222.7L830.7 1110.4L831.0 905.2L831.3 700.1L831.6 647.6L831.9 583.7L832.1 557.3L832.4 612.7L832.7 656.3L833.0 696.9L833.3 743.7L833.5 723.6L833.8 514.3L834.1 443.1L834.4 495.3L834.7 601.3L835.0 731.2L835.2 853.9L835.5 976.5L835.8 1086.1L836.1 1195.4L836.4 1262.2L836.6 1295.6L836.9 1319.2L837.2 1282.3L837.5 1167.3L837.8 929.4L838.1 702.7L838.3 613.0L838.6 517.5L838.9 515.4L839.2 576.0L839.5 618.0L839.8 670.0L840.0 696.7L840.3 689.8L840.6 500.4L840.9 416.6L841.2 479.5L841.4 597.3L841.7 747.7L842.0 886.7L842.3 1021.9L842.6 1149.3L842.9 1269.1L843.1 1351.9L843.4 1393.2L843.7 1415.0L844.0 1375.8L844.3 1246.7L844.6 1008.4L844.8 772.4L845.1 653.2L845.4 560.4L845.7 553.6L846.0 589.5L846.2 693.4L846.5 723.5L846.8 755.6L847.1 738.1L847.4 520.5L847.7 433.9L847.9 488.8L848.2 603.7L848.5 746.9L848.8 880.1L849.1 1008.1L849.4 1133.0L849.6 1246.6L849.9 1322.0L850.2 1357.8L850.5 1374.6L850.8 1327.7L851.0 1203.7L851.3 952.3L851.6 715.7L851.9 624.6L852.2 518.3L852.5 501.6L852.7 539.4L853.0 543.6L853.3 593.0L853.6 623.3L853.9 604.4L854.1 435.2L854.4 346.2L854.7 399.1L855.0 511.3L855.3 654.6L855.6 786.8L855.8 916.6L856.1 1034.9L856.4 1146.2L856.7 1222.8L857.0 1255.7L857.3 1271.9L857.5 1232.8L857.8 1102.3L858.1 857.7L858.4 622.5L858.7 510.6L858.9 405.9L859.2 395.3L859.5 448.8L859.8 530.8L860.1 589.8L860.4 621.5L860.6 588.5L860.9 368.6L861.2 277.0L861.5 331.2L861.8 446.9L862.1 590.5L862.3 721.8L862.6 857.0L862.9 978.6L863.2 1096.9L863.5 1173.5L863.7 1213.4L864.0 1226.9L864.3 1194.0L864.6 1068.1L864.9 839.6L865.2 623.0L865.4 493.6L865.7 399.9L866.0 377.4L866.3 432.1L866.6 540.4L866.9 583.6L867.1 629.2L867.4 601.3L867.7 390.6L868.0 311.6L868.3 366.2L868.5 477.9L868.8 615.9L869.1 743.1L869.4 873.7L869.7 990.8L870.0 1097.9L870.2 1174.6L870.5 1209.5L870.8 1226.9L871.1 1193.2L871.4 1076.9L871.6 851.8L871.9 640.3L872.2 538.2L872.5 456.7L872.8 451.9L873.1 487.3L873.3 521.4L873.6 584.2L873.9 603.3L874.2 576.4L874.5 411.3L874.8 334.7L875.0 387.5L875.3 494.5L875.6 631.6L875.9 751.4L876.2 877.9L876.4 997.1L876.7 1098.2L877.0 1172.7L877.3 1206.2L877.6 1226.9L877.9 1194.6L878.1 1090.3L878.4 887.3L878.7 695.9L879.0 583.4L879.3 502.4L879.6 502.7L879.8 543.2L880.1 647.5L880.4 693.5L880.7 725.0L881.0 699.2L881.2 517.3L881.5 450.0L881.8 505.4L882.1 605.0L882.4 735.7L882.7 859.2L882.9 973.3L883.2 1088.5L883.5 1189.9L883.8 1260.9L884.1 1296.9L884.4 1318.0L884.6 1284.5L884.9 1187.7L885.2 982.0L885.5 790.0L885.8 695.6L886.0 619.6L886.3 618.2L886.6 646.5L886.9 710.9L887.2 760.2L887.5 792.1L887.7 765.0L888.0 615.3L888.3 542.4L888.6 597.8L888.9 696.0L889.1 820.2L889.4 934.2L889.7 1053.8L890.0 1165.0L890.3 1262.0L890.6 1331.0L890.8 1366.6L891.1 1386.1L891.4 1347.8L891.7 1236.8L892.0 1014.1L892.3 796.7L892.5 715.0L892.8 624.4L893.1 633.2L893.4 666.6L893.7 673.0L893.9 714.0L894.2 765.6L894.5 723.9L894.8 568.8L895.1 484.7L895.4 535.1L895.6 641.9L895.9 770.7L896.2 895.3L896.5 1013.4L896.8 1127.9L897.1 1231.3L897.3 1300.0L897.6 1338.0L897.9 1353.8L898.2 1316.5L898.5 1190.3L898.7 959.7L899.0 738.2L899.3 599.6L899.6 498.9L899.9 495.4L900.2 535.2L900.4 666.5L900.7 724.5L901.0 749.0L901.3 721.8L901.6 475.7L901.8 392.4L902.1 443.9L902.4 547.4L902.7 678.9L903.0 795.9L903.3 923.8L903.5 1032.7L903.8 1133.5L904.1 1207.9L904.4 1234.7L904.7 1250.0L905.0 1210.6L905.2 1096.4L905.5 869.9L905.8 653.1L906.1 528.7L906.4 431.5L906.6 432.4L906.9 472.5L907.2 577.5L907.5 634.0L907.8 665.2L908.1 643.1L908.3 426.0L908.6 347.4L908.9 400.4L909.2 510.1L909.5 650.2L909.8 772.9L910.0 903.8L910.3 1022.4L910.6 1135.7L910.9 1203.0L911.2 1242.9L911.4 1261.5L911.7 1229.1L912.0 1105.8L912.3 881.3L912.6 662.4L912.9 540.2L913.1 444.7L913.4 452.7L913.7 495.3L914.0 583.3L914.3 620.2L914.6 649.6L914.8 634.1L915.1 442.6L915.4 357.7L915.7 412.8L916.0 519.4L916.2 657.6L916.5 787.4L916.8 914.2L917.1 1030.7L917.4 1140.6L917.7 1207.6L917.9 1244.9L918.2 1266.1L918.5 1228.0L918.8 1102.2L919.1 874.6L919.3 647.6L919.6 604.4L919.9 516.0L920.2 501.2L920.5 546.8L920.8 550.1L921.0 593.4L921.3 635.9L921.6 607.5L921.9 406.2L922.2 323.1L922.5 380.9L922.7 487.0L923.0 629.4L923.3 762.6L923.6 887.0L923.9 1013.1L924.1 1121.2L924.4 1197.1L924.7 1229.2L925.0 1250.0L925.3 1218.7L925.6 1112.4L925.8 898.7L926.1 695.9L926.4 647.9L926.7 567.7L927.0 566.4L927.3 614.8L927.5 634.3L927.8 686.9L928.1 715.2L928.4 689.5L928.7 498.0L928.9 427.0L929.2 479.5L929.5 585.5L929.8 714.7L930.1 835.7L930.4 959.8L930.6 1070.2L930.9 1176.5L931.2 1245.8L931.5 1285.2L931.8 1300.7L932.1 1271.4L932.3 1155.8L932.6 940.9L932.9 727.1L933.2 650.1L933.5 574.5L933.7 570.1L934.0 612.9L934.3 652.3L934.6 718.5L934.9 746.6L935.2 729.0L935.4 542.8L935.7 467.4L936.0 525.5L936.3 634.8L936.6 772.0L936.8 906.5L937.1 1034.4L937.4 1151.7L937.7 1263.9L938.0 1340.7L938.3 1376.7L938.5 1402.3L938.8 1366.1L939.1 1245.9L939.4 1017.2L939.7 803.5L940.0 703.3L940.2 614.6L940.5 608.3L940.8 636.6L941.1 632.7L941.4 696.4L941.6 720.0L941.9 699.8L942.2 563.4L942.5 480.0L942.8 535.2L943.1 638.6L943.3 772.3L943.6 895.2L943.9 1021.5L944.2 1134.6L944.5 1242.2L944.8 1307.6L945.0 1340.0L945.3 1358.4L945.6 1317.8L945.9 1191.2L946.2 946.6L946.4 717.3L946.7 641.3L947.0 533.0L947.3 533.1L947.6 581.6L947.9 593.3L948.1 650.7L948.4 673.3L948.7 658.8L949.0 448.8L949.3 360.0L949.5 418.6L949.8 528.5L950.1 670.8L950.4 798.4L950.7 935.6L951.0 1058.7L951.2 1164.6L951.5 1242.2L951.8 1274.6L952.1 1293.8L952.4 1260.2L952.7 1139.7L952.9 907.2L953.2 689.0L953.5 550.6L953.8 459.8L954.1 461.2L954.3 511.2L954.6 540.8L954.9 579.7L955.2 616.9L955.5 596.0L955.8 455.6L956.0 373.9L956.3 431.9L956.6 539.9L956.9 678.7L957.2 805.8L957.5 933.4L957.7 1052.8L958.0 1158.2L958.3 1235.6L958.6 1270.6L958.9 1288.0L959.1 1252.2L959.4 1140.0L959.7 917.7L960.0 699.8L960.3 609.3L960.6 513.0L960.8 492.8L961.1 554.8L961.4 614.8L961.7 648.6L962.0 684.2L962.3 653.9L962.5 479.0L962.8 401.6L963.1 455.3L963.4 561.3L963.7 696.4L963.9 821.0L964.2 941.8L964.5 1062.1L964.8 1166.3L965.1 1237.2L965.4 1271.1L965.6 1291.5L965.9 1257.9L966.2 1143.5L966.5 919.7L966.8 710.1L967.0 614.3L967.3 520.4L967.6 501.8L967.9 562.1L968.2 600.1L968.5 632.9L968.7 678.0L969.0 630.0L969.3 484.2L969.6 403.9L969.9 454.9L970.2 561.3L970.4 689.8L970.7 814.7L971.0 932.5L971.3 1046.4L971.6 1151.9L971.8 1221.3L972.1 1255.6L972.4 1273.0L972.7 1245.4L973.0 1142.5L973.3 951.0L973.5 766.1L973.8 658.1L974.1 588.5L974.4 575.6L974.7 613.5L975.0 702.6L975.2 748.5L975.5 783.7L975.8 743.0L976.1 600.0L976.4 530.8L976.6 579.3L976.9 679.1L977.2 805.8L977.5 921.3L977.8 1033.8L978.1 1138.4L978.3 1238.6L978.6 1304.3L978.9 1339.3L979.2 1360.7L979.5 1335.7L979.8 1227.7L980.0 1033.1L980.3 840.5L980.6 790.5L980.9 701.7L981.2 704.4L981.4 756.1L981.7 730.2L982.0 780.8L982.3 796.5L982.6 782.7L982.9 670.6L983.1 602.4L983.4 654.8L983.7 761.4L984.0 887.9L984.3 1005.2L984.5 1122.2L984.8 1233.4L985.1 1336.1L985.4 1400.4L985.7 1440.5L986.0 1460.0L986.2 1423.6L986.5 1309.3L986.8 1096.1L987.1 884.4L987.4 746.6L987.7 664.6L987.9 661.0L988.2 700.3L988.5 805.8L988.8 866.4L989.1 886.8L989.3 853.5L989.6 657.1L989.9 577.0L990.2 628.7L990.5 730.2L990.8 854.1L991.0 972.9L991.3 1097.9L991.6 1206.9L991.9 1305.0L992.2 1376.9L992.5 1406.2L992.7 1425.3L993.0 1385.2L993.3 1273.4L993.6 1062.2L993.9 853.3L994.1 772.1L994.4 670.4L994.7 673.1L995.0 699.3L995.3 718.2L995.6 769.1L995.8 793.0L996.1 749.2L996.4 608.4L996.7 526.2L997.0 571.2L997.2 668.0L997.5 787.5L997.8 899.4L998.1 1018.7L998.4 1118.3L998.7 1212.9L998.9 1280.2L999.2 1303.7L999.5 1319.2L999.8 1280.6L1000.1 1177.2L1000.4 960.7L1000.6 757.9L1000.9 670.0L1001.2 589.6L1001.5 572.8L1001.8 633.0L1002.0 686.0L1002.3 749.8L1002.6 783.2L1002.9 738.5L1003.2 534.7L1003.5 459.3L1003.7 506.5L1004.0 605.9L1004.3 735.5L1004.6 853.5L1004.9 973.9L1005.2 1079.7L1005.4 1177.9L1005.7 1246.7L1006.0 1277.4L1006.3 1296.1L1006.6 1264.6L1006.8 1144.5L1007.1 931.3L1007.4 718.7L1007.7 681.7L1008.0 584.7L1008.3 570.2L1008.5 626.9L1008.8 628.2L1009.1 682.7L1009.4 726.9L1009.7 694.4L1010.0 507.6L1010.2 427.0L1010.5 478.9L1010.8 592.0L1011.1 720.5L1011.4 847.4L1011.6 974.8L1011.9 1093.9L1012.2 1195.2L1012.5 1268.7L1012.8 1309.3L1013.1 1326.1L1013.3 1288.0L1013.6 1181.5L1013.9 963.6L1014.2 752.7L1014.5 700.2L1014.7 610.4L1015.0 587.1L1015.3 623.2L1015.6 669.7L1015.9 709.7L1016.2 734.1L1016.4 701.0L1016.7 526.9L1017.0 450.0L1017.3 504.0L1017.6 604.2L1017.9 732.1L1018.1 851.7L1018.4 967.6L1018.7 1083.3L1019.0 1182.2L1019.3 1253.6L1019.5 1284.4L1019.8 1299.6L1020.1 1273.7L1020.4 1172.1L1020.7 981.4L1021.0 792.3L1021.2 698.3L1021.5 620.7L1021.8 616.9L1022.1 669.6L1022.4 675.5L1022.7 713.6L1022.9 742.2L1023.2 735.3L1023.5 614.3L1023.8 542.4L1024.1 589.6L1024.3 681.7L1024.6 804.2L1024.9 914.8L1025.2 1021.1L1025.5 1123.7L1025.8 1217.3L1026.0 1281.9L1026.3 1315.2L1026.6 1330.7L1026.9 1305.2L1027.2 1197.3L1027.5 989.8L1027.7 795.0L1028.0 670.4L1028.3 598.0L1028.6 602.8L1028.9 647.5L1029.1 747.4L1029.4 786.1L1029.7 827.0L1030.0 809.5L1030.3 619.8L1030.6 550.4L1030.8 609.2L1031.1 713.5L1031.4 841.9L1031.7 965.3L1032.0 1090.5L1032.2 1197.1L1032.5 1304.8L1032.8 1381.5L1033.1 1413.1L1033.4 1438.0L1033.7 1399.3L1033.9 1281.5L1034.2 1061.1L1034.5 848.3L1034.8 745.8L1035.1 659.9L1035.4 644.6L1035.6 676.8L1035.9 767.4L1036.2 819.9L1036.5 837.3L1036.8 820.6L1037.0 614.1L1037.3 535.4L1037.6 585.5L1037.9 692.2L1038.2 825.7L1038.5 945.7L1038.7 1065.3L1039.0 1181.9L1039.3 1282.5L1039.6 1357.3L1039.9 1389.9L1040.2 1405.7L1040.4 1363.2L1040.7 1240.7L1041.0 1008.1L1041.3 785.6L1041.6 694.8L1041.8 617.1L1042.1 600.4L1042.4 625.6L1042.7 654.7L1043.0 680.2L1043.3 725.9L1043.5 678.5L1043.8 514.6L1044.1 424.7L1044.4 477.7L1044.7 580.2L1045.0 713.6L1045.2 837.4L1045.5 959.8L1045.8 1071.5L1046.1 1179.9L1046.4 1249.4L1046.6 1278.3L1046.9 1291.5L1047.2 1254.5L1047.5 1139.0L1047.8 911.2L1048.1 699.1L1048.3 581.2L1048.6 476.6L1048.9 471.6L1049.2 527.2L1049.5 609.6L1049.7 642.1L1050.0 695.8L1050.3 653.1L1050.6 465.5L1050.9 384.3L1051.2 440.5L1051.4 546.2L1051.7 679.8L1052.0 798.7L1052.3 925.3L1052.6 1040.0L1052.9 1153.7L1053.1 1218.5L1053.4 1253.2L1053.7 1273.0L1054.0 1237.8L1054.3 1118.4L1054.5 895.5L1054.8 676.3L1055.1 554.3L1055.4 482.6L1055.7 452.7L1056.0 520.4L1056.2 543.3L1056.5 588.5L1056.8 614.1L1057.1 601.2L1057.4 440.9L1057.7 360.0L1057.9 413.7L1058.2 516.5L1058.5 655.4L1058.8 781.7L1059.1 904.9L1059.3 1022.4L1059.6 1127.5L1059.9 1198.4L1060.2 1235.6L1060.5 1250.0L1060.8 1215.5L1061.0 1093.1L1061.3 859.1L1061.6 631.7L1061.9 570.2L1062.2 475.8L1062.4 457.4L1062.7 518.8L1063.0 550.5L1063.3 584.7L1063.6 626.9L1063.9 600.9L1064.1 404.0L1064.4 318.0L1064.7 372.3L1065.0 487.1L1065.3 636.3L1065.6 768.4L1065.8 898.8L1066.1 1020.7L1066.4 1133.8L1066.7 1211.6L1067.0 1256.3L1067.2 1273.0L1067.5 1236.8L1067.8 1131.0L1068.1 912.6L1068.4 711.2L1068.7 666.6L1068.9 575.5L1069.2 560.9L1069.5 610.6L1069.8 576.4L1070.1 637.4L1070.4 660.1L1070.6 637.8L1070.9 499.8L1071.2 424.7L1071.5 476.3L1071.8 583.6L1072.0 712.9L1072.3 833.2L1072.6 954.9L1072.9 1067.4L1073.2 1163.2L1073.5 1234.7L1073.7 1268.1L1074.0 1289.2L1074.3 1258.7L1074.6 1134.9L1074.9 901.1L1075.2 677.8L1075.4 566.1L1075.7 460.4L1076.0 454.9L1076.3 522.4L1076.6 636.3L1076.8 697.4L1077.1 738.7L1077.4 720.9L1077.7 489.1L1078.0 408.5L1078.3 469.3L1078.5 588.8L1078.8 743.6L1079.1 878.2L1079.4 1018.0L1079.7 1150.5L1079.9 1273.8L1080.2 1351.2L1080.5 1394.7L1080.8 1420.7L1081.1 1383.1L1081.4 1253.0L1081.6 1010.0L1081.9 774.9L1082.2 689.1L1082.5 593.2L1082.8 589.6L1083.1 637.5L1083.3 670.8L1083.6 702.0L1083.9 755.1L1084.2 708.7L1084.5 512.3L1084.7 424.7L1085.0 479.6L1085.3 589.5L1085.6 734.4L1085.9 869.9L1086.2 995.4L1086.4 1124.6L1086.7 1233.0L1087.0 1306.1L1087.3 1344.3L1087.6 1360.7L1087.9 1321.2L1088.1 1191.3L1088.4 955.8L1088.7 722.5L1089.0 670.2L1089.3 571.4L1089.5 554.6L1089.8 594.9L1090.1 613.0L1090.4 653.1L1090.7 696.5L1091.0 660.3L1091.2 456.0L1091.5 364.7L1091.8 414.0L1092.1 522.6L1092.4 661.7L1092.7 791.1L1092.9 920.2L1093.2 1037.7L1093.5 1143.5L1093.8 1213.3L1094.1 1251.7L1094.3 1265.2L1094.6 1228.4L1094.9 1106.9L1095.2 865.0L1095.5 636.5L1095.8 581.7L1096.0 473.9L1096.3 482.6L1096.6 524.5L1096.9 505.6L1097.2 538.8L1097.4 582.5L1097.7 551.1L1098.0 400.3L1098.3 316.2L1098.6 372.9L1098.9 492.2L1099.1 632.1L1099.4 766.9L1099.7 899.7L1100.0 1024.1L1100.3 1136.3L1100.6 1217.9L1100.8 1255.0L1101.1 1274.6L1101.4 1233.6L1101.7 1120.3L1102.0 886.5L1102.2 667.1L1102.5 599.1L1102.8 497.7L1103.1 496.7L1103.4 536.3L1103.7 534.9L1103.9 567.9L1104.2 620.9L1104.5 595.6L1104.8 432.3L1105.1 348.5L1105.4 402.5L1105.6 515.7L1105.9 651.8L1106.2 785.5L1106.5 914.0L1106.8 1030.1L1107.0 1143.7L1107.3 1212.9L1107.6 1255.1L1107.9 1270.0L1108.2 1235.2L1108.5 1114.8L1108.7 888.7L1109.0 665.4L1109.3 558.4L1109.6 481.9L1109.9 464.6L1110.2 509.7L1110.4 630.6L1110.7 663.8L1111.0 701.7L1111.3 681.4L1111.6 445.2L1111.8 364.7L1112.1 420.1L1112.4 531.5L1112.7 665.9L1113.0 796.6L1113.3 929.8L1113.5 1049.1L1113.8 1158.9L1114.1 1228.3L1114.4 1270.6L1114.7 1288.4L1114.9 1254.9L1115.2 1154.7L1115.5 944.2L1115.8 746.8L1116.1 691.2L1116.4 617.6L1116.6 619.8L1116.9 652.0L1117.2 692.1L1117.5 727.7L1117.8 763.4L1118.1 738.9L1118.3 558.0L1118.6 482.4L1118.9 536.3L1119.2 634.2L1119.5 760.7L1119.7 876.6L1120.0 996.4L1120.3 1101.8L1120.6 1203.7L1120.9 1274.4L1121.2 1306.0L1121.4 1325.3L1121.7 1291.9L1122.0 1190.5L1122.3 987.0L1122.6 783.3L1122.9 662.7L1123.1 585.5L1123.4 589.1L1123.7 614.9L1124.0 723.4L1124.3 754.6L1124.5 807.7L1124.8 792.3L1125.1 615.0L1125.4 542.4L1125.7 593.5L1126.0 701.1L1126.2 833.5L1126.5 959.3L1126.8 1078.0L1127.1 1190.5L1127.4 1300.1L1127.6 1371.8L1127.9 1411.9L1128.2 1429.2L1128.5 1393.9L1128.8 1266.9L1129.1 1033.4L1129.3 816.7L1129.6 712.4L1129.9 624.5L1130.2 613.2L1130.5 640.6L1130.8 670.2L1131.0 728.8L1131.3 757.2L1131.6 733.6L1131.9 573.6L1132.2 485.8L1132.4 535.9L1132.7 647.1L1133.0 782.7L1133.3 911.8L1133.6 1040.9L1133.9 1163.6L1134.1 1267.4L1134.4 1342.0L1134.7 1377.0L1135.0 1394.6L1135.3 1352.2L1135.6 1223.2L1135.8 985.3L1136.1 754.3L1136.4 628.4L1136.7 513.5L1137.0 497.2L1137.2 536.7L1137.5 605.4L1137.8 659.0L1138.1 690.2L1138.4 660.0L1138.7 487.5L1138.9 397.0L1139.2 446.9L1139.5 559.1L1139.8 696.1L1140.1 826.9L1140.4 950.1L1140.6 1066.9L1140.9 1175.8L1141.2 1250.9L1141.5 1285.3L1141.8 1297.7L1142.0 1265.3L1142.3 1144.8L1142.6 919.6L1142.9 712.2L1143.2 631.6L1143.5 560.0L1143.7 536.6L1144.0 583.4L1144.3 573.9L1144.6 609.2L1144.9 651.5L1145.1 618.1L1145.4 484.2L1145.7 403.9L1146.0 454.1L1146.3 564.8L1146.6 697.7L1146.8 825.3L1147.1 949.0L1147.4 1063.1L1147.7 1171.2L1148.0 1239.1L1148.3 1277.9L1148.5 1293.0L1148.8 1260.6L1149.1 1143.6L1149.4 923.8L1149.7 703.8L1149.9 618.7L1150.2 519.3L1150.5 510.9L1150.8 548.7L1151.1 570.7L1151.4 620.7L1151.6 651.5L1151.9 616.4L1152.2 484.7L1152.5 406.2L1152.8 456.7L1153.1 569.8L1153.3 695.6L1153.6 824.8L1153.9 949.3L1154.2 1066.5L1154.5 1170.8L1154.7 1241.6L1155.0 1276.2L1155.3 1293.0L1155.6 1257.7L1155.9 1148.7L1156.2 929.8L1156.4 721.2L1156.7 596.0L1157.0 517.0L1157.3 505.8L1157.6 542.0L1157.9 586.5L1158.1 627.2L1158.4 671.5L1158.7 626.8L1159.0 494.9L1159.3 420.0L1159.5 470.7L1159.8 573.2L1160.1 697.1L1160.4 819.7L1160.7 936.6L1161.0 1047.9L1161.2 1154.7L1161.5 1216.5L1161.8 1251.4L1162.1 1270.0L1162.4 1244.0L1162.6 1145.6L1162.9 958.4L1163.2 781.1L1163.5 706.9L1163.8 639.2L1164.1 625.5L1164.3 657.9L1164.6 686.8L1164.9 709.8L1165.2 750.8L1165.5 732.7L1165.8 608.3L1166.0 542.4L1166.3 588.8L1166.6 679.4L1166.9 798.1L1167.2 903.3L1167.4 1015.1L1167.7 1114.9L1168.0 1204.9L1168.3 1269.9L1168.6 1303.0L1168.9 1320.7L1169.1 1290.9L1169.4 1186.5L1169.7 984.5L1170.0 791.3L1170.3 734.1L1170.6 646.6L1170.8 653.3L1171.1 710.8L1171.4 677.4L1171.7 734.1L1172.0 768.0L1172.2 739.3L1172.5 631.0L1172.8 562.0L1173.1 612.5L1173.4 719.8L1173.7 845.8L1173.9 966.4L1174.2 1089.6L1174.5 1201.1L1174.8 1303.5L1175.1 1374.2L1175.3 1413.0L1175.6 1436.1L1175.9 1396.9L1176.2 1275.2L1176.5 1050.3L1176.8 834.0L1177.0 690.5L1177.3 616.3L1177.6 592.2L1177.9 632.8L1178.2 663.7L1178.5 712.8L1178.7 753.8L1179.0 719.4L1179.3 591.1L1179.6 508.9L1179.9 563.9L1180.1 669.9L1180.4 801.6L1180.7 927.7L1181.0 1059.8L1181.3 1171.2L1181.6 1280.7L1181.8 1354.5L1182.1 1391.9L1182.4 1405.0L1182.7 1365.6L1183.0 1245.4L1183.3 1012.5L1183.5 789.3L1183.8 696.2L1184.1 603.6L1184.4 579.2L1184.7 630.8L1184.9 643.7L1185.2 682.9L1185.5 717.6L1185.8 683.5L1186.1 527.5L1186.4 443.1L1186.6 497.2L1186.9 596.3L1187.2 729.2L1187.5 848.0L1187.8 972.8L1188.1 1090.5L1188.3 1192.5L1188.6 1262.2L1188.9 1296.2L1189.2 1306.9L1189.5 1273.5L1189.7 1152.8L1190.0 935.1L1190.3 718.0L1190.6 619.2L1190.9 536.5L1191.2 522.4L1191.4 569.1L1191.7 573.9L1192.0 621.8L1192.3 642.9L1192.6 616.6L1192.8 488.9L1193.1 412.0L1193.4 460.8L1193.7 570.5L1194.0 696.1L1194.3 823.6L1194.5 941.7L1194.8 1059.7L1195.1 1165.2L1195.4 1227.1L1195.7 1265.6L1196.0 1281.5L1196.2 1240.3L1196.5 1122.3L1196.8 889.5L1197.1 663.1L1197.4 545.7L1197.6 461.2L1197.9 439.5L1198.2 490.1L1198.5 560.6L1198.8 611.1L1199.1 646.0L1199.3 615.3L1199.6 432.8L1199.9 345.0L1200.2 398.2L1200.5 511.3L1200.8 656.8L1201.0 784.7L1201.3 920.5L1201.6 1042.4L1201.9 1152.3L1202.2 1228.4L1202.4 1264.0L1202.7 1283.8L1203.0 1248.9L1203.3 1131.4L1203.6 914.4L1203.9 694.5L1204.1 593.7L1204.4 509.5L1204.7 482.7L1205.0 536.2L1205.3 539.0L1205.6 589.5L1205.8 637.4L1206.1 589.7L1206.4 469.9L1206.7 392.4L1207.0 442.0L1207.2 547.4L1207.5 679.9L1207.8 808.9L1208.1 929.2L1208.4 1042.7L1208.7 1150.5L1208.9 1219.4L1209.2 1256.7L1209.5 1270.0L1209.8 1245.7L1210.1 1148.0L1210.3 972.7L1210.6 795.4L1210.9 735.8L1211.2 663.4L1211.5 651.1L1211.8 694.7L1212.0 726.8L1212.3 768.2L1212.6 792.1L1212.9 759.8L1213.2 629.9L1213.5 565.4L1213.7 611.9L1214.0 700.6L1214.3 808.5L1214.6 910.3L1214.9 1017.5L1215.1 1111.6L1215.4 1205.0L1215.7 1265.1L1216.0 1289.5L1216.3 1309.2L1216.6 1282.5L1216.8 1187.8L1217.1 1004.1L1217.4 818.8L1217.7 740.5L1218.0 667.9L1218.3 653.1L1218.5 708.9L1218.8 772.1L1219.1 812.1L1219.4 843.7L1219.7 829.6L1219.9 672.0L1220.2 607.0L1220.5 659.7L1220.8 751.7L1221.1 872.5L1221.4 983.0L1221.6 1092.5L1221.9 1202.2L1222.2 1297.8L1222.5 1360.6L1222.8 1400.3L1223.0 1417.7L1223.3 1384.0L1223.6 1275.9L1223.9 1077.4L1224.2 880.8L1224.5 783.4L1224.7 708.1L1225.0 690.4L1225.3 736.1L1225.6 765.3L1225.9 793.9L1226.2 821.5L1226.4 792.4L1226.7 661.2L1227.0 587.4L1227.3 629.3L1227.6 728.2L1227.8 840.3L1228.1 947.7L1228.4 1057.1L1228.7 1159.7L1229.0 1252.5L1229.3 1315.9L1229.5 1342.9L1229.8 1357.7L1230.1 1314.8L1230.4 1182.7L1230.7 930.4L1231.0 690.3L1231.2 627.2L1231.5 509.8L1231.8 505.0L1232.1 544.9L1232.4 572.9L1232.6 611.8L1232.9 658.0L1233.2 629.6L1233.5 415.0L1233.8 320.8L1234.1 379.1L1234.3 489.5L1234.6 640.3L1234.9 776.1L1235.2 907.6L1235.5 1038.3L1235.8 1154.6L1236.0 1231.6L1236.3 1264.1L1236.6 1281.5L1236.9 1240.0L1237.2 1120.5L1237.4 886.5L1237.7 653.3L1238.0 590.5L1238.3 486.3L1238.6 492.6L1238.9 530.9L1239.1 581.2L1239.4 642.2L1239.7 678.1L1240.0 647.1L1240.3 422.8L1240.5 335.8L1240.8 390.7L1241.1 510.3L1241.4 652.9L1241.7 787.4L1242.0 919.1L1242.2 1044.7L1242.5 1156.8L1242.8 1236.6L1243.1 1275.5L1243.4 1295.3L1243.7 1262.4L1243.9 1146.4L1244.2 925.7L1244.5 703.8L1244.8 616.0L1245.1 530.1L1245.3 524.4L1245.6 557.4L1245.9 613.9L1246.2 672.4L1246.5 709.1L1246.8 677.1L1247.0 504.1L1247.3 422.4L1247.6 478.7L1247.9 588.4L1248.2 728.5L1248.5 855.8L1248.7 989.4L1249.0 1111.4L1249.3 1220.7L1249.6 1294.4L1249.9 1329.3L1250.1 1353.0L1250.4 1321.4L1250.7 1212.5L1251.0 1001.0L1251.3 804.8L1251.6 685.9L1251.8 605.2L1252.1 586.1L1252.4 641.6L1252.7 671.7L1253.0 716.7L1253.3 751.8L1253.5 710.6L1253.8 585.2L1254.1 512.4L1254.4 560.6L1254.7 653.7L1254.9 774.3L1255.2 887.5L1255.5 1006.6L1255.8 1112.0L1256.1 1205.1L1256.4 1269.8L1256.6 1301.8L1256.9 1316.1L1257.2 1282.0L1257.5 1172.1L1257.8 965.9L1258.0 763.5L1258.3 686.2L1258.6 602.2L1258.9 609.7L1259.2 645.8L1259.5 697.5L1259.7 736.6L1260.0 767.4L1260.3 734.6L1260.6 557.3L1260.9 481.2L1261.2 531.7L1261.4 635.2L1261.7 757.7L1262.0 881.6L1262.3 999.3L1262.6 1109.2L1262.8 1205.6L1263.1 1271.7L1263.4 1307.7L1263.7 1325.3L1264.0 1293.3L1264.3 1195.3L1264.5 1006.1L1264.8 815.6L1265.1 708.0L1265.4 644.2L1265.7 644.9L1266.0 691.4L1266.2 722.3L1266.5 780.0L1266.8 801.0L1267.1 793.5L1267.4 649.8L1267.6 581.6L1267.9 629.1L1268.2 729.4L1268.5 854.2L1268.8 971.5L1269.1 1088.7L1269.3 1190.0L1269.6 1289.0L1269.9 1359.5L1270.2 1393.1L1270.5 1413.0L1270.8 1377.7L1271.0 1255.8L1271.3 1026.5L1271.6 809.4L1271.9 709.5L1272.2 619.0L1272.4 604.7L1272.7 655.3L1273.0 658.5L1273.3 717.0L1273.6 742.8L1273.9 715.1L1274.1 568.6L1274.4 489.3L1274.7 545.7L1275.0 652.2L1275.3 788.6L1275.5 912.9L1275.8 1037.5L1276.1 1159.0L1276.4 1267.3L1276.7 1336.8L1277.0 1377.4L1277.2 1392.3L1277.5 1356.5L1277.8 1232.0L1278.1 1015.4L1278.4 800.7L1278.7 742.9L1278.9 653.1L1279.2 649.6L1279.5 671.4L1279.8 651.0L1280.1 671.6L1280.3 717.5L1280.6 673.3L1280.9 541.8L1281.2 459.3L1281.5 509.7L1281.8 609.7L1282.0 736.0L1282.3 854.2L1282.6 971.8L1282.9 1083.5L1283.2 1184.3L1283.5 1250.8L1283.7 1281.0L1284.0 1297.7L1284.3 1262.4L1284.6 1166.0L1284.9 968.5L1285.1 786.1L1285.4 730.7L1285.7 656.1L1286.0 647.7L1286.3 676.0L1286.6 706.2L1286.8 728.2L1287.1 777.4L1287.4 750.0L1287.7 584.0L1288.0 510.0L1288.2 554.0L1288.5 643.9L1288.8 763.0L1289.1 865.5L1289.4 977.9L1289.7 1072.6L1289.9 1168.3L1290.2 1222.6L1290.5 1254.0L1290.8 1270.0L1291.1 1240.8L1291.4 1137.6L1291.6 945.5L1291.9 756.7L1292.2 652.0L1292.5 589.9L1292.8 578.4L1293.0 602.5L1293.3 703.5L1293.6 742.8L1293.9 775.9L1294.2 754.8L1294.5 566.0L1294.7 496.2L1295.0 541.1L1295.3 639.0L1295.6 748.2L1295.9 859.9L1296.2 969.2L1296.4 1071.1L1296.7 1161.4L1297.0 1224.6L1297.3 1251.7L1297.6 1270.0L1297.8 1232.7L1298.1 1126.4L1298.4 916.3L1298.7 711.7L1299.0 634.5L1299.3 569.1L1299.5 548.6L1299.8 584.0L1300.1 588.9L1300.4 625.7L1300.7 671.6L1301.0 626.0L1301.2 504.1L1301.5 425.1L1301.8 475.7L1302.1 577.0L1302.4 707.1L1302.6 832.5L1302.9 954.2L1303.2 1064.7L1303.5 1167.6L1303.8 1235.0L1304.1 1269.0L1304.3 1288.4L1304.6 1258.6L1304.9 1166.5L1305.2 991.1L1305.5 817.7L1305.7 747.1L1306.0 692.3L1306.3 668.0L1306.6 719.2L1306.9 773.6L1307.2 823.7L1307.4 865.1L1307.7 839.5L1308.0 653.6L1308.3 588.5L1308.6 636.0L1308.9 727.6L1309.1 837.0L1309.4 945.0L1309.7 1048.5L1310.0 1145.9L1310.3 1232.3L1310.5 1297.6L1310.8 1330.5L1311.1 1343.8L1311.4 1318.7L1311.7 1224.3L1312.0 1037.4L1312.2 854.2L1312.5 815.9L1312.8 750.1L1313.1 751.7L1313.4 773.2L1313.7 784.3L1313.9 846.5L1314.2 861.2L1314.5 843.3L1314.8 698.4L1315.1 634.7L1315.3 680.4L1315.6 783.0L1315.9 894.2L1316.2 1005.2L1316.5 1119.3L1316.8 1221.5L1317.0 1319.8L1317.3 1385.6L1317.6 1413.2L1317.9 1436.1L1318.2 1403.8L1318.5 1303.9L1318.7 1114.2L1319.0 931.9L1319.3 833.0L1319.6 745.2L1319.9 737.0L1320.1 786.6L1320.4 883.2L1320.7 913.8L1321.0 942.5L1321.3 924.1L1321.6 733.4L1321.8 668.1L1322.1 713.4L1322.4 800.1L1322.7 914.2L1323.0 1016.4L1323.2 1117.4L1323.5 1221.5L1323.8 1308.6L1324.1 1366.3L1324.4 1391.6L1324.7 1408.4L1324.9 1376.4L1325.2 1268.6L1325.5 1079.1L1325.8 894.6L1326.1 807.5L1326.4 724.4L1326.6 702.5L1326.9 748.1L1327.2 792.9L1327.5 817.6L1327.8 860.9L1328.0 820.0L1328.3 668.5L1328.6 600.0L1328.9 642.7L1329.2 734.9L1329.5 845.0L1329.7 945.5L1330.0 1050.7L1330.3 1151.0L1330.6 1240.2L1330.9 1294.4L1331.2 1322.2L1331.4 1334.6L1331.7 1308.7L1332.0 1209.5L1332.3 1031.0L1332.6 853.3L1332.8 801.5L1333.1 729.6L1333.4 720.2L1333.7 745.8L1334.0 769.9L1334.3 784.5L1334.5 817.8L1334.8 793.8L1335.1 673.9L1335.4 607.0L1335.7 650.6L1336.0 742.6L1336.2 845.9L1336.5 947.7L1336.8 1049.5L1337.1 1147.0L1337.4 1238.9L1337.6 1293.9L1337.9 1324.5L1338.2 1339.2L1338.5 1311.7L1338.8 1209.8L1339.1 1029.1L1339.3 854.4L1339.6 787.9L1339.9 718.3L1340.2 715.0L1340.5 744.0L1340.7 783.1L1341.0 836.3L1341.3 846.1L1341.6 829.7L1341.9 668.6L1342.2 602.4L1342.4 643.8L1342.7 733.1L1343.0 851.4L1343.3 955.2L1343.6 1057.2L1343.9 1157.5L1344.1 1245.9L1344.4 1305.0L1344.7 1332.1L1345.0 1348.4L1345.3 1318.9L1345.5 1222.1L1345.8 1035.4L1346.1 864.0L1346.4 777.9L1346.7 706.3L1347.0 690.2L1347.2 735.9L1347.5 803.5L1347.8 834.5L1348.1 870.2L1348.4 841.2L1348.7 691.4L1348.9 623.1L1349.2 671.1L1349.5 757.0L1349.8 875.8L1350.1 981.9L1350.3 1082.8L1350.6 1188.9L1350.9 1280.1L1351.2 1337.4L1351.5 1367.8L1351.8 1385.3L1352.0 1361.1L1352.3 1270.1L1352.6 1101.0L1352.9 942.5L1353.2 917.3L1353.4 839.3L1353.7 840.0L1354.0 877.0L1354.3 844.6L1354.6 888.8L1354.9 906.4L1355.1 902.9L1355.4 782.8L1355.7 723.1L1356.0 767.8L1356.3 846.1L1356.6 948.2L1356.8 1044.1L1357.1 1139.6L1357.4 1231.2L1357.7 1309.3L1358.0 1362.1L1358.2 1395.1L1358.5 1408.4L1358.8 1382.3L1359.1 1295.7L1359.4 1122.5L1359.7 963.6L1359.9 913.2L1360.2 861.1L1360.5 841.9L1360.8 873.3L1361.1 935.7L1361.4 963.1L1361.6 985.1L1361.9 981.2L1362.2 815.1L1362.5 753.1L1362.8 797.1L1363.0 886.0L1363.3 996.0L1363.6 1090.8L1363.9 1194.2L1364.2 1290.7L1364.5 1371.8L1364.7 1434.9L1365.0 1459.8L1365.3 1480.0L1365.6 1452.7L1365.9 1357.0L1366.2 1178.7L1366.4 1001.1L1366.7 928.2L1367.0 847.8L1367.3 843.9L1367.6 880.9L1367.8 919.7L1368.1 963.7L1368.4 988.3L1368.7 955.0L1369.0 816.5L1369.3 754.7L1369.5 798.9L1369.8 885.8L1370.1 988.3L1370.4 1088.0L1370.7 1190.7L1370.9 1285.5L1371.2 1368.4L1371.5 1420.9L1371.8 1452.3L1372.1 1466.1L1372.4 1433.6L1372.6 1330.6L1372.9 1135.3L1373.2 950.3L1373.5 862.0L1373.8 801.6L1374.1 777.4L1374.3 812.3L1374.6 886.9L1374.9 914.8L1375.2 952.1L1375.5 921.3L1375.7 733.1L1376.0 659.3L1376.3 705.8L1376.6 792.4L1376.9 898.9L1377.2 1006.9L1377.4 1110.3L1377.7 1207.0L1378.0 1299.3L1378.3 1357.5L1378.6 1382.9L1378.9 1393.4L1379.1 1362.6L1379.4 1265.8L1379.7 1078.5L1380.0 905.9L1380.3 792.4L1380.5 737.1L1380.8 732.4L1381.1 752.8L1381.4 849.3L1381.7 895.1L1382.0 915.8L1382.2 913.1L1382.5 709.9L1382.8 642.4L1383.1 683.2L1383.4 775.1L1383.7 883.4L1383.9 986.1L1384.2 1085.8L1384.5 1186.9L1384.8 1273.9L1385.1 1332.1L1385.3 1360.3L1385.6 1371.5L1385.9 1345.7L1386.2 1251.9L1386.5 1075.6L1386.8 912.0L1387.0 810.0L1387.3 733.9L1387.6 733.4L1387.9 765.4L1388.2 857.6L1388.4 896.8L1388.7 924.8L1389.0 892.1L1389.3 734.1L1389.6 672.4L1389.9 712.0L1390.1 801.6L1390.4 906.6L1390.7 998.3L1391.0 1097.1L1391.3 1189.1L1391.6 1269.6L1391.8 1329.7L1392.1 1357.6L1392.4 1370.3L1392.7 1342.7L1393.0 1251.0L1393.2 1064.5L1393.5 896.5L1393.8 852.0L1394.1 776.7L1394.4 775.2L1394.7 793.1L1394.9 824.4L1395.2 878.7L1395.5 894.9L1395.8 878.4L1396.1 712.2L1396.4 647.0L1396.6 690.4L1396.9 771.8L1397.2 879.7L1397.5 980.1L1397.8 1086.6L1398.0 1173.4L1398.3 1261.6L1398.6 1316.9L1398.9 1349.3L1399.2 1362.3L1399.5 1339.6L1399.7 1256.8L1400.0 1091.4L1400.3 939.1L1400.6 876.3L1400.9 799.9L1401.1 804.2L1401.4 831.3L1401.7 846.9L1402.0 895.3L1402.3 901.9L1402.6 897.8L1402.8 791.5L1403.1 732.4L1403.4 775.3L1403.7 848.3L1404.0 951.4L1404.3 1041.2L1404.5 1136.1L1404.8 1216.9L1405.1 1299.5L1405.4 1352.9L1405.7 1378.4L1405.9 1394.6L1406.2 1369.3L1406.5 1276.6L1406.8 1098.8L1407.1 929.2L1407.4 877.0L1407.6 809.6L1407.9 811.5L1408.2 851.9L1408.5 834.7L1408.8 882.4L1409.1 916.7L1409.3 887.3L1409.6 773.0L1409.9 712.7L1410.2 756.8L1410.5 848.8L1410.7 960.2L1411.0 1062.9L1411.3 1172.6L1411.6 1270.4L1411.9 1356.4L1412.2 1417.1L1412.4 1450.5L1412.7 1469.6L1413.0 1439.9L1413.3 1343.8L1413.6 1151.2L1413.9 971.2L1414.1 882.7L1414.4 813.0L1414.7 788.4L1415.0 820.7L1415.3 916.0L1415.5 951.0L1415.8 972.5L1416.1 964.9L1416.4 770.0L1416.7 705.1L1417.0 749.3L1417.2 833.7L1417.5 942.2L1417.8 1046.7L1418.1 1149.1L1418.4 1243.7L1418.6 1333.4L1418.9 1389.9L1419.2 1416.7L1419.5 1431.5L1419.8 1397.4L1420.1 1288.2L1420.3 1078.0L1420.6 884.0L1420.9 818.0L1421.2 740.1L1421.5 713.4L1421.8 765.5L1422.0 758.8L1422.3 802.0L1422.6 832.6L1422.9 785.6L1423.2 641.3L1423.4 561.6L1423.7 608.6L1424.0 694.3L1424.3 813.3L1424.6 922.5L1424.9 1023.5L1425.1 1128.0L1425.4 1216.6L1425.7 1277.4L1426.0 1302.3L1426.3 1316.1L1426.6 1282.7L1426.8 1180.8L1427.1 980.8L1427.4 792.7L1427.7 715.4L1428.0 640.0L1428.2 633.4L1428.5 675.7L1428.8 672.2L1429.1 711.8L1429.4 729.0L1429.7 716.5L1429.9 599.8L1430.2 524.7L1430.5 575.1L1430.8 668.3L1431.1 787.3L1431.4 895.3L1431.6 1003.7L1431.9 1108.2L1432.2 1208.8L1432.5 1267.8L1432.8 1300.1L1433.0 1316.1L1433.3 1283.8L1433.6 1173.7L1433.9 975.0L1434.2 776.8L1434.5 701.8L1434.7 622.4L1435.0 610.2L1435.3 653.8L1435.6 728.2L1435.9 771.3L1436.1 804.4L1436.4 771.6L1436.7 575.3L1437.0 498.1L1437.3 546.4L1437.6 649.3L1437.8 765.5L1438.1 884.0L1438.4 1000.0L1438.7 1102.6L1439.0 1203.6L1439.3 1265.2L1439.5 1301.4L1439.8 1316.1L1440.1 1288.6L1440.4 1183.0L1440.7 989.5L1440.9 807.6L1441.2 749.9L1441.5 679.1L1441.8 666.5L1442.1 717.9L1442.4 691.6L1442.6 736.2L1442.9 758.8L1443.2 736.8L1443.5 615.1L1443.8 543.1L1444.1 592.3L1444.3 684.2L1444.6 797.7L1444.9 907.5L1445.2 1016.5L1445.5 1112.8L1445.7 1204.9L1446.0 1270.7L1446.3 1298.7L1446.6 1316.1L1446.9 1290.0L1447.2 1191.4L1447.4 1010.0L1447.7 837.4L1448.0 747.9L1448.3 671.1L1448.6 676.8L1448.8 721.4L1449.1 813.1L1449.4 841.4L1449.7 888.9L1450.0 870.5L1450.3 671.2L1450.5 607.7L1450.8 657.0L1451.1 743.5L1451.4 850.0L1451.7 954.2L1452.0 1059.3L1452.2 1162.5L1452.5 1245.6L1452.8 1311.3L1453.1 1340.9L1453.4 1355.3L1453.6 1330.6L1453.9 1253.1L1454.2 1086.5L1454.5 934.9L1454.8 842.1L1455.1 790.4L1455.3 778.7L1455.6 808.4L1455.9 861.5L1456.2 899.3L1456.5 934.1L1456.8 921.1L1457.0 800.1L1457.3 748.5L1457.6 795.2L1457.9 874.6L1458.2 974.0L1458.4 1072.2L1458.7 1170.8L1459.0 1252.9L1459.3 1334.7L1459.6 1392.3L1459.9 1424.7L1460.1 1440.7L1460.4 1408.8L1460.7 1324.5L1461.0 1157.2L1461.3 992.2L1461.6 887.1L1461.8 827.5L1462.1 819.6L1462.4 851.9L1462.7 899.9L1463.0 937.1L1463.2 959.1L1463.5 944.4L1463.8 803.3L1464.1 743.9L1464.4 783.8L1464.7 864.0L1464.9 958.6L1465.2 1049.1L1465.5 1141.0L1465.8 1226.7L1466.1 1307.5L1466.3 1358.4L1466.6 1380.5L1466.9 1394.6L1467.2 1359.8L1467.5 1262.5L1467.8 1078.9L1468.0 898.0L1468.3 818.4L1468.6 736.9L1468.9 730.4L1469.2 773.4L1469.5 828.5L1469.7 852.1L1470.0 880.1L1470.3 863.5L1470.6 682.9L1470.9 617.0L1471.1 658.5L1471.4 742.3L1471.7 846.9L1472.0 948.4L1472.3 1044.1L1472.6 1138.7L1472.8 1222.4L1473.1 1276.2L1473.4 1304.1L1473.7 1316.1L1474.0 1286.2L1474.3 1191.1L1474.5 1002.9L1474.8 821.0L1475.1 709.0L1475.4 635.6L1475.7 630.9L1475.9 661.3L1476.2 710.2L1476.5 745.6L1476.8 779.8L1477.1 742.0L1477.4 637.0L1477.6 566.2L1477.9 612.5L1478.2 701.6L1478.5 812.1L1478.8 920.4L1479.1 1021.3L1479.3 1124.6L1479.6 1208.6L1479.9 1271.1L1480.2 1299.5L1480.5 1316.1L1480.7 1287.6L1481.0 1190.5L1481.3 1019.3L1481.6 848.7L1481.9 744.8L1482.2 658.6L1482.4 655.0L1482.7 686.0L1483.0 782.9L1483.3 828.2L1483.6 836.5L1483.8 814.9L1484.1 658.7L1484.4 595.0L1484.7 636.5L1485.0 718.2L1485.3 825.3L1485.5 926.2L1485.8 1021.6L1486.1 1112.1L1486.4 1198.6L1486.7 1254.1L1487.0 1279.4L1487.2 1293.0L1487.5 1266.8L1487.8 1172.2L1488.1 988.8L1488.4 820.1L1488.6 726.8L1488.9 652.0L1489.2 645.3L1489.5 681.3L1489.8 725.9L1490.1 752.6L1490.3 787.5L1490.6 777.5L1490.9 648.8L1491.2 581.2L1491.5 627.1L1491.8 709.7L1492.0 823.0L1492.3 922.4L1492.6 1031.6L1492.9 1124.9L1493.2 1213.6L1493.4 1271.5L1493.7 1297.6L1494.0 1316.1L1494.3 1287.5L1494.6 1201.6L1494.9 1020.9L1495.1 853.4L1495.4 782.8L1495.7 704.3L1496.0 707.0L1496.3 748.3L1496.6 762.0L1496.8 808.7L1497.1 836.8L1497.4 804.7L1497.7 700.5L1498.0 635.4L1498.2 680.9L1498.5 770.4L1498.8 873.7L1499.1 978.0L1499.4 1079.3L1499.7 1175.4L1499.9 1266.1L1500.2 1318.6L1500.5 1351.1L1500.8 1369.2L1501.1 1344.1L1501.3 1254.6L1501.6 1079.5L1501.9 908.0L1502.2 871.6L1502.5 804.3L1502.8 805.8L1503.0 830.8L1503.3 827.2L1503.6 866.5L1503.9 889.0L1504.2 888.1L1504.5 760.9L1504.7 702.4L1505.0 750.7L1505.3 836.5L1505.6 951.6L1505.9 1057.0L1506.1 1153.9L1506.4 1252.1L1506.7 1345.5L1507.0 1402.5L1507.3 1434.7L1507.6 1454.6L1507.8 1427.1L1508.1 1329.4L1508.4 1142.3L1508.7 968.5L1509.0 891.6L1509.3 831.9L1509.5 825.5L1509.8 847.8L1510.1 854.2L1510.4 904.8L1510.7 935.8L1510.9 916.1L1511.2 772.2L1511.5 709.3L1511.8 755.0L1512.1 840.2L1512.4 944.1L1512.6 1043.7L1512.9 1151.0L1513.2 1238.3L1513.5 1327.8L1513.8 1384.3L1514.0 1414.0L1514.3 1426.9L1514.6 1397.1L1514.9 1299.7L1515.2 1118.5L1515.5 951.2L1515.7 897.3L1516.0 838.2L1516.3 812.4L1516.6 840.8L1516.9 851.0L1517.2 879.5L1517.4 896.5L1517.7 884.5L1518.0 740.8L1518.3 675.8L1518.6 717.6L1518.8 791.6L1519.1 892.7L1519.4 990.3L1519.7 1086.5L1520.0 1175.3L1520.3 1253.7L1520.5 1307.8L1520.8 1328.8L1521.1 1339.2L1521.4 1311.7L1521.7 1224.2L1522.0 1045.7L1522.2 885.3L1522.5 796.5L1522.8 733.9L1523.1 720.4L1523.4 744.5L1523.6 820.3L1523.9 839.1L1524.2 881.1L1524.5 867.2L1524.8 712.7L1525.1 650.4L1525.3 691.3L1525.6 777.1L1525.9 876.8L1526.2 979.4L1526.5 1069.4L1526.8 1166.5L1527.0 1242.7L1527.3 1305.0L1527.6 1329.2L1527.9 1343.8L1528.2 1317.0L1528.4 1225.1L1528.7 1038.1L1529.0 868.0L1529.3 784.3L1529.6 727.3L1529.9 703.1L1530.1 745.9L1530.4 799.3L1530.7 848.1L1531.0 864.5L1531.3 859.3L1531.5 691.2L1531.8 623.9L1532.1 664.4L1532.4 758.1L1532.7 865.9L1533.0 966.2L1533.2 1067.5L1533.5 1158.2L1533.8 1244.6L1534.1 1303.2L1534.4 1337.7L1534.7 1348.4L1534.9 1320.0L1535.2 1238.6L1535.5 1074.7L1535.8 916.8L1536.1 824.9L1536.3 762.7L1536.6 757.3L1536.9 788.0L1537.2 866.3L1537.5 905.8L1537.8 935.3L1538.0 910.6L1538.3 751.7L1538.6 694.3L1538.9 730.2L1539.2 806.9L1539.5 911.2L1539.7 995.3L1540.0 1089.1L1540.3 1170.8L1540.6 1246.3L1540.9 1302.4L1541.1 1327.3L1541.4 1339.2L1541.7 1320.2L1542.0 1235.7L1542.3 1079.3L1542.6 932.8L1542.8 903.2L1543.1 845.6L1543.4 833.1L1543.7 876.2L1544.0 859.0L1544.3 890.6L1544.5 922.4L1544.8 905.4L1545.1 796.4L1545.4 743.9L1545.7 789.2L1545.9 862.5L1546.2 967.3L1546.5 1056.6L1546.8 1150.5L1547.1 1241.9L1547.4 1318.8L1547.6 1373.8L1547.9 1404.2L1548.2 1417.7L1548.5 1390.7L1548.8 1315.0L1549.0 1154.5L1549.3 1003.3L1549.6 967.7L1549.9 893.4L1550.2 898.9L1550.5 941.9L1550.7 962.6L1551.0 994.8L1551.3 1003.1L1551.6 1006.5L1551.9 857.5L1552.2 801.6L1552.4 843.4L1552.7 918.3L1553.0 1024.1L1553.3 1114.3L1553.6 1205.2L1553.8 1293.2L1554.1 1368.9L1554.4 1422.2L1554.7 1449.5L1555.0 1466.1L1555.3 1440.6L1555.5 1353.8L1555.8 1185.7L1556.1 1020.5L1556.4 978.1L1556.7 912.0L1557.0 900.2L1557.2 950.8L1557.5 937.2L1557.8 960.8L1558.1 988.2L1558.4 983.8L1558.6 858.7L1558.9 800.4L1559.2 841.9L1559.5 923.1L1559.8 1028.4L1560.1 1122.1L1560.3 1220.0L1560.6 1307.9L1560.9 1395.0L1561.2 1450.6L1561.5 1476.1L1561.8 1492.7L1562.0 1464.4L1562.3 1363.3L1562.6 1186.5L1562.9 1012.6L1563.2 899.8L1563.4 832.2L1563.7 833.3L1564.0 858.6L1564.3 865.0L1564.6 897.7L1564.9 932.5L1565.1 917.6L1565.4 804.4L1565.7 734.7L1566.0 777.4L1566.3 853.5L1566.5 955.8L1566.8 1056.0L1567.1 1149.1L1567.4 1241.5L1567.7 1321.1L1568.0 1371.4L1568.2 1401.4L1568.5 1408.4L1568.8 1380.2L1569.1 1279.2L1569.4 1087.8L1569.7 908.2L1569.9 858.0L1570.2 792.7L1570.5 772.7L1570.8 826.2L1571.1 778.9L1571.3 823.0L1571.6 837.6L1571.9 816.7L1572.2 707.8L1572.5 638.9L1572.8 677.7L1573.0 765.6L1573.3 879.2L1573.6 977.8L1573.9 1085.1L1574.2 1179.1L1574.5 1262.0L1574.7 1321.9L1575.0 1351.0L1575.3 1362.3L1575.6 1333.3L1575.9 1250.3L1576.1 1095.6L1576.4 941.1L1576.7 903.0L1577.0 827.6L1577.3 839.5L1577.6 859.9L1577.8 865.9L1578.1 900.3L1578.4 911.7L1578.7 890.9L1579.0 784.1L1579.2 727.7L1579.5 766.7L1579.8 847.3L1580.1 939.2L1580.4 1026.9L1580.7 1121.8L1580.9 1205.8L1581.2 1283.2L1581.5 1334.4L1581.8 1355.7L1582.1 1370.3L1582.4 1345.4L1582.6 1257.9L1582.9 1085.0L1583.2 924.7L1583.5 852.6L1583.8 785.0L1584.0 791.2L1584.3 816.9L1584.6 864.9L1584.9 892.4L1585.2 939.3L1585.5 914.6L1585.7 754.7L1586.0 690.8L1586.3 729.6L1586.6 808.4L1586.9 909.2L1587.2 1009.5L1587.4 1100.0L1587.7 1185.1L1588.0 1271.2L1588.3 1324.5L1588.6 1345.6L1588.8 1361.1L1589.1 1333.7L1589.4 1249.7L1589.7 1087.7L1590.0 927.1L1590.3 839.5L1590.5 784.0L1590.8 766.5L1591.1 816.6L1591.4 898.4L1591.7 924.4L1592.0 947.6L1592.2 936.5L1592.5 781.9L1592.8 725.4L1593.1 765.0L1593.4 848.2L1593.6 957.5L1593.9 1048.7L1594.2 1153.6L1594.5 1236.0L1594.8 1322.0L1595.1 1380.5L1595.3 1412.6L1595.6 1425.7L1595.9 1406.1L1596.2 1322.2L1596.5 1158.6L1596.7 1011.1L1597.0 957.2L1597.3 902.5L1597.6 904.4L1597.9 929.5L1598.2 979.0L1598.4 994.0L1598.7 1024.6L1599.0 1019.9L1599.3 872.8L1599.6 813.1L1599.9 855.4L1600.1 935.2L1600.4 1034.6L1600.7 1125.0L1601.0 1217.7L1601.3 1306.4L1601.5 1381.5L1601.8 1442.7L1602.1 1467.0L1602.4 1482.3L1602.7 1457.3L1603.0 1372.7L1603.2 1205.3L1603.5 1048.4L1603.8 994.3L1604.1 920.8L1604.4 932.1L1604.7 943.2L1604.9 1003.0L1605.2 1038.1L1605.5 1062.1L1605.8 1025.1L1606.1 879.3L1606.3 822.4L1606.6 857.0L1606.9 941.1L1607.2 1037.3L1607.5 1130.6L1607.8 1214.6L1608.0 1304.6L1608.3 1378.6L1608.6 1432.8L1608.9 1460.8L1609.2 1469.6L1609.5 1434.3L1609.7 1339.5L1610.0 1165.2L1610.3 992.9L1610.6 944.5L1610.9 866.4L1611.1 847.2L1611.4 874.3L1611.7 879.1L1612.0 918.2L1612.3 937.3L1612.6 916.6L1612.8 782.5L1613.1 716.2L1613.4 755.8L1613.7 830.1L1614.0 934.7L1614.2 1022.0L1614.5 1118.2L1614.8 1203.0L1615.1 1279.8L1615.4 1328.7L1615.7 1350.8L1615.9 1362.3L1616.2 1337.9L1616.5 1253.8L1616.8 1089.6L1617.1 933.6L1617.4 880.9L1617.6 802.3L1617.9 795.1L1618.2 838.6L1618.5 846.7L1618.8 857.3L1619.0 887.0L1619.3 878.2L1619.6 774.4L1619.9 717.4L1620.2 758.9L1620.5 835.1L1620.7 932.9L1621.0 1019.9L1621.3 1113.2L1621.6 1197.5L1621.9 1277.3L1622.2 1327.5L1622.4 1352.0L1622.7 1369.2L1623.0 1342.3L1623.3 1257.0L1623.6 1094.8L1623.8 941.7L1624.1 863.8L1624.4 801.5L1624.7 792.2L1625.0 826.3L1625.3 884.3L1625.5 906.6L1625.8 927.4L1626.1 902.3L1626.4 781.8L1626.7 720.8L1626.9 758.0L1627.2 836.4L1627.5 928.9L1627.8 1019.6L1628.1 1106.0L1628.4 1192.0L1628.6 1266.2L1628.9 1319.9L1629.2 1349.1L1629.5 1357.7L1629.8 1329.1L1630.1 1247.2L1630.3 1094.4L1630.6 938.2L1630.9 880.1L1631.2 799.6L1631.5 801.8L1631.7 823.0L1632.0 889.6L1632.3 920.9L1632.6 950.0L1632.9 927.9L1633.2 783.5L1633.4 726.6L1633.7 766.6L1634.0 838.3L1634.3 930.1L1634.6 1017.7L1634.9 1105.9L1635.1 1189.6L1635.4 1265.3L1635.7 1318.9L1636.0 1343.0L1636.3 1353.0L1636.5 1326.5L1636.8 1249.6L1637.1 1090.4L1637.4 940.2L1637.7 858.9L1638.0 793.8L1638.2 788.9L1638.5 808.8L1638.8 913.5L1639.1 931.7L1639.4 979.9L1639.7 950.1L1639.9 802.2L1640.2 748.5L1640.5 789.1L1640.8 873.7L1641.1 968.0L1641.3 1064.7L1641.6 1159.7L1641.9 1239.1L1642.2 1322.6L1642.5 1373.3L1642.8 1402.4L1643.0 1421.1L1643.3 1402.3L1643.6 1321.0L1643.9 1181.4L1644.2 1037.5L1644.4 982.3L1644.7 939.7L1645.0 930.6L1645.3 968.8L1645.6 961.6L1645.9 973.8L1646.1 1004.8L1646.4 994.8L1646.7 914.5L1647.0 861.6L1647.3 897.8L1647.6 977.8L1647.8 1066.5L1648.1 1150.2L1648.4 1244.5L1648.7 1320.1L1649.0 1393.0L1649.2 1447.3L1649.5 1475.4L1649.8 1488.0L1650.1 1462.0L1650.4 1377.6L1650.7 1213.7L1650.9 1058.5L1651.2 1008.3L1651.5 928.1L1651.8 939.1L1652.1 966.3L1652.4 997.8L1652.6 1018.3L1652.9 1048.8L1653.2 1035.4L1653.5 886.3L1653.8 826.4L1654.0 861.7L1654.3 942.6L1654.6 1032.7L1654.9 1129.0L1655.2 1213.0L1655.5 1301.2L1655.7 1375.0L1656.0 1422.3L1656.3 1447.3L1656.6 1461.5L1656.9 1428.2L1657.2 1332.4L1657.4 1146.9L1657.7 973.8L1658.0 920.2L1658.3 848.3L1658.6 836.5L1658.8 851.0L1659.1 912.3L1659.4 942.9L1659.7 966.4L1660.0 957.5L1660.3 761.8L1660.5 693.1L1660.8 733.1L1661.1 811.7L1661.4 915.5L1661.7 1015.5L1661.9 1109.8L1662.2 1199.8L1662.5 1279.5L1662.8 1328.4L1663.1 1360.2L1663.4 1366.9L1663.6 1338.8L1663.9 1252.6L1664.2 1083.3L1664.5 920.2L1664.8 881.0L1665.1 798.1L1665.3 794.2L1665.6 830.4L1665.9 873.7L1666.2 901.5L1666.5 921.6L1666.7 912.8L1667.0 748.2L1667.3 688.5L1667.6 731.3L1667.9 807.1L1668.2 907.1L1668.4 1007.6L1668.7 1096.8L1669.0 1190.2L1669.3 1269.1L1669.6 1321.7L1669.9 1345.4L1670.1 1362.3L1670.4 1335.7L1670.7 1243.3L1671.0 1071.9L1671.3 900.8L1671.5 815.3L1671.8 743.7L1672.1 728.0L1672.4 762.3L1672.7 862.4L1673.0 905.4L1673.2 921.1L1673.5 902.3L1673.8 729.9L1674.1 670.4L1674.4 713.2L1674.6 799.8L1674.9 898.4L1675.2 998.6L1675.5 1093.4L1675.8 1184.8L1676.1 1268.3L1676.3 1328.1L1676.6 1355.3L1676.9 1369.2L1677.2 1338.5L1677.5 1255.6L1677.8 1077.3L1678.0 914.2L1678.3 824.9L1678.6 744.0L1678.9 745.1L1679.2 780.4L1679.4 813.5L1679.7 862.6L1680.0 895.1L1680.3 876.0L1680.6 739.5L1680.9 681.2L1681.1 724.0L1681.4 807.5L1681.7 916.8L1682.0 1008.3L1682.3 1108.6L1682.6 1200.8L1682.8 1286.0L1683.1 1340.2L1683.4 1368.3L1683.7 1385.3L1684.0 1357.9L1684.2 1271.9L1684.5 1099.7L1684.8 934.5L1685.1 866.1L1685.4 791.2L1685.7 793.8L1685.9 827.8L1686.2 832.2L1686.5 872.8L1686.8 899.9L1687.1 889.1L1687.4 773.9L1687.6 717.0L1687.9 759.8L1688.2 846.5L1688.5 947.4L1688.8 1042.2L1689.0 1142.7L1689.3 1235.1L1689.6 1322.0L1689.9 1372.2L1690.2 1401.5L1690.5 1418.8L1690.7 1395.9L1691.0 1319.5L1691.3 1159.7L1691.6 1007.6L1691.9 972.7L1692.1 900.6L1692.4 890.7L1692.7 940.4L1693.0 971.9L1693.3 1019.5L1693.6 1034.0L1693.8 1030.3L1694.1 881.8L1694.4 825.4L1694.7 865.5L1695.0 946.5L1695.3 1049.1L1695.5 1142.4L1695.8 1235.8L1696.1 1319.8L1696.4 1404.2L1696.7 1455.6L1696.9 1483.8L1697.2 1500.7L1697.5 1471.6L1697.8 1384.9L1698.1 1216.1L1698.4 1047.6L1698.6 1002.7L1698.9 941.4L1699.2 937.0L1699.5 969.7L1699.8 943.5L1700.1 972.4L1700.3 1007.0L1700.6 989.2L1700.9 867.6L1701.2 802.4L1701.5 839.0L1701.7 919.3L1702.0 1019.6L1702.3 1109.8L1702.6 1200.8L1702.9 1290.3L1703.2 1367.1L1703.4 1421.7L1703.7 1444.8L1704.0 1458.0L1704.3 1424.5L1704.6 1334.3L1704.9 1158.5L1705.1 996.5L1705.4 931.8L1705.7 860.4L1706.0 853.7L1706.3 866.1L1706.5 861.9L1706.8 905.4L1707.1 931.9L1707.4 911.7L1707.7 798.9L1708.0 733.1L1708.2 768.5L1708.5 849.3L1708.8 949.7L1709.1 1043.8L1709.4 1137.1L1709.6 1223.4L1709.9 1302.3L1710.2 1351.7L1710.5 1375.9L1710.8 1385.3L1711.1 1357.9L1711.3 1276.1L1711.6 1105.9L1711.9 949.0L1712.2 884.0L1712.5 822.2L1712.8 819.1L1713.0 842.3L1713.3 858.8L1713.6 894.2L1713.9 923.7L1714.2 901.8L1714.4 785.2L1714.7 723.9L1715.0 760.4L1715.3 842.5L1715.6 942.2L1715.9 1037.6L1716.1 1128.5L1716.4 1211.1L1716.7 1290.8L1717.0 1342.7L1717.3 1369.7L1717.6 1385.3L1717.8 1357.7L1718.1 1274.0L1718.4 1102.7L1718.7 943.6L1719.0 893.5L1719.2 832.2L1719.5 812.3L1719.8 845.1L1720.1 861.5L1720.4 890.0L1720.7 911.9L1720.9 901.1L1721.2 770.7L1721.5 712.4L1721.8 750.4L1722.1 834.1L1722.4 936.9L1722.6 1027.9L1722.9 1118.9L1723.2 1211.0L1723.5 1294.3L1723.8 1345.8L1724.0 1368.0L1724.3 1385.3L1724.6 1356.3L1724.9 1271.4L1725.2 1098.2L1725.5 939.7L1725.7 882.1L1726.0 803.4L1726.3 819.0L1726.6 833.5L1726.9 822.1L1727.1 850.0L1727.4 886.8L1727.7 854.8L1728.0 763.3L1728.3 705.4L1728.6 748.4L1728.8 830.0L1729.1 924.5L1729.4 1024.1L1729.7 1111.5L1730.0 1205.9L1730.3 1279.8L1730.5 1333.8L1730.8 1364.8L1731.1 1376.1L1731.4 1354.9L1731.7 1274.2L1731.9 1112.1L1732.2 953.1L1732.5 897.3L1732.8 837.7L1733.1 828.9L1733.4 861.4L1733.6 912.8L1733.9 934.5L1734.2 975.7L1734.5 955.1L1734.8 819.0L1735.1 760.8L1735.3 802.5L1735.6 882.8L1735.9 987.7L1736.2 1078.2L1736.5 1170.9L1736.7 1259.5L1737.0 1344.9L1737.3 1394.6L1737.6 1423.8L1737.9 1443.0L1738.2 1416.1L1738.4 1335.3L1738.7 1180.1L1739.0 1031.5L1739.3 944.8L1739.6 903.0L1739.8 876.6L1740.1 933.7L1740.4 967.9L1740.7 1004.9L1741.0 1034.5L1741.3 1015.1L1741.5 886.1L1741.8 832.4L1742.1 872.6L1742.4 951.8L1742.7 1050.5L1743.0 1140.8L1743.2 1231.0L1743.5 1319.7L1743.8 1394.1L1744.1 1448.1L1744.4 1477.6L1744.6 1493.8L1744.9 1470.8L1745.2 1384.6L1745.5 1221.2L1745.8 1066.9L1746.1 995.6L1746.3 923.0L1746.6 936.8L1746.9 958.6L1747.2 1033.4L1747.5 1052.2L1747.8 1072.8L1748.0 1063.6L1748.3 901.8L1748.6 839.3L1748.9 874.2L1749.2 953.7L1749.4 1045.0L1749.7 1138.4L1750.0 1226.4L1750.3 1308.4L1750.6 1389.0L1750.9 1436.1L1751.1 1460.4L1751.4 1473.0L1751.7 1438.4L1752.0 1342.7L1752.3 1168.9L1752.6 993.3L1752.8 903.4L1753.1 834.1L1753.4 822.7L1753.7 845.8L1754.0 852.1L1754.2 895.7L1754.5 913.0L1754.8 894.3L1755.1 781.7L1755.4 714.7L1755.7 753.2L1755.9 835.1L1756.2 938.9L1756.5 1031.8L1756.8 1129.8L1757.1 1212.2L1757.3 1294.0L1757.6 1351.3L1757.9 1373.2L1758.2 1385.3L1758.5 1358.2L1758.8 1261.6L1759.0 1086.7L1759.3 915.3L1759.6 814.6L1759.9 750.0L1760.2 728.2L1760.5 770.1L1760.7 833.2L1761.0 878.7L1761.3 913.5L1761.6 887.4L1761.9 731.9L1762.1 667.4L1762.4 705.6L1762.7 792.2L1763.0 897.7L1763.3 997.6L1763.6 1102.5L1763.8 1193.2L1764.1 1276.0L1764.4 1328.9L1764.7 1357.9L1765.0 1373.8L1765.3 1347.0L1765.5 1254.1L1765.8 1080.4L1766.1 907.7L1766.4 818.6L1766.7 753.3L1766.9 744.2L1767.2 794.3L1767.5 812.6L1767.8 843.2L1768.1 861.8L1768.4 853.2L1768.6 725.1L1768.9 663.9L1769.2 708.6L1769.5 788.5L1769.8 892.7L1770.1 991.8L1770.3 1093.0L1770.6 1183.1L1770.9 1268.3L1771.2 1317.2L1771.5 1352.5L1771.7 1362.3L1772.0 1336.9L1772.3 1247.3L1772.6 1078.8L1772.9 920.6L1773.2 866.1L1773.4 786.8L1773.7 793.0L1774.0 827.2L1774.3 808.1L1774.6 829.2L1774.8 860.5L1775.1 842.6L1775.4 741.6L1775.7 684.7L1776.0 725.1L1776.3 802.9L1776.5 907.9L1776.8 996.5L1777.1 1087.9L1777.4 1182.2L1777.7 1260.9L1778.0 1312.6L1778.2 1337.5L1778.5 1350.7L1778.8 1326.5L1779.1 1251.9L1779.4 1090.3L1779.6 944.7L1779.9 874.8L1780.2 835.4L1780.5 816.1L1780.8 848.9L1781.1 892.9L1781.3 911.0L1781.6 945.1L1781.9 921.6L1782.2 808.9L1782.5 756.2L1782.8 793.7L1783.0 878.3L1783.3 971.0L1783.6 1063.6L1783.9 1158.8L1784.2 1237.6L1784.4 1321.2L1784.7 1369.3L1785.0 1404.1L1785.3 1416.5L1785.6 1393.2L1785.9 1318.6L1786.1 1166.7L1786.4 1018.3L1786.7 973.7L1787.0 921.6L1787.3 920.6L1787.5 941.6L1787.8 929.5L1788.1 980.6L1788.4 990.6L1788.7 978.3L1789.0 887.4L1789.2 837.0L1789.5 879.0L1789.8 950.2L1790.1 1051.2L1790.4 1136.1L1790.7 1226.3L1790.9 1311.7L1791.2 1390.3L1791.5 1441.8L1791.8 1467.3L1792.1 1484.6L1792.3 1460.8L1792.6 1368.1L1792.9 1205.7L1793.2 1049.9L1793.5 977.1L1793.8 896.7L1794.0 900.3L1794.3 917.9L1794.6 961.4L1794.9 1003.5L1795.2 1035.3L1795.5 1010.4L1795.7 866.0L1796.0 809.3L1796.3 846.0L1796.6 925.1L1796.9 1021.1L1797.1 1110.9L1797.4 1193.8L1797.7 1277.4L1798.0 1357.2L1798.3 1405.4L1798.6 1432.8L1798.8 1443.0L1799.1 1408.5L1799.4 1318.7L1799.7 1144.6L1800.0 975.4L1800.3 881.9L1800.5 822.2L1800.8 808.9L1801.1 842.5L1801.4 890.7L1801.7 914.9L1801.9 953.8L1802.2 920.4L1802.5 771.7L1802.8 710.0L1803.1 746.5L1803.4 830.6L1803.6 927.9L1803.9 1023.9L1804.2 1113.2L1804.5 1201.8L1804.8 1281.0L1805.0 1334.0L1805.3 1360.1L1805.6 1369.2L1805.9 1337.3L1806.2 1253.8L1806.5 1080.1L1806.7 911.8L1807.0 813.6L1807.3 757.8L1807.6 747.8L1807.9 783.5L1808.2 832.9L1808.4 872.2L1808.7 889.5L1809.0 869.1L1809.3 733.2L1809.6 670.8L1809.8 710.6L1810.1 792.2L1810.4 895.1L1810.7 999.0L1811.0 1089.7L1811.3 1181.6L1811.5 1262.7L1811.8 1320.3L1812.1 1350.5L1812.4 1362.3L1812.7 1328.2L1813.0 1237.1L1813.2 1049.9L1813.5 866.3L1813.8 801.3L1814.1 731.2L1814.4 723.1L1814.6 750.1L1814.9 770.7L1815.2 807.8L1815.5 852.0L1815.8 832.6L1816.1 673.3L1816.3 606.2L1816.6 649.5L1816.9 736.8L1817.2 852.0L1817.5 957.9L1817.8 1059.0L1818.0 1161.0L1818.3 1250.9L1818.6 1304.8L1818.9 1339.4L1819.2 1350.7L1819.4 1319.8L1819.7 1221.4L1820.0 1031.7L1820.3 856.6L1820.6 764.6L1820.9 697.4L1821.1 686.5L1821.4 722.3L1821.7 782.2L1822.0 804.1L1822.3 836.4L1822.5 823.9L1822.8 666.0L1823.1 597.0L1823.4 638.6L1823.7 730.7L1824.0 840.3L1824.2 949.8L1824.5 1051.5L1824.8 1149.5L1825.1 1238.4L1825.4 1297.8L1825.7 1328.1L1825.9 1339.2L1826.2 1313.3L1826.5 1225.8L1826.8 1058.6L1827.1 896.9L1827.3 865.4L1827.6 781.5L1827.9 786.9L1828.2 809.1L1828.5 855.4L1828.8 913.4L1829.0 926.7L1829.3 915.9L1829.6 740.9L1829.9 684.7L1830.2 724.5L1830.5 811.9L1830.7 908.8L1831.0 1006.8L1831.3 1102.5L1831.6 1192.0L1831.9 1274.8L1832.1 1327.7L1832.4 1353.8L1832.7 1372.7L1833.0 1353.7L1833.3 1272.8L1833.6 1130.0L1833.8 987.3L1834.1 942.7L1834.4 891.9L1834.7 881.2L1835.0 928.5L1835.3 891.1L1835.5 927.2L1835.8 963.1L1836.1 948.7L1836.4 862.2L1836.7 810.4L1836.9 851.5L1837.2 925.0L1837.5 1017.5L1837.8 1110.3L1838.1 1191.2L1838.4 1275.2L1838.6 1351.5L1838.9 1405.7L1839.2 1426.8L1839.5 1445.3L1839.8 1414.6L1840.0 1334.0L1840.3 1178.4L1840.6 1029.9L1840.9 929.7L1841.2 873.0L1841.5 854.1L1841.7 889.2L1842.0 950.1L1842.3 969.4L1842.6 991.8L1842.9 970.0L1843.2 850.3L1843.4 795.4L1843.7 829.9L1844.0 906.7L1844.3 995.2L1844.6 1079.0L1844.8 1164.3L1845.1 1244.2L1845.4 1317.3L1845.7 1357.8L1846.0 1386.2L1846.3 1394.6L1846.5 1361.1L1846.8 1269.6L1847.1 1091.5L1847.4 920.1L1847.7 876.9L1848.0 806.1L1848.2 791.0L1848.5 823.6L1848.8 794.1L1849.1 823.6L1849.4 852.6L1849.6 823.1L1849.9 708.8L1850.2 645.4L1850.5 684.9L1850.8 763.2L1851.1 870.0L1851.3 960.0L1851.6 1054.8L1851.9 1147.5L1852.2 1230.8L1852.5 1277.0L1852.7 1307.8L1853.0 1316.1L1853.3 1290.3L1853.6 1194.6L1853.9 1022.5L1854.2 864.6L1854.4 782.9L1854.7 726.2L1855.0 711.7L1855.3 739.4L1855.6 757.4L1855.9 797.8L1856.1 824.9L1856.4 795.3L1856.7 680.6L1857.0 617.7L1857.3 659.4L1857.5 734.3L1857.8 837.9L1858.1 935.6L1858.4 1031.0L1858.7 1117.1L1859.0 1196.0L1859.2 1249.6L1859.5 1275.0L1859.8 1288.4L1860.1 1264.4L1860.4 1172.4L1860.7 1003.4L1860.9 836.5L1861.2 785.0L1861.5 722.8L1861.8 709.4L1862.1 737.7L1862.3 777.4L1862.6 817.0L1862.9 845.4L1863.2 806.4L1863.5 658.3L1863.8 599.7L1864.0 640.6L1864.3 721.8L1864.6 827.1L1864.9 917.0L1865.2 1018.0L1865.5 1107.9L1865.7 1188.7L1866.0 1239.6L1866.3 1269.1L1866.6 1281.5L1866.9 1250.3L1867.1 1158.5L1867.4 980.5L1867.7 812.5L1868.0 747.6L1868.3 674.4L1868.6 671.9L1868.8 690.7L1869.1 759.7L1869.4 781.8L1869.7 830.7L1870.0 800.0L1870.2 630.2L1870.5 565.8L1870.8 605.0L1871.1 693.9L1871.4 802.2L1871.7 895.8L1871.9 997.2L1872.2 1087.0L1872.5 1168.9L1872.8 1227.5L1873.1 1254.6L1873.4 1270.0L1873.6 1245.6L1873.9 1168.9L1874.2 1020.0L1874.5 870.9L1874.8 794.5L1875.0 721.2L1875.3 729.7L1875.6 766.2L1875.9 822.1L1876.2 866.6L1876.5 892.2L1876.7 882.3L1877.0 740.1L1877.3 687.0L1877.6 722.9L1877.9 805.3L1878.2 899.6L1878.4 989.2L1878.7 1073.2L1879.0 1163.1L1879.3 1233.4L1879.6 1286.1L1879.8 1314.9L1880.1 1330.0L1880.4 1311.7L1880.7 1232.3L1881.0 1086.9L1881.3 944.8L1881.5 879.4L1881.8 817.5L1882.1 836.1L1882.4 861.6L1882.7 902.7L1883.0 930.9L1883.2 971.1L1883.5 950.2L1883.8 816.3L1884.1 767.7L1884.4 810.9L1884.6 886.5L1884.9 974.5L1885.2 1065.1L1885.5 1155.6L1885.8 1239.0L1886.1 1315.7L1886.3 1363.6L1886.6 1388.5L1886.9 1407.3L1887.2 1376.8L1887.5 1296.1L1887.7 1139.7L1888.0 985.5L1888.3 903.4L1888.6 846.1L1888.9 833.6L1889.2 865.3L1889.4 900.9L1889.7 937.1L1890.0 959.4L1890.3 945.9L1890.6 815.3L1890.9 753.9L1891.1 792.8L1891.4 862.1L1891.7 955.6L1892.0 1043.8L1892.3 1132.6L1892.5 1213.2L1892.8 1285.5L1893.1 1331.4L1893.4 1361.9L1893.7 1369.2L1894.0 1337.7L1894.2 1250.3L1894.5 1077.1L1894.8 918.0L1895.1 824.6L1895.4 756.0L1895.7 742.1L1895.9 792.0L1896.2 797.4L1896.5 817.7L1896.8 851.4L1897.1 825.5L1897.3 715.1L1897.6 652.4L1897.9 689.3L1898.2 763.4L1898.5 863.1L1898.8 953.4L1899.0 1039.7L1899.3 1123.0L1899.6 1199.8L1899.9 1249.2L1900.2 1271.4L1900.5 1281.5L1900.7 1253.8L1901.0 1164.1L1901.3 1001.4L1901.6 835.0L1901.9 770.0L1902.1 695.4L1902.4 684.6L1902.7 735.9L1903.0 774.6L1903.3 812.6L1903.6 833.2L1903.8 804.5L1904.1 663.7L1904.4 606.2L1904.7 649.6L1905.0 725.0L1905.2 831.6L1905.5 923.5L1905.8 1016.9L1906.1 1105.1L1906.4 1189.8L1906.7 1244.5L1906.9 1266.6L1907.2 1281.5L1907.5 1254.9L1907.8 1163.2L1908.1 996.1L1908.4 824.6L1908.6 748.4L1908.9 677.0L1909.2 679.2L1909.5 698.2L1909.8 755.6L1910.0 797.9L1910.3 831.9L1910.6 796.8L1910.9 657.0L1911.2 594.7L1911.5 634.8L1911.7 720.2L1912.0 825.1L1912.3 914.4L1912.6 1016.9L1912.9 1103.2L1913.2 1187.1L1913.4 1238.1L1913.7 1265.6L1914.0 1281.5L1914.3 1257.3L1914.6 1165.9L1914.8 998.4L1915.1 835.6L1915.4 742.1L1915.7 666.9L1916.0 665.4L1916.3 697.2L1916.5 736.2L1916.8 762.3L1917.1 793.5L1917.4 784.5L1917.7 656.4L1917.9 597.0L1918.2 640.2L1918.5 719.7L1918.8 816.5L1919.1 914.0L1919.4 1007.7L1919.6 1096.4L1919.9 1179.9L1920.2 1227.5L1920.5 1260.7L1920.8 1270.0L1921.1 1252.2L1921.3 1172.4L1921.6 1026.4L1921.9 888.7L1922.2 801.3L1922.5 757.2L1922.7 747.1L1923.0 777.7L1923.3 816.7L1923.6 849.6L1923.9 863.0L1924.2 845.8L1924.4 760.5L1924.7 710.0L1925.0 745.7L1925.3 822.5L1925.6 907.9L1925.9 993.5L1926.1 1085.1L1926.4 1161.8L1926.7 1234.6L1927.0 1286.7L1927.3 1306.9L1927.5 1323.0L1927.8 1300.4L1928.1 1222.5L1928.4 1070.4L1928.7 921.2L1929.0 867.1L1929.2 823.8L1929.5 819.6L1929.8 847.6L1930.1 881.6L1930.4 913.6L1930.7 932.5L1930.9 922.6L1931.2 802.5L1931.5 745.8L1931.8 786.3L1932.1 864.1L1932.3 969.7L1932.6 1060.8L1932.9 1148.4L1933.2 1232.9L1933.5 1313.9L1933.8 1372.4L1934.0 1403.7L1934.3 1416.5L1934.6 1387.2L1934.9 1309.5L1935.2 1145.6L1935.4 994.4L1935.7 954.9L1936.0 876.6L1936.3 861.8L1936.6 902.8L1936.9 962.7L1937.1 971.6L1937.4 1013.4L1937.7 988.3L1938.0 823.2L1938.3 763.1L1938.6 794.4L1938.8 869.8L1939.1 963.6L1939.4 1049.0L1939.7 1129.2L1940.0 1206.3L1940.2 1284.5L1940.5 1327.5L1940.8 1353.8L1941.1 1362.3L1941.4 1326.3L1941.7 1232.4L1941.9 1052.6L1942.2 882.0L1942.5 795.3L1942.8 707.1L1943.1 688.9L1943.4 743.1L1943.6 774.2L1943.9 796.5L1944.2 831.3L1944.5 797.0L1944.8 671.4L1945.0 601.1L1945.3 641.5L1945.6 720.3L1945.9 817.3L1946.2 915.7L1946.5 1008.6L1946.7 1093.6L1947.0 1172.4L1947.3 1228.1L1947.6 1249.4L1947.9 1258.4L1948.2 1229.5L1948.4 1148.1L1948.7 980.9L1949.0 822.9L1949.3 770.1L1949.6 701.0L1949.8 698.6L1950.1 727.4L1950.4 740.0L1950.7 762.3L1951.0 793.3L1951.3 760.5L1951.5 655.0L1951.8 596.8L1952.1 639.7L1952.4 711.7L1952.7 812.0L1952.9 901.7L1953.2 999.6L1953.5 1084.4L1953.8 1162.0L1954.1 1214.3L1954.4 1244.1L1954.6 1253.6L1954.9 1230.9L1955.2 1146.1L1955.5 980.9L1955.8 824.1L1956.1 752.3L1956.3 686.0L1956.6 675.5L1956.9 708.4L1957.2 760.8L1957.5 797.3L1957.7 831.9L1958.0 818.0L1958.3 662.9L1958.6 607.5L1958.9 650.1L1959.2 722.6L1959.4 825.4L1959.7 915.8L1960.0 1007.7L1960.3 1089.4L1960.6 1167.6L1960.9 1225.0L1961.1 1246.1L1961.4 1262.9L1961.7 1234.2L1962.0 1143.0L1962.3 971.1L1962.5 810.0L1962.8 753.6L1963.1 684.3L1963.4 691.2L1963.7 717.0L1964.0 771.9L1964.2 786.8L1964.5 824.9L1964.8 797.3L1965.1 630.0L1965.4 571.8L1965.6 609.7L1965.9 690.6L1966.2 797.8L1966.5 889.3L1966.8 992.3L1967.1 1074.3L1967.3 1159.9L1967.6 1212.8L1967.9 1244.3L1968.2 1254.3L1968.5 1228.7L1968.8 1152.3L1969.0 999.6L1969.3 857.2L1969.6 827.3L1969.9 767.6L1970.2 767.7L1970.4 798.2L1970.7 796.6L1971.0 823.0L1971.3 870.6L1971.6 832.5L1971.9 725.8L1972.1 670.0L1972.4 706.4L1972.7 785.7L1973.0 883.3L1973.3 970.8L1973.6 1065.1L1973.8 1147.1L1974.1 1224.3L1974.4 1282.3L1974.7 1309.6L1975.0 1321.9L1975.2 1300.6L1975.5 1222.6L1975.8 1067.5L1976.1 914.4L1976.4 825.8L1976.7 782.5L1976.9 764.4L1977.2 802.4L1977.5 879.9L1977.8 906.5L1978.1 947.8L1978.4 927.2L1978.6 795.2L1978.9 738.1L1979.2 779.7L1979.5 860.1L1979.8 967.4L1980.0 1061.6L1980.3 1151.9L1980.6 1240.7L1980.9 1322.0L1981.2 1379.4L1981.5 1407.6L1981.7 1426.2L1982.0 1400.2L1982.3 1309.8L1982.6 1139.4L1982.9 981.7L1983.1 931.0L1983.4 848.0L1983.7 852.4L1984.0 890.0L1984.3 883.9L1984.6 918.5L1984.8 942.6L1985.1 926.9L1985.4 797.8L1985.7 739.3L1986.0 780.1L1986.3 854.2L1986.5 955.3L1986.8 1045.3L1987.1 1138.2L1987.4 1223.9L1987.7 1296.6L1987.9 1349.1L1988.2 1377.9L1988.5 1386.2L1988.8 1351.7L1989.1 1252.2L1989.4 1061.6L1989.6 884.8L1989.9 801.2L1990.2 718.6L1990.5 710.2L1990.8 739.0L1991.1 783.6L1991.3 815.4L1991.6 839.8L1991.9 792.4L1992.2 662.2L1992.5 593.4L1992.7 632.8L1993.0 715.7L1993.3 825.7L1993.6 917.0L1993.9 1016.0L1994.2 1106.9L1994.4 1195.9L1994.7 1251.6L1995.0 1269.6L1995.3 1283.4L1995.6 1258.9L1995.9 1168.1L1996.1 991.7L1996.4 826.5L1996.7 751.5L1997.0 679.7L1997.3 667.1L1997.5 693.5L1997.8 768.8L1998.1 817.6L1998.4 828.7L1998.7 819.6L1999.0 646.6L1999.2 585.8L1999.5 631.0L1999.8 711.8L2000.1 818.9L2000.4 909.8L2000.6 1007.7L2000.9 1098.2L2001.2 1189.4L2001.5 1244.8L2001.8 1272.5L2002.1 1283.4L2002.3 1260.9L2002.6 1168.8L2002.9 1008.4L2003.2 856.0L2003.5 780.2L2003.8 706.8L2004.0 721.3L2004.3 738.1L2004.6 816.8L2004.9 842.8L2005.2 868.4L2005.4 859.1L2005.7 689.1L2006.0 628.5L2006.3 667.9L2006.6 748.6L2006.9 842.7L2007.1 933.5L2007.4 1025.2L2007.7 1111.7L2008.0 1187.4L2008.3 1238.9L2008.6 1265.8L2008.8 1277.7L2009.1 1249.2L2009.4 1164.5L2009.7 1004.6L2010.0 846.1L2010.2 804.1L2010.5 726.4L2010.8 729.0L2011.1 771.1L2011.4 734.2L2011.7 777.9L2011.9 805.0L2012.2 784.4L2012.5 685.9L2012.8 624.4L2013.1 663.5L2013.3 743.9L2013.6 841.5L2013.9 934.3L2014.2 1027.3L2014.5 1108.3L2014.8 1188.6L2015.0 1243.0L2015.3 1265.4L2015.6 1280.5L2015.9 1258.1L2016.2 1180.6L2016.5 1022.4L2016.7 874.1L2017.0 813.7L2017.3 759.3L2017.6 748.7L2017.9 775.4L2018.1 785.6L2018.4 828.5L2018.7 845.1L2019.0 830.3L2019.3 741.9L2019.6 683.9L2019.8 725.2L2020.1 806.5L2020.4 904.3L2020.7 995.4L2021.0 1084.4L2021.3 1169.6L2021.5 1248.1L2021.8 1300.2L2022.1 1327.4L2022.4 1346.2L2022.7 1326.1L2022.9 1250.4L2023.2 1110.4L2023.5 976.8L2023.8 930.5L2024.1 883.2L2024.4 885.4L2024.6 901.6L2024.9 910.2L2025.2 939.0L2025.5 952.5L2025.8 945.6L2026.1 864.0L2026.3 813.1L2026.6 855.4L2026.9 928.0L2027.2 1016.7L2027.5 1102.6L2027.7 1192.4L2028.0 1275.9L2028.3 1347.6L2028.6 1401.6L2028.9 1429.2L2029.2 1443.4L2029.4 1417.3L2029.7 1331.1L2030.0 1174.6L2030.3 1016.5L2030.6 946.2L2030.8 869.6L2031.1 859.0L2031.4 886.9L2031.7 962.0L2032.0 1008.5L2032.3 1031.6L2032.5 1006.0L2032.8 840.4L2033.1 783.1L2033.4 821.0L2033.7 894.7L2034.0 990.3L2034.2 1069.9L2034.5 1159.5L2034.8 1241.7L2035.1 1313.6L2035.4 1360.1L2035.6 1386.0L2035.9 1397.7L2036.2 1369.0L2036.5 1273.4L2036.8 1089.3L2037.1 915.8L2037.3 810.0L2037.6 732.9L2037.9 726.3L2038.2 776.6L2038.5 821.8L2038.8 833.9L2039.0 859.7L2039.3 837.5L2039.6 709.6L2039.9 640.5L2040.2 679.3L2040.4 758.4L2040.7 860.4L2041.0 956.3L2041.3 1054.4L2041.6 1143.7L2041.9 1220.6L2042.1 1280.5L2042.4 1301.5L2042.7 1311.9L2043.0 1283.9L2043.3 1197.4L2043.6 1034.2L2043.8 881.2L2044.1 798.7L2044.4 743.9L2044.7 746.5L2045.0 772.4L2045.2 843.3L2045.5 866.3L2045.8 890.4L2046.1 861.5L2046.4 715.2L2046.7 659.7L2046.9 701.8L2047.2 778.7L2047.5 877.2L2047.8 966.4L2048.1 1057.9L2048.3 1143.5L2048.6 1217.4L2048.9 1273.2L2049.2 1295.2L2049.5 1311.9L2049.8 1286.4L2050.0 1197.7L2050.3 1020.3L2050.6 857.5L2050.9 790.3L2051.2 706.4L2051.5 700.9L2051.7 732.3L2052.0 757.2L2052.3 801.7L2052.6 831.2L2052.9 814.6L2053.1 683.4L2053.4 617.4L2053.7 662.2L2054.0 743.2L2054.3 846.3L2054.6 947.2L2054.8 1040.2L2055.1 1128.3L2055.4 1212.6L2055.7 1268.0L2056.0 1296.3L2056.3 1311.9L2056.5 1287.1L2056.8 1203.8L2057.1 1045.9L2057.4 892.3L2057.7 855.0L2057.9 790.0L2058.2 777.5L2058.5 804.9L2058.8 842.8L2059.1 873.7L2059.4 912.0L2059.6 887.2L2059.9 737.5L2060.2 679.3L2060.5 718.5L2060.8 794.2L2061.1 884.4L2061.3 976.9L2061.6 1067.2L2061.9 1147.8L2062.2 1222.7L2062.5 1275.5L2062.7 1297.1L2063.0 1311.9L2063.3 1290.6L2063.6 1216.0L2063.9 1064.9L2064.2 923.6L2064.4 856.9L2064.7 789.7L2065.0 789.6L2065.3 813.2L2065.6 868.1L2065.8 902.2L2066.1 926.8L2066.4 925.1L2066.7 789.0L2067.0 737.0L2067.3 774.0L2067.5 853.3L2067.8 947.0L2068.1 1030.8L2068.4 1121.4L2068.7 1202.0L2069.0 1277.0L2069.2 1323.8L2069.5 1351.2L2069.8 1367.7L2070.1 1350.2L2070.4 1281.1L2070.6 1149.1L2070.9 1022.7L2071.2 978.0L2071.5 930.0L2071.8 923.0L2072.1 960.1L2072.3 960.5L2072.6 992.8L2072.9 1032.0L2073.2 1007.2L2073.5 916.1L2073.8 868.5L2074.0 902.8L2074.3 973.5L2074.6 1059.8L2074.9 1134.7L2075.2 1215.7L2075.4 1289.8L2075.7 1357.0L2076.0 1407.8L2076.3 1432.6L2076.6 1446.2L2076.9 1419.5L2077.1 1345.2L2077.4 1194.6L2077.7 1055.5L2078.0 980.7L2078.3 918.3L2078.5 911.2L2078.8 955.1L2079.1 1006.5L2079.4 1044.4L2079.7 1068.6L2080.0 1033.7L2080.2 902.7L2080.5 845.4L2080.8 881.7L2081.1 947.9L2081.4 1031.3L2081.7 1110.7L2081.9 1191.2L2082.2 1268.2L2082.5 1337.3L2082.8 1375.6L2083.1 1396.9L2083.3 1410.5L2083.6 1379.1L2083.9 1286.5L2084.2 1108.1L2084.5 942.5L2084.8 857.9L2085.0 799.9L2085.3 772.7L2085.6 799.2L2085.9 838.2L2086.2 860.7L2086.5 879.4L2086.7 860.0L2087.0 741.1L2087.3 674.7L2087.6 711.2L2087.9 796.7L2088.1 897.4L2088.4 984.8L2088.7 1077.9L2089.0 1169.6L2089.3 1248.0L2089.6 1296.9L2089.8 1324.1L2090.1 1334.8L2090.4 1305.7L2090.7 1221.0L2091.0 1053.2L2091.3 896.7L2091.5 831.2L2091.8 746.1L2092.1 758.3L2092.4 769.6L2092.7 859.2L2092.9 886.4L2093.2 906.5L2093.5 875.6L2093.8 723.1L2094.1 665.0L2094.4 704.5L2094.6 782.0L2094.9 882.4L2095.2 967.7L2095.5 1060.6L2095.8 1147.5L2096.0 1222.9L2096.3 1272.1L2096.6 1295.8L2096.9 1311.9L2097.2 1284.4L2097.5 1204.2L2097.7 1049.2L2098.0 894.5L2098.3 854.2L2098.6 778.2L2098.9 788.4L2099.2 800.8L2099.4 804.7L2099.7 842.7L2100.0 871.7L2100.3 845.6L2100.6 741.4L2100.8 689.0L2101.1 726.4L2101.4 806.8L2101.7 902.9L2102.0 987.5L2102.3 1073.1L2102.5 1158.4L2102.8 1232.3L2103.1 1283.2L2103.4 1313.2L2103.7 1326.2L2104.0 1305.6L2104.2 1219.7L2104.5 1074.1L2104.8 928.2L2105.1 860.6L2105.4 803.4L2105.6 790.4L2105.9 825.9L2106.2 818.2L2106.5 856.1L2106.8 865.7L2107.1 846.0L2107.3 773.2L2107.6 716.2L2107.9 752.1L2108.2 822.5L2108.5 917.6L2108.8 997.8L2109.0 1090.1L2109.3 1169.6L2109.6 1241.0L2109.9 1286.1L2110.2 1308.4L2110.4 1323.4L2110.7 1305.2L2111.0 1226.3L2111.3 1089.2L2111.6 945.6L2111.9 917.8L2112.1 847.1L2112.4 861.8L2112.7 879.3L2113.0 898.7L2113.3 932.0L2113.5 938.2L2113.8 925.3L2114.1 826.0L2114.4 776.2L2114.7 816.8L2115.0 887.0L2115.2 976.3L2115.5 1059.8L2115.8 1151.7L2116.1 1231.0L2116.4 1303.5L2116.7 1350.5L2116.9 1376.8L2117.2 1391.9L2117.5 1379.7L2117.8 1329.9L2118.1 1228.0L2118.3 1133.7L2118.6 1098.9L2118.9 1054.7L2119.2 1065.6L2119.5 1091.8L2119.8 1122.6L2120.0 1145.2L2120.3 1168.4L2120.6 1162.6L2120.9 1066.6L2121.2 1032.3L2121.5 1059.1L2121.7 1120.4L2122.0 1186.3L2122.3 1244.1L2122.6 1309.2L2122.9 1371.5L2123.1 1421.4L2123.4 1465.7L2123.7 1484.5L2124.0 1496.2L2124.3 1474.2L2124.6 1418.3L2124.8 1304.9L2125.1 1188.9L2125.4 1140.9L2125.7 1093.4L2126.0 1074.1L2126.2 1096.6L2126.5 1166.1L2126.8 1173.5L2127.1 1191.8L2127.4 1193.6L2127.7 1070.0L2127.9 1032.3L2128.2 1061.7L2128.5 1111.7L2128.8 1179.4L2129.1 1244.4L2129.4 1312.5L2129.6 1370.5L2129.9 1424.7L2130.2 1459.4L2130.5 1477.6L2130.8 1484.8L2131.0 1460.6L2131.3 1379.9L2131.6 1236.5L2131.9 1091.3L2132.2 1063.1L2132.5 990.7L2132.7 990.1L2133.0 1017.1L2133.3 1046.8L2133.6 1065.2L2133.9 1091.1L2134.2 1061.1L2134.4 925.6L2134.7 868.5L2135.0 898.7L2135.3 964.6L2135.6 1048.0L2135.8 1130.0L2136.1 1199.4L2136.4 1275.8L2136.7 1344.6L2137.0 1386.3L2137.3 1399.8L2137.5 1411.9L2137.8 1385.6L2138.1 1301.5L2138.4 1149.3L2138.7 996.1L2139.0 948.3L2139.2 868.3L2139.5 865.0L2139.8 903.2L2140.1 948.6L2140.4 977.0L2140.6 989.8L2140.9 966.8L2141.2 825.7L2141.5 768.8L2141.8 801.5L2142.1 880.2L2142.3 964.7L2142.6 1052.7L2142.9 1135.3L2143.2 1211.6L2143.5 1286.7L2143.7 1337.1L2144.0 1359.9L2144.3 1369.1L2144.6 1343.3L2144.9 1271.7L2145.2 1129.3L2145.4 991.8L2145.7 914.6L2146.0 851.3L2146.3 846.5L2146.6 876.2L2146.9 915.1L2147.1 944.7L2147.4 964.9L2147.7 970.9L2148.0 857.1L2148.3 803.4L2148.5 834.9L2148.8 907.0L2149.1 994.5L2149.4 1079.4L2149.7 1158.2L2150.0 1235.2L2150.2 1308.9L2150.5 1353.0L2150.8 1373.7L2151.1 1389.1L2151.4 1367.9L2151.7 1299.2L2151.9 1152.7L2152.2 1018.4L2152.5 950.5L2152.8 897.2L2153.1 889.4L2153.3 925.1L2153.6 956.9L2153.9 991.2L2154.2 1000.6L2154.5 993.5L2154.8 892.9L2155.0 839.7L2155.3 873.1L2155.6 939.4L2155.9 1025.7L2156.2 1107.4L2156.5 1191.9L2156.7 1264.4L2157.0 1333.7L2157.3 1374.0L2157.6 1402.8L2157.9 1413.4L2158.1 1392.4L2158.4 1326.4L2158.7 1197.2L2159.0 1075.9L2159.3 1025.7L2159.6 972.0L2159.8 983.9L2160.1 993.5L2160.4 998.1L2160.7 1024.1L2161.0 1065.8L2161.2 1045.6L2161.5 969.5L2161.8 926.2L2162.1 960.6L2162.4 1022.9L2162.7 1109.0L2162.9 1185.6L2163.2 1264.3L2163.5 1334.8L2163.8 1394.2L2164.1 1445.2L2164.4 1464.8L2164.6 1479.1L2164.9 1467.8L2165.2 1426.9L2165.5 1334.1L2165.8 1254.9L2166.0 1229.7L2166.3 1197.0L2166.6 1180.8L2166.9 1205.7L2167.2 1248.2L2167.5 1262.9L2167.7 1277.8L2168.0 1271.4L2168.3 1186.0L2168.6 1157.3L2168.9 1183.0L2169.2 1225.0L2169.4 1282.4L2169.7 1331.5L2170.0 1386.0L2170.3 1432.2L2170.6 1479.8L2170.8 1512.4L2171.1 1529.0L2171.4 1536.2L2171.7 1520.4L2172.0 1475.7L2172.3 1380.5L2172.5 1299.0L2172.8 1269.1L2173.1 1245.4L2173.4 1236.0L2173.7 1245.6L2174.0 1271.7L2174.2 1282.3L2174.5 1302.2L2174.8 1293.5L2175.1 1206.8L2175.4 1172.3L2175.6 1193.3L2175.9 1239.8L2176.2 1289.9L2176.5 1345.4L2176.8 1399.8L2177.1 1445.4L2177.3 1489.2L2177.6 1518.2L2177.9 1529.2L2178.2 1540.5L2178.5 1528.0L2178.7 1480.8L2179.0 1384.1L2179.3 1299.5L2179.6 1280.0L2179.9 1247.3L2180.2 1235.1L2180.4 1243.2L2180.7 1258.6L2181.0 1281.9L2181.3 1304.7L2181.6 1277.9L2181.9 1211.3L2182.1 1180.3L2182.4 1206.5L2182.7 1250.3L2183.0 1300.7L2183.3 1360.0L2183.5 1409.8L2183.8 1462.3L2184.1 1502.3L2184.4 1533.4L2184.7 1547.8L2185.0 1557.7L2185.2 1543.5L2185.5 1495.2L2185.8 1396.3L2186.1 1313.0L2186.4 1264.2L2186.7 1215.5L2186.9 1225.9L2187.2 1227.6L2187.5 1288.8L2187.8 1310.6L2188.1 1314.3L2188.3 1313.2L2188.6 1213.9L2188.9 1182.3L2189.2 1208.3L2189.5 1254.1L2189.8 1306.0L2190.0 1363.1L2190.3 1410.0L2190.6 1463.8L2190.9 1506.4L2191.2 1538.7L2191.4 1552.6L2191.7 1559.1L2192.0 1538.6L2192.3 1477.8L2192.6 1361.7L2192.9 1246.1L2193.1 1214.2L2193.4 1179.1L2193.7 1167.2L2194.0 1203.9L2194.3 1184.8L2194.6 1217.6L2194.8 1223.4L2195.1 1203.5L2195.4 1129.9L2195.7 1090.3L2196.0 1115.3L2196.2 1177.8L2196.5 1249.5L2196.8 1311.1L2197.1 1381.3L2197.4 1437.4L2197.7 1495.1L2197.9 1534.0L2198.2 1550.9L2198.5 1563.4L2198.8 1540.3L2199.1 1477.7L2199.4 1354.8L2199.6 1233.6L2199.9 1197.4L2200.2 1141.0L2200.5 1145.5L2200.8 1157.0L2201.0 1184.2L2201.3 1211.1L2201.6 1244.9L2201.9 1232.7L2202.2 1110.3L2202.5 1069.3L2202.7 1102.8L2203.0 1155.4L2203.3 1229.9L2203.6 1306.5L2203.9 1372.6L2204.2 1437.8L2204.4 1496.8L2204.7 1537.5L2205.0 1556.9L2205.3 1566.2L2205.6 1549.5L2205.8 1502.6L2206.1 1402.7L2206.4 1301.9L2206.7 1243.3L2207.0 1197.1L2207.3 1193.8L2207.5 1227.6L2207.8 1260.2L2208.1 1281.1L2208.4 1302.8L2208.7 1284.8L2208.9 1206.6L2209.2 1172.3L2209.5 1197.5L2209.8 1245.7L2210.1 1305.6L2210.4 1368.4L2210.6 1420.2L2210.9 1477.1L2211.2 1524.9L2211.5 1554.6L2211.8 1570.4L2212.1 1581.9L2212.3 1568.8L2212.6 1529.0L2212.9 1447.5L2213.2 1374.5L2213.5 1342.2L2213.7 1314.1L2214.0 1309.0L2214.3 1331.7L2214.6 1345.6L2214.9 1353.1L2215.2 1375.8L2215.4 1357.2L2215.7 1289.6L2216.0 1262.3L2216.3 1280.0L2216.6 1314.1L2216.9 1363.2L2217.1 1406.4L2217.4 1454.8L2217.7 1490.3L2218.0 1530.3L2218.3 1550.7L2218.5 1563.8L2218.8 1571.9L2219.1 1556.6L2219.4 1525.5L2219.7 1449.0L2220.0 1379.8L2220.2 1348.1L2220.5 1312.4L2220.8 1309.3L2221.1 1324.8L2221.4 1346.3L2221.7 1369.1L2221.9 1389.9L2222.2 1364.0L2222.5 1302.1L2222.8 1277.3L2223.1 1295.0L2223.3 1331.4L2223.6 1378.6L2223.9 1414.4L2224.2 1457.2L2224.5 1492.6L2224.8 1533.1L2225.0 1552.4L2225.3 1567.6L2225.6 1573.4L2225.9 1559.0L2226.2 1509.0L2226.4 1412.4L2226.7 1323.5L2227.0 1271.7L2227.3 1230.1L2227.6 1238.1L2227.9 1252.3L2228.1 1293.9L2228.4 1305.9L2228.7 1319.9L2229.0 1321.3L2229.3 1228.6L2229.6 1191.3L2229.8 1215.4L2230.1 1262.0L2230.4 1320.0L2230.7 1369.7L2231.0 1426.8L2231.2 1472.6L2231.5 1520.0"/>
</g>
<g fill="none" stroke="#000" stroke-width="5" shape-rendering="crispEdges">
<rect x="302.5" y="18.5" width="2003" height="1786"/>
<rect x="302.5" y="18.5" width="768" height="215.7" fill="#fff"/>
</g>
<g fill="none" stroke="#000" stroke-width="5" stroke-linecap="round" shape-rendering="crispEdges">
<line x1="376.3" y1="1804.5" x2="376.3" y2="1840.2"/>
<line x1="658.5" y1="1804.5" x2="658.5" y2="1840.2"/>
<line x1="940.8" y1="1804.5" x2="940.8" y2="1840.2"/>
<line x1="1223.0" y1="1804.5" x2="1223.0" y2="1840.2"/>
<line x1="1505.3" y1="1804.5" x2="1505.3" y2="1840.2"/>
<line x1="1787.5" y1="1804.5" x2="1787.5" y2="1840.2"/>
<line x1="2069.8" y1="1804.5" x2="2069.8" y2="1840.2"/>
<line x1="302.5" y1="1573.8" x2="266.8" y2="1573.8"/>
<line x1="302.5" y1="1160.1" x2="266.8" y2="1160.1"/>
<line x1="302.5" y1="746.3" x2="266.8" y2="746.3"/>
<line x1="302.5" y1="332.6" x2="266.8" y2="332.6"/>
</g>
<defs><filter id="bin" filterUnits="userSpaceOnUse" x="0" y="0" width="2327" height="2099" color-interpolation-filters="sRGB"><feComponentTransfer><feFuncA type="discrete" tableValues="0 1"/></feComponentTransfer></filter></defs>
<line x1="356.5" y1="90.4" x2="464.2" y2="90.4" stroke="#000" stroke-width="9.3" stroke-linecap="round" shape-rendering="crispEdges"/>
<line x1="356.5" y1="162.5" x2="378.4" y2="162.5" stroke="#f00" stroke-width="9.3" stroke-linecap="round" shape-rendering="crispEdges"/>
<line x1="416.6" y1="162.5" x2="438.5" y2="162.5" stroke="#f00" stroke-width="9.3" stroke-linecap="round" shape-rendering="crispEdges"/>
<g filter="url(#bin)">
<text class="lab" x="517" y="112.2">Actuals</text>
<text class="lab" x="516.6" y="184.5">Forecasts (fQRAq5)</text>
<text class="tick" text-anchor="middle" x="375.7" y="1934.3">0</text>
<text class="tick" text-anchor="middle" x="657.9" y="1934.3">1000</text>
<text class="tick" text-anchor="middle" x="940.2" y="1934.3">2000</text>
<text class="tick" text-anchor="middle" x="1222.5" y="1934.3">3000</text>
<text class="tick" text-anchor="middle" x="1504.7" y="1934.3">4000</text>
<text class="tick" text-anchor="middle" x="1787.0" y="1934.3">5000</text>
<text class="tick" text-anchor="middle" x="2069.2" y="1934.3">6000</text>
<text class="tick" text-anchor="middle" transform="translate(215.6 1574.1) rotate(-90)">20000</text>
<text class="tick" text-anchor="middle" transform="translate(215.6 1160.4) rotate(-90)">25000</text>
<text class="tick" text-anchor="middle" transform="translate(215.6 746.6) rotate(-90)">30000</text>
<text class="tick" text-anchor="middle" transform="translate(215.6 332.9) rotate(-90)">35000</text>
<text class="lab" text-anchor="middle" x="1305" y="2078">Observation number</text>
<text class="lab" text-anchor="middle" transform="translate(72.2 910.6) rotate(-90)">Hourly electricity demand (MW)</text>
</g>
</svg>
</body></html>
